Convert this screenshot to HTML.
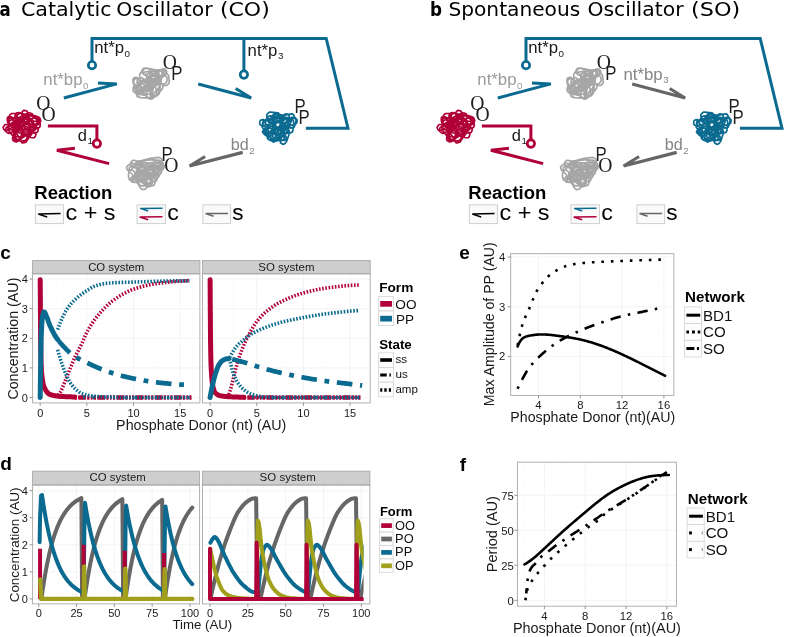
<!DOCTYPE html>
<html lang="en"><head><meta charset="utf-8"><title>Oscillator figure</title>
<style>
html,body{margin:0;padding:0;background:#fff}
body{width:785px;height:637px;overflow:hidden}
svg{display:block}
text{white-space:pre}
</style></head><body>
<svg width="785" height="637" viewBox="0 0 785 637">
<rect width="785" height="637" fill="#fff"/>
<text x="-0.4" y="15.9" font-family='"DejaVu Sans", Verdana, "Liberation Sans", sans-serif' font-size="19" font-weight="bold" fill="#000" text-anchor="start" textLength="11.2" lengthAdjust="spacingAndGlyphs" >a</text>
<text x="20.93" y="15.9" font-family='"DejaVu Sans", Verdana, "Liberation Sans", sans-serif' font-size="19.6" font-weight="normal" fill="#000" text-anchor="start" textLength="90.72" lengthAdjust="spacingAndGlyphs" >Catalytic</text>
<text x="116.34" y="15.9" font-family='"DejaVu Sans", Verdana, "Liberation Sans", sans-serif' font-size="19.6" font-weight="normal" fill="#000" text-anchor="start" textLength="96.19" lengthAdjust="spacingAndGlyphs" >Oscillator</text>
<text x="219.9" y="15.9" font-family='"DejaVu Sans", Verdana, "Liberation Sans", sans-serif' font-size="19.6" font-weight="normal" fill="#000" text-anchor="start" textLength="49.89" lengthAdjust="spacingAndGlyphs" >(CO)</text>
<text x="430" y="15.9" font-family='"DejaVu Sans", Verdana, "Liberation Sans", sans-serif' font-size="19" font-weight="bold" fill="#000" text-anchor="start" textLength="12" lengthAdjust="spacingAndGlyphs" >b</text>
<text x="448.45" y="15.9" font-family='"DejaVu Sans", Verdana, "Liberation Sans", sans-serif' font-size="19.6" font-weight="normal" fill="#000" text-anchor="start" textLength="131.78" lengthAdjust="spacingAndGlyphs" >Spontaneous</text>
<text x="587.44" y="15.9" font-family='"DejaVu Sans", Verdana, "Liberation Sans", sans-serif' font-size="19.6" font-weight="normal" fill="#000" text-anchor="start" textLength="96.09" lengthAdjust="spacingAndGlyphs" >Oscillator</text>
<text x="691.07" y="15.9" font-family='"DejaVu Sans", Verdana, "Liberation Sans", sans-serif' font-size="19.6" font-weight="normal" fill="#000" text-anchor="start" textLength="49.21" lengthAdjust="spacingAndGlyphs" >(SO)</text>
<path d="M92 61 L92 38.45 L326.2 38.45 L348 128.2 L305.9 128.2" fill="none" stroke="#0a6a90" stroke-width="3" stroke-linejoin="miter"/>
<path d="M243.9 38.4 L243.9 71" fill="none" stroke="#0a6a90" stroke-width="3"/>
<circle cx="243.9" cy="74.6" r="3.7" fill="#fff" stroke="#0a6a90" stroke-width="2.7"/>
<circle cx="92" cy="65.2" r="3.7" fill="#fff" stroke="#0a6a90" stroke-width="2.7"/>
<text x="94.2" y="53.2" font-family='"Liberation Sans", Arial, Helvetica, sans-serif' font-size="16.5" font-weight="normal" fill="#1a1a1a" text-anchor="start" textLength="29.8" lengthAdjust="spacingAndGlyphs" >nt*p</text>
<text x="124.6" y="56.6" font-family='"Liberation Sans", Arial, Helvetica, sans-serif' font-size="9.8" font-weight="normal" fill="#1a1a1a" text-anchor="start" >0</text>
<text x="43.3" y="85.2" font-family='"Liberation Sans", Arial, Helvetica, sans-serif' font-size="16.5" font-weight="normal" fill="#9c9c9c" text-anchor="start" textLength="39.2" lengthAdjust="spacingAndGlyphs" >nt*bp</text>
<text x="83.1" y="88.6" font-family='"Liberation Sans", Arial, Helvetica, sans-serif' font-size="9.8" font-weight="normal" fill="#9c9c9c" text-anchor="start" >0</text>
<text x="247.6" y="55.5" font-family='"Liberation Sans", Arial, Helvetica, sans-serif' font-size="16.5" font-weight="normal" fill="#1a1a1a" text-anchor="start" textLength="29.8" lengthAdjust="spacingAndGlyphs" >nt*p</text>
<text x="278" y="58.9" font-family='"Liberation Sans", Arial, Helvetica, sans-serif' font-size="9.8" font-weight="normal" fill="#1a1a1a" text-anchor="start" >3</text>
<text x="230.7" y="150.2" font-family='"Liberation Sans", Arial, Helvetica, sans-serif' font-size="16.5" font-weight="normal" fill="#858585" text-anchor="start" textLength="18" lengthAdjust="spacingAndGlyphs" >bd</text>
<text x="249.3" y="153.6" font-family='"Liberation Sans", Arial, Helvetica, sans-serif' font-size="9.8" font-weight="normal" fill="#858585" text-anchor="start" >2</text>
<text x="77.7" y="140.5" font-family='"Liberation Sans", Arial, Helvetica, sans-serif' font-size="16.5" font-weight="normal" fill="#1a1a1a" text-anchor="start" textLength="9.2" lengthAdjust="spacingAndGlyphs" >d</text>
<text x="87.5" y="143.9" font-family='"Liberation Sans", Arial, Helvetica, sans-serif' font-size="9.8" font-weight="normal" fill="#1a1a1a" text-anchor="start" >1</text>
<path d="M63.8 98 L116.8 83.9 L98 83.1" fill="none" stroke="#0a6a90" stroke-width="3" stroke-linejoin="bevel"/>
<path d="M198.2 84 L251.2 98 L235.7 88.5" fill="none" stroke="#0a6a90" stroke-width="3" stroke-linejoin="bevel"/>
<path d="M242.7 152.4 L189.6 166 L205.1 156.5" fill="none" stroke="#666666" stroke-width="3.2" stroke-linejoin="bevel"/>
<path d="M109.1 163.6 L56.9 150.3 L74.9 148.2" fill="none" stroke="#b00037" stroke-width="3" stroke-linejoin="bevel"/>
<path d="M47.9 126.1 L96.9 126.1 L96.9 140" fill="none" stroke="#b00037" stroke-width="3"/>
<circle cx="96.9" cy="143.6" r="3.7" fill="#fff" stroke="#b00037" stroke-width="2.7"/>
<path d="M19.8 126.8 Q18.29 125.65 17.72 123.84 Q17.89 121.95 18.84 120.3 Q20.63 119.67 22.53 119.62 Q24.31 120.3 25.36 121.88 Q25.26 123.78 25.07 125.67 Q24.92 127.56 24.51 129.42 Q23.26 130.85 21.48 131.5 Q19.66 130.95 18.26 129.67 Q17.5 127.93 16.56 126.28 Q15.87 124.51 14.69 123.02 Q13.47 121.56 13.41 119.66 Q12.63 117.92 11.13 116.75 Q9.28 116.33 7.6 117.21 Q6.91 118.98 7.39 120.82 Q7.62 122.7 9.02 123.99 Q10.87 124.41 12.58 123.57 Q14.17 122.53 15.64 121.33 Q17.08 120.1 18.81 119.3 Q20.37 118.22 22.27 118.37 Q23.61 119.71 24.34 121.47 Q26.02 122.36 27.88 121.97 Q29.58 121.13 31.23 120.2 Q32.6 118.88 33.39 117.15 Q33.17 115.27 32.1 113.7 Q30.38 112.88 28.49 112.74 Q26.67 113.29 25.12 114.4 Q23.29 114.91 21.77 116.04 Q20.08 116.91 18.41 117.83 Q17.78 119.62 18.46 121.39 Q19.69 122.84 20.25 124.65 Q19.93 126.53 18.63 127.91 Q16.84 128.57 15.23 129.57 Q13.66 130.63 12.17 131.82 Q10.66 132.97 8.8 133.37 Q7.01 132.76 5.75 131.34 Q5.28 129.5 6.03 127.75 Q7.58 126.66 8.85 125.24 Q10.4 124.15 11.9 122.98 Q13.4 121.82 14.77 120.49 Q16.34 119.43 17.8 118.22 Q19.51 117.39 21.16 116.44 Q23.06 116.41 24.96 116.51 Q26.85 116.33 28.74 116.16 Q30.61 115.81 32.47 116.16 Q34.37 116.2 36.27 116.19 Q37.89 117.19 38.96 118.76 Q39.11 120.65 38.53 122.46 Q37.56 124.09 36.49 125.67 Q35.5 127.29 34.47 128.88 Q33.1 130.2 31.29 130.79 Q29.5 130.16 28.09 128.88 Q26.22 128.58 24.6 129.57 Q23.49 131.11 22.73 132.85 Q22.4 134.72 21.48 136.38 Q21.2 138.26 19.88 139.63 Q18.07 140.21 16.19 139.89 Q14.68 138.75 14.14 136.93 Q14.3 135.03 15.43 133.51 Q16.23 131.78 17.05 130.07 Q17.77 128.31 18.84 126.75 Q18.77 124.85 18.04 123.09 Q17.2 121.39 16.32 119.7 Q15.77 117.88 14.88 116.21 Q15.24 114.34 16.54 112.95 Q18.34 112.36 20.18 112.84 Q21.98 113.45 23.76 114.1 Q25.51 114.85 27.12 115.86 Q27.89 117.59 27.65 119.48 Q27.45 121.37 26.38 122.94 Q24.6 123.59 22.7 123.43 Q21.05 122.5 19.6 121.27 Q18.11 120.08 16.51 119.06 Q14.89 118.07 13.05 117.61 Q11.26 116.97 9.45 117.56 Q8.07 118.86 7.85 120.75 Q8.52 122.53 9.86 123.88 Q11.02 125.39 12.2 126.87 Q13.41 128.34 14.25 130.04 Q15.47 131.5 16.26 133.23 Q17.48 134.68 18.4 136.34 Q19.39 137.96 19.27 139.86 Q18.05 141.31 16.25 141.93 Q14.37 141.65 12.96 140.38 Q12.4 138.57 12.81 136.71 Q14.06 135.28 15.65 134.24 Q16.99 132.9 18.19 131.42 Q19.57 130.11 20.93 128.79 Q22.23 127.41 23.72 126.22 Q25.31 125.18 26.71 123.9 Q28.18 122.7 29.75 121.63 Q31.04 120.23 32.35 118.86 Q33.82 117.65 35.69 117.3 Q37.37 118.18 38.19 119.9 Q38.3 121.8 37.7 123.6 Q36.45 125.03 34.74 125.86 Q32.9 126.32 31.15 127.06 Q29.5 128 27.66 128.48 Q26.11 129.57 24.27 130.05 Q22.64 131.03 21.54 132.58 Q21.64 134.48 21.12 136.31 Q20.77 138.18 20.34 140.03 Q20.88 141.85 22.43 142.95 Q24.33 142.92 26 142.01 Q26.92 140.35 28.11 138.86 Q29.23 137.33 30.3 135.76 Q31.75 134.54 32.18 132.69 Q31.27 131.02 30.89 129.16 Q30.27 127.36 30.39 125.47 Q31.64 124.04 33.52 123.8 Q35.25 124.59 36.21 126.23 Q36.08 128.13 35.25 129.84 Q33.5 130.58 31.8 131.43 Q30.15 132.37 28.78 133.69 Q27.15 134.66 25.49 135.59 Q24.02 136.79 22.43 137.83 Q20.79 138.79 19.33 140 Q17.5 140.54 15.62 140.32 Q14.3 138.95 13.71 137.14 Q13.33 135.28 13.52 133.39 Q13.28 131.5 13.49 129.62 Q13.43 127.72 13.15 125.84 Q13.06 123.94 13.15 122.04 Q14.37 120.59 16.19 120.04 Q18.06 119.68 19.93 119.37 Q21.8 119.02 23.07 117.61 Q24.91 117.15 26.78 117.5 Q27.99 118.97 28.44 120.81 Q29.11 122.59 29.5 124.45 Q29.92 126.3 30.18 128.18 Q30.69 130.01 31.32 131.81 Q31.25 133.7 30.27 135.33 Q28.74 136.46 26.84 136.48 Q25.09 135.74 24.17 134.08 Q23.35 132.36 22.83 130.54 Q22.14 128.76 21.64 126.93 Q20.65 125.31 20.06 123.51 Q19.36 121.74 18.62 119.99 Q17.65 118.36 16.91 116.61 Q16.39 114.78 14.94 113.55 Q13.05 113.36 11.18 113.71 Q9.59 114.75 8.98 116.55 Q8.82 118.44 8.56 120.33 Q8.47 122.22 8.52 124.12 Q8.5 126.02 8.73 127.91 Q9.82 129.46 11.64 130.01 Q13.49 129.56 14.67 128.08 Q15.29 126.28 16.28 124.66 Q16.75 122.82 18.24 121.64 Q20.07 121.15 21.9 121.66 Q23.3 122.95 23.53 124.84 Q22.83 126.61 21.22 127.61 Q19.34 127.32 17.84 126.16 Q17.38 124.31 18.13 122.57 Q19.59 121.35 21.42 120.85 Q23.31 121.07 25.1 121.71 Q26.72 122.71 28.55 123.2 Q30.19 124.16 31.96 124.86 Q33.65 125.73 35.37 126.52 Q37.08 127.36 38.21 128.89 Q38.33 130.78 37.26 132.35 Q35.42 132.81 33.52 132.9 Q31.84 132 30.13 131.19 Q28.37 130.46 26.52 130.02 Q24.74 129.35 22.86 129.08 Q20.98 128.82 19.3 127.94 Q18.36 126.29 18.66 124.41 Q20.1 123.17 21.41 121.8 Q22.31 120.12 23.58 118.71 Q24.98 117.43 26.88 117.34 Q28.52 118.29 29.91 119.59 Q31.45 120.7 32.98 121.83 Q33.77 123.55 35.3 124.68 Q37.19 124.95 38.92 124.17 Q40.15 122.73 40.73 120.92 Q40.48 119.04 39.37 117.49 Q37.69 116.6 35.87 116.07 Q34.09 115.41 32.22 115.07 Q30.34 114.81 28.45 114.63 Q26.56 114.41 24.99 115.48 Q24.52 117.32 25.12 119.12 Q26.75 120.09 28.65 120.11 Q30.42 119.42 32.13 118.58 Q33.89 117.86 35.74 118.3 Q36.88 119.82 37.14 121.7 Q36.57 123.51 35.61 125.15 Q34.82 126.88 33.69 128.4 Q32.43 129.83 31.33 131.38 Q30.1 132.82 29.31 134.55 Q28.36 136.2 27.23 137.72 Q26.53 139.49 24.97 140.57 Q23.08 140.78 21.2 141.05 Q19.31 140.92 17.69 139.93 Q16.21 138.74 14.98 137.29 Q13.5 136.1 12.04 134.89 Q10.92 133.35 9.74 131.86 Q8.36 130.56 7.95 128.7 Q8.39 126.85 9.92 125.72 Q11.82 125.62 13.72 125.62 Q15.58 126 17.45 126.34 Q19.34 126.52 21.24 126.45 Q23.14 126.5 25.03 126.69 Q26.92 126.9 28.71 127.52 Q30.61 127.52 32.51 127.58 Q34.34 128.1 36.17 128.61 Q38.06 128.37 39.59 127.24 Q40.58 125.62 40.26 123.75 Q39.2 122.18 37.41 121.52 Q35.53 121.27 33.65 121.02 Q31.88 120.32 30.16 119.51 Q28.43 118.73 26.69 117.97 Q24.9 117.34 23.13 116.64 Q21.79 115.29 21.46 113.42 Q22.11 111.64 23.59 110.44 Q25.49 110.4 27.17 111.3 Q28.12 112.95 28.69 114.76 Q29.38 116.53 29.89 118.36 Q30.9 119.97 31.46 121.78 Q32.34 123.47 33.11 125.2 Q33.89 126.94 33.54 128.81 Q32.12 130.07 30.53 131.1 Q29.13 132.39 28.76 134.25 Q29.3 136.07 30.57 137.48 Q32.42 137.93 34.29 137.58 Q35.72 136.33 35.96 134.45 Q35.04 132.79 33.51 131.65 Q31.66 131.24 29.94 132.05 Q28.41 133.18 26.61 133.79 Q24.86 134.51 23.25 135.53 Q21.6 136.46 19.72 136.73 Q17.82 136.68 15.95 136.36 Q14.5 135.13 14.1 133.27 Q14.68 131.47 14.9 129.58 Q15.31 127.72 15.75 125.88 Q15.85 123.98 16.28 122.13 Q16.2 120.23 16.65 118.38 Q17.07 116.53 17.56 114.69 Q19.06 113.53 20.94 113.26 Q22.78 113.72 24 115.18 Q24.42 117.03 24.01 118.89 Q22.64 120.2 21.09 121.29 Q19.53 122.37 17.88 123.32 Q16.4 124.52 14.84 125.6 Q13.3 126.71 11.6 127.57 Q10.09 128.72 8.52 129.78 Q6.91 130.79 5.01 130.65 Q3.52 129.49 3.07 127.64 Q3.68 125.84 5.06 124.53 Q6.95 124.37 8.78 124.87 Q10.51 125.66 12.34 125.14 Q13.78 123.91 14.42 122.12 Q14.3 120.22 13.2 118.67 Q11.46 117.9 9.58 118.16 Q7.95 119.12 7.37 120.93 Q7.81 122.78 8.93 124.32 Q10.75 124.86 12.65 124.84 Q14.55 124.8 16.45 124.79 Q18.34 124.97 20.24 124.93 Q22.11 125.22 23.98 124.87 Q25.85 124.52 27.75 124.64 Q29.33 125.69 30.28 127.33 Q30.27 129.23 29.08 130.71 Q27.28 131.32 25.52 132.06 Q23.9 133.04 22.09 133.61 Q20.19 133.47 18.54 132.53 Q17.01 131.4 15.8 129.94 Q14.24 128.85 13.03 127.38 Q11.47 126.29 9.95 125.16 Q8.88 123.59 8.82 121.69 Q9.85 120.09 11.67 119.56 Q13.53 119.96 14.7 121.46 Q14.99 123.33 14.69 125.21 Q14.55 127.1 14.52 129 Q14.2 130.88 14.47 132.76 Q14.18 134.64 14.47 136.51 Q14.33 138.41 15.13 140.13 Q16.82 140.99 18.72 140.96 Q20.47 140.22 21.31 138.52 Q21.75 136.67 21.74 134.77 Q21.86 132.87 22.06 130.98 Q22.11 129.09 22.57 127.24" fill="none" stroke="#b00037" stroke-width="1.7" stroke-linecap="round" stroke-linejoin="round"/>
<path d="M148.2 84.4 Q146.67 83.27 146.03 81.48 Q146.74 79.72 148.41 78.81 Q150.27 78.43 152.15 78.74 Q154.05 78.67 155.95 78.62 Q157.84 78.79 159.16 80.15 Q159.45 82.03 159.03 83.88 Q157.64 85.18 155.78 85.56 Q153.93 85.15 152.05 84.85 Q150.26 84.21 148.63 83.24 Q146.77 82.84 145.03 82.07 Q143.35 81.19 141.49 80.79 Q139.66 81.3 138.39 82.71 Q138.23 84.6 139.16 86.26 Q140.82 87.18 142.72 87.19 Q144.56 86.7 146.46 86.74 Q148.36 86.67 150.18 86.14 Q151.94 86.87 153.14 88.34 Q153.17 90.24 152.49 92.02 Q150.94 93.12 149.15 93.75 Q147.29 94.17 145.53 94.87 Q143.7 95.38 141.95 94.63 Q140.72 93.18 140.72 91.28 Q141.62 89.61 143.11 88.44 Q144.81 87.57 146.52 86.76 Q148.11 85.72 149.5 84.42 Q151.04 83.3 152.66 82.32 Q154.03 81 155.63 79.97 Q157.06 78.72 157.66 76.91 Q157.01 75.13 155.49 74 Q153.62 73.65 151.92 74.52 Q150.43 75.69 148.9 76.82 Q148.05 78.52 148.55 80.36 Q149.72 81.85 151.37 82.79 Q153.27 82.91 155.06 82.27 Q156.17 80.73 156.65 78.89 Q157.03 77.03 157.22 75.14 Q157.27 73.24 156.18 71.69 Q154.37 71.11 152.47 71.28 Q150.96 72.42 150.18 74.16 Q149.59 75.96 148.62 77.6 Q148.15 79.44 147.69 81.28 Q146.62 82.85 146.02 84.66 Q145.19 86.36 144.51 88.14 Q143.93 89.95 143.16 91.68 Q141.8 93.01 139.92 93.27 Q138.12 92.64 136.98 91.12 Q137.02 89.22 137.79 87.49 Q138.35 85.67 138.97 83.87 Q139.76 82.14 139.46 80.27 Q138.48 78.64 136.98 77.48 Q135.08 77.34 133.41 78.25 Q132.6 79.96 132.91 81.84 Q133.57 83.62 133.89 85.49 Q134.75 87.18 134.95 89.07 Q135.44 90.91 135.76 92.78 Q136.98 94.24 138.79 94.81 Q140.69 94.65 142.27 93.6 Q142.78 91.77 143.08 89.89 Q143.88 88.17 144.66 86.44 Q144.31 84.57 142.87 83.32 Q141.01 82.94 139.19 83.48 Q137.58 84.5 135.9 85.38 Q134.26 86.34 133.14 87.87 Q132.93 89.76 133.49 91.58 Q134.69 93.05 136.56 93.4 Q138.42 93.04 139.96 91.92 Q141.75 91.27 143.31 90.19 Q144.97 89.26 146.61 88.3 Q148.36 87.56 150.03 86.65 Q151.74 85.83 153.54 85.22 Q155.3 84.51 157.07 83.8 Q158.68 82.8 160.41 82.02 Q161.36 80.37 161.54 78.48 Q160.81 76.73 159.18 75.76 Q157.28 75.93 155.8 77.11 Q155.07 78.86 155.03 80.76 Q155.15 82.66 155.25 84.56 Q155.31 86.46 155.91 88.26 Q156.02 90.16 156.58 91.97 Q156.58 93.87 155.68 95.54 Q153.94 96.3 152.04 96.32 Q150.57 95.12 149.98 93.31 Q150.48 91.48 150.93 89.64 Q151.5 87.82 152.4 86.15 Q152.97 84.34 153.99 82.74 Q155.6 81.72 157.01 80.45 Q158.51 79.29 160.04 78.15 Q161.82 77.51 163.45 76.53 Q164.82 75.21 165.59 73.47 Q165.37 71.58 164.01 70.26 Q162.22 69.63 160.34 69.93 Q158.58 70.65 156.84 71.4 Q155.25 72.44 153.74 73.6 Q152.32 74.86 150.79 75.98 Q149.27 77.13 147.72 78.22 Q146.09 79.21 144.3 79.84 Q142.63 80.75 140.9 81.53 Q139.28 82.53 138.61 84.3 Q139.11 86.14 140.42 87.51 Q141.7 88.92 142.88 90.4 Q144.1 91.86 144.91 93.58 Q146.21 94.96 147.3 96.52 Q148.34 98.11 149.94 99.13 Q151.84 99.2 153.4 98.11 Q153.92 96.28 153.35 94.46 Q152.12 93.02 150.97 91.5 Q149.15 90.95 147.26 90.81 Q145.37 90.95 143.47 91.12 Q141.57 91.01 139.68 91.04 Q137.8 91.37 136.6 92.85 Q136.23 94.71 137.17 96.36 Q138.9 97.16 140.72 97.69 Q142.62 97.8 144.51 97.96 Q146.41 97.82 148.26 98.22 Q150.11 97.78 151.5 96.48 Q152.21 94.72 151.89 92.85 Q150.93 91.2 149.77 89.7 Q148.91 88.01 148.13 86.27 Q147.23 84.6 146.15 83.04 Q145.05 81.49 144.28 79.75 Q143.05 78.3 141.32 77.53 Q139.43 77.71 137.96 78.92 Q137.05 80.59 136.95 82.49 Q137.95 84.1 139.75 84.73 Q141.5 83.99 143.27 83.3 Q145.02 82.55 146.82 81.94 Q148.61 81.3 150.34 80.52 Q152.09 79.79 153.93 79.32 Q155.82 79.07 157.63 78.52 Q159.33 77.67 161.22 77.42 Q162.93 76.6 164.5 75.52 Q166.16 74.61 166.85 72.84 Q166.62 70.95 165.53 69.39 Q163.77 68.69 161.95 69.24 Q160.1 69.7 158.91 71.18 Q158.54 73.04 159.03 74.88 Q160.4 76.19 160.98 78 Q160.76 79.89 160.39 81.75 Q159.97 83.6 159.5 85.44 Q158.89 87.24 158.53 89.11 Q158.11 90.96 158.78 92.74 Q158.41 94.6 157.07 95.94 Q155.18 96.16 153.55 95.18 Q152.28 93.76 151.03 92.33 Q149.86 90.84 148.38 89.64 Q147.14 88.2 145.65 87.02 Q144.51 85.5 143.31 84.03 Q142.16 82.52 140.93 81.07 Q139.68 79.64 138.17 78.48 Q136.28 78.31 134.56 79.12 Q133.42 80.64 133.46 82.54 Q134.66 84.01 135.69 85.61 Q136.94 87.04 138.45 88.19 Q139.66 89.65 141.13 90.86 Q142.19 92.43 143.47 93.84 Q144.88 95.11 146.3 96.37 Q147.55 97.81 149.34 98.42 Q151.11 97.72 152.03 96.06 Q152.97 94.41 154.22 92.98 Q155.46 91.54 156.73 90.13 Q158.12 88.83 159.09 87.2 Q160.13 85.61 159.91 83.72 Q158.78 82.19 157.02 81.48 Q155.23 80.83 153.69 79.72 Q151.91 79.06 150.38 77.93 Q148.73 76.99 147.11 76 Q145.34 75.31 143.65 74.44 Q142.21 73.2 141.51 71.43 Q142.14 69.64 143.41 68.23 Q145.26 67.79 147.13 68.15 Q148.92 68.77 150.82 68.81 Q152.66 69.28 154.5 69.76 Q156.4 69.7 158.27 70.07 Q160.12 70.48 161.59 71.68 Q162.47 73.37 162.12 75.24 Q161.13 76.86 160.18 78.5 Q159.17 80.11 158.01 81.61 Q157.04 83.25 156.14 84.92 Q154.95 86.4 153.65 87.79 Q152.34 89.17 151.39 90.81 Q150.13 92.23 149.81 94.11 Q150.35 95.93 151.61 97.36 Q153.46 97.76 155.12 96.83 Q156.49 95.51 157.44 93.87 Q158.88 92.63 160.29 91.35 Q161.33 89.77 162.6 88.35 Q163.21 86.55 162.91 84.67 Q161.71 83.19 159.91 82.58 Q158.05 82.95 156.24 82.37 Q155.16 80.81 155.09 78.91 Q156.09 77.3 157.8 76.48 Q159.66 76.09 161.41 75.34 Q163.3 75.26 165.09 74.6 Q166.36 73.19 166.79 71.34 Q165.92 69.66 164.17 68.9 Q162.27 68.94 160.58 69.81 Q159.05 70.93 157.4 71.87 Q156.76 73.66 157.47 75.42 Q158.14 77.2 159.28 78.72 Q160.05 80.46 160.94 82.13 Q161.68 83.89 163.12 85.12 Q164.93 85.69 166.81 85.4 Q168.35 84.29 169.27 82.63 Q169.1 80.74 168.94 78.84 Q168.62 76.97 168.46 75.08 Q167.28 73.59 165.42 73.21 Q163.65 73.88 162.33 75.25 Q161.67 77.04 161.2 78.88 Q161.26 80.78 160.73 82.6 Q160.8 84.5 160.24 86.31 Q159.85 88.17 159.93 90.07 Q159.66 91.95 159.17 93.79 Q158.02 95.31 156.21 95.87 Q154.33 95.6 152.87 94.38 Q152.19 92.61 151.67 90.78 Q150.85 89.07 149.74 87.52 Q149.16 85.71 148.58 83.9 Q147.95 82.11 147.05 80.44 Q145.33 79.63 143.43 79.54 Q141.73 80.38 140.15 81.44 Q138.74 82.71 137.44 84.1 Q136.15 85.49 135.9 87.38 Q136.44 89.2 137.77 90.56 Q139.53 91.26 141.42 91.09 Q143.24 90.55 145.13 90.35 Q147.03 90.17 148.87 89.72 Q150.63 90.45 152.49 90.08 Q153.64 88.57 153.75 86.67 Q152.76 85.04 152.23 83.22 Q151.48 81.47 150.53 79.83 Q150.8 77.95 152 76.49 Q153.87 76.14 155.57 76.99 Q157.46 76.82 159.28 76.27 Q161.16 75.97 163 75.51 Q164.9 75.44 166.39 76.63 Q167.17 78.36 167.14 80.26 Q166.61 82.08 165.36 83.51 Q163.66 84.37 161.81 83.97 Q160.34 82.76 159.83 80.93 Q160.09 79.05 161.29 77.57 Q162.39 76.02 163.58 74.54 Q163.49 72.64 162.62 70.96 Q160.97 70.02 159.07 69.94 Q157.19 70.24 155.29 70.21 Q153.5 70.82 151.64 71.21 Q149.74 71.34 147.85 71.57 Q145.98 71.91 144.09 72.09 Q142.2 72.15 140.45 72.9 Q139.46 74.52 139.69 76.41 Q140.01 78.28 139.85 80.18 Q140.24 82.04 140.59 83.9 Q140.86 85.78 141 87.68 Q141.21 89.57 140.93 91.45 Q141.02 93.34 142.34 94.71 Q144.23 94.94 146.03 94.35 Q147.21 92.86 147.27 90.96 Q147.33 89.06 147.12 87.17 Q146.89 85.29 147.13 83.4 Q146.85 81.52 146.52 79.65 Q146.76 77.77 146.77 75.87 Q147.5 74.11 148.96 72.9 Q150.85 72.73 152.65 73.34 Q154.08 74.59 155.6 75.74 Q156.47 77.43 156.08 79.29 Q154.72 80.62 152.91 81.18 Q151.03 80.9 149.71 79.53 Q149.56 77.64 150.16 75.84 Q151.73 74.77 153.63 74.85 Q155.3 75.75 156.17 77.44 Q155.93 79.33 154.52 80.6 Q152.62 80.61 151.05 79.54 Q150.21 77.84 150.52 75.96 Q150.4 74.07 150.57 72.17 Q150.35 70.29 149.04 68.91 Q147.3 68.14 145.41 68.32 Q143.75 69.25 142.62 70.77 Q142.71 72.67 143.8 74.23 Q145.64 74.69 147.5 74.28 Q148.74 72.85 150.61 72.51 Q152.42 73.1 153.79 74.42" fill="none" stroke="#a6a6a6" stroke-width="1.7" stroke-linecap="round" stroke-linejoin="round"/>
<path d="M142.6 173.7 Q144 174.99 145.8 175.59 Q147.68 175.3 148.92 173.86 Q149.33 172 148.82 170.17 Q147.69 168.64 146.41 167.24 Q144.95 166.03 143.7 164.6 Q142.34 163.27 140.89 162.05 Q138.99 162.04 137.33 162.98 Q136.21 164.51 136.13 166.41 Q137 168.1 138.24 169.54 Q138.95 171.3 139.64 173.07 Q140.9 174.5 141.59 176.27 Q142.61 177.87 143.45 179.57 Q144.72 180.99 145.35 182.78 Q145.09 184.67 143.7 185.95 Q141.8 186.06 140.04 185.35 Q138.98 183.78 138.49 181.94 Q138.12 180.08 138.02 178.18 Q137.51 176.35 137.35 174.45 Q136.79 172.64 136.7 170.74 Q136.42 168.86 135.88 167.04 Q134.42 165.82 132.53 165.58 Q130.72 166.16 129.39 167.52 Q128.83 169.33 129.31 171.18 Q130.53 172.63 131.83 174.01 Q132.99 175.52 133.88 177.2 Q134.74 178.89 135.92 180.38 Q136.8 182.07 137.85 183.65 Q138.84 185.27 139.72 186.95 Q140.63 188.62 142.27 189.58 Q144.16 189.51 145.85 188.64 Q146.96 187.09 147.39 185.24 Q146.97 183.38 145.91 181.81 Q144.08 181.3 142.21 180.96 Q140.31 180.87 138.5 180.28 Q136.95 179.18 135.67 177.78 Q135.57 175.88 136.34 174.14 Q137.91 173.07 139.71 172.47 Q141.42 171.65 143.16 170.87 Q145.05 170.74 146.94 170.99 Q148.38 172.23 148.71 174.1 Q149.42 175.86 150 177.67 Q150.34 179.54 150.34 181.44 Q151.04 183.21 151.05 185.11 Q149.88 186.6 148.02 186.99 Q146.15 186.63 144.57 185.58 Q143.65 183.92 143.86 182.03 Q145.26 180.75 146.31 179.16 Q147.79 177.97 148.9 176.43 Q150.39 175.24 151.4 173.64 Q152.84 172.4 153.83 170.78 Q155.3 169.56 156.75 168.35 Q157.99 166.91 159.18 165.43 Q160.41 163.97 161.87 162.76 Q162.37 160.92 161.8 159.11 Q160.36 157.88 158.53 157.37 Q156.66 157.72 154.76 157.84 Q152.88 158.11 151.07 158.67 Q149.17 158.79 147.29 159.09 Q145.42 159.42 143.65 160.11 Q141.98 161.01 140.98 162.62 Q141.21 164.51 142.12 166.18 Q143.76 167.14 145.64 166.92 Q147.49 166.48 149.37 166.18 Q151.17 165.57 153 165.07 Q154.79 164.43 156.55 163.72 Q158.37 163.19 160.2 162.68 Q161.96 163.39 162.99 164.99 Q163.26 166.87 162.34 168.53 Q160.58 169.25 158.7 169 Q156.82 168.69 155.06 167.99 Q153.19 167.66 151.44 166.9 Q149.58 166.52 147.73 166.1 Q146 166.9 144.84 168.4 Q144.74 170.3 145.56 172.01 Q147.24 172.91 149.14 172.88 Q151.01 173.18 152.9 172.95 Q154.8 173.05 156.7 173.04 Q158.44 172.29 159.76 170.92 Q160.08 169.05 159.11 167.41 Q157.54 166.34 155.65 166.53 Q154.14 167.68 152.49 168.62 Q150.82 169.54 149.17 170.48 Q148.24 172.14 148.42 174.03 Q149.71 175.42 151.42 176.25 Q153.32 176.32 154.96 175.36 Q156.13 173.87 156.84 172.11 Q157.78 170.46 158.56 168.73 Q159.73 167.22 160.96 165.78 Q161.74 164.05 161.5 162.16 Q160.3 160.69 158.53 159.99 Q156.64 160.11 154.74 160.03 Q152.84 160.03 150.94 159.94 Q149.04 159.93 147.14 160.07 Q145.26 160.31 143.36 160.36 Q141.5 160.73 139.69 161.32 Q138.61 162.88 138.19 164.73 Q138.9 166.49 140.58 167.38 Q142.42 166.93 143.91 165.75 Q145.04 164.22 146.39 162.89 Q148.26 162.51 150.03 163.18 Q151.28 164.61 152.07 166.34 Q152.33 168.22 153.12 169.95 Q153.67 171.77 154.08 173.63 Q154.6 175.45 154.98 177.32 Q154.82 179.21 155.15 181.08 Q155.1 182.98 154.31 184.71 Q152.78 185.84 150.9 186.05 Q149.09 185.48 148.04 183.89 Q147.2 182.19 146.25 180.54 Q145.7 178.72 145.08 176.92 Q144.13 175.28 143.57 173.46 Q142.84 171.71 141.49 170.38 Q139.67 169.82 137.91 170.52 Q136.7 171.99 135.97 173.74 Q134.94 175.34 135.13 177.23 Q136.15 178.84 137.67 179.98 Q139.18 181.13 140.9 181.94 Q142.42 183.08 144.07 184.02 Q145.67 185.04 147.57 184.97 Q149.12 183.88 150.06 182.22 Q151.28 180.77 152.47 179.29 Q153.63 177.78 154.67 176.19 Q154.59 174.29 153.27 172.92 Q151.44 172.43 149.54 172.5 Q147.66 172.76 145.76 172.92 Q143.86 173.01 141.97 172.86 Q140.12 172.45 138.23 172.18 Q136.34 172.29 134.86 173.48 Q134.51 175.35 135.34 177.05 Q134.88 178.9 133.56 180.26 Q131.71 180.71 129.89 180.17 Q128.64 178.75 128.58 176.85 Q128.39 174.96 128.66 173.08 Q128.91 171.19 130.31 169.91 Q132.21 169.87 133.65 171.1 Q135.01 172.43 136.33 173.8 Q137.8 175 138.91 176.54 Q140.32 177.81 141.61 179.21 Q142.74 180.74 143.99 182.16 Q145.53 183.28 146.67 184.8 Q148.36 185.68 150.24 185.41 Q151.8 184.33 152.52 182.58 Q152.22 180.7 152.24 178.8 Q152.54 176.92 152.61 175.02 Q152.57 173.13 152.74 171.23 Q152.86 169.34 152.72 167.44 Q153.75 165.85 155.47 165.05 Q157.29 165.6 158.6 166.98 Q158.83 168.87 158.55 170.75 Q157.12 172 155.24 172.24 Q153.44 172.86 151.56 173.09 Q149.7 173.51 147.82 173.73 Q145.98 174.21 144.18 174.82 Q142.28 174.86 140.43 175.31 Q138.55 175.6 136.66 175.79 Q134.8 176.14 132.91 176.32 Q131.22 177.2 130.49 178.96 Q131 180.79 132.32 182.15 Q134.2 182.42 136.05 181.98 Q137.89 181.52 139.66 180.83 Q141.47 180.26 143.24 179.58 Q144.97 178.78 146.43 177.56 Q147.48 175.98 148.97 174.8 Q150.4 173.55 151.83 172.3 Q153.01 170.81 154.24 169.37 Q155.54 167.98 156.75 166.51 Q158.55 165.89 160.33 166.53 Q161.57 167.97 162.08 169.8 Q161.4 171.58 160.95 173.42 Q159.53 174.68 157.64 174.88 Q155.97 173.97 155.01 172.33 Q155.01 170.43 156.23 168.98 Q157.3 167.41 158.1 165.69 Q159.48 164.38 161.3 163.82 Q163.12 164.34 164.32 165.82 Q164.28 167.72 163.06 169.18 Q161.88 170.67 160.72 172.17 Q160.05 173.95 159.28 175.69 Q158.06 177.14 157.08 178.77 Q156.21 180.46 154.52 181.32 Q152.62 181.31 150.9 180.51 Q149.74 179 149.61 177.11 Q150.33 175.35 151.95 174.36 Q153.75 173.74 154.81 172.16 Q154.7 170.27 153.7 168.65 Q151.89 168.05 150.01 168.25 Q148.11 168.39 146.32 169.01 Q144.43 169.22 142.64 169.87 Q140.88 170.59 139.07 171.16 Q137.24 171.66 136.14 173.21 Q136 175.1 136.75 176.84 Q138.28 177.97 140.14 178.39 Q142.02 178.67 143.9 178.93 Q145.78 179.19 147.62 179.66 Q149.47 179.21 150.69 177.76 Q150.89 175.87 151.3 174.02 Q152.08 172.29 152.49 170.43 Q153.2 168.66 153.76 166.85 Q155.38 165.85 157.26 166.07 Q158.66 167.36 159.27 169.16 Q158.89 171.02 158.31 172.83 Q157.66 174.62 156.4 176.04 Q154.71 176.91 152.84 176.56 Q150.95 176.35 149.06 176.54 Q147.18 176.24 145.29 176.33 Q143.4 176.14 141.52 175.85 Q139.62 175.96 137.78 175.48 Q136.5 174.08 136.24 172.2 Q136.89 170.42 138.18 169.02 Q139.93 168.28 141.77 167.78 Q143.44 166.88 145.31 166.57 Q147.19 166.26 148.91 165.47 Q150.71 164.86 152.57 164.48 Q153.96 163.18 154.64 161.41 Q154.23 159.55 152.78 158.33 Q150.92 157.93 149.14 158.58 Q147.32 159.12 145.51 159.71 Q143.64 160.02 141.85 160.66 Q139.97 160.93 138.07 161.1 Q136.38 161.95 135.39 163.58 Q134.31 165.14 133.3 166.75 Q132.1 168.22 131.23 169.91 Q129.57 170.83 127.7 170.45 Q126.54 168.95 126.59 167.05 Q127.58 165.42 129.28 164.57 Q131.04 163.87 132.82 163.21 Q134.6 163.88 136.37 164.58 Q138.16 165.21 139.96 165.83 Q141.74 165.16 143.62 164.9 Q145.46 164.42 147.24 163.78 Q149.11 163.4 150.92 162.83 Q152.81 162.68 154.6 162.04 Q156.5 162.02 158.4 161.9 Q160.24 161.46 162.1 161.88 Q163.45 163.22 163.66 165.11 Q162.76 166.78 161.21 167.87 Q159.31 167.76 157.41 167.76 Q155.55 167.38 153.65 167.42 Q151.76 167.23 149.86 167.1 Q147.96 167.03 146.09 167.33 Q144.19 167.27 142.31 167.56 Q140.42 167.36 138.53 167.49 Q136.63 167.37 134.75 167.64 Q132.85 167.59 131.3 166.49 Q130.46 164.79 130.47 162.89 Q131.47 161.27 133.11 160.31 Q135.01 160.28 136.75 161.04 Q138.17 162.3 139.91 163.07 Q141.61 163.91 142.94 165.27 Q144.51 166.33 145.82 167.71 Q146.47 169.5 147.37 171.18 Q148.32 172.82 149 174.59 Q149.91 176.26 150.53 178.05 Q151.45 179.72 152.52 181.28 Q154.35 181.8 156.07 180.99 Q157.13 179.4 157.02 177.51 Q156.06 175.87 155.03 174.28 Q153.96 172.7 152.73 171.26 Q151.32 169.99 149.94 168.68 Q148.63 167.3 147.76 165.61 Q146.54 164.15 145.64 162.48 Q143.88 161.76 142.04 162.21 Q140.48 163.3 139.81 165.08 Q139.52 166.95 139.55 168.85 Q139.43 170.75 139.29 172.64 Q139.18 174.54 139.51 176.41 Q139.88 178.28 140.08 180.17 Q139.03 181.75 137.33 182.59 Q135.43 182.71 133.75 181.83 Q132.83 180.17 132.68 178.27 Q133.48 176.55 135.16 175.67 Q135.98 173.95 136.53 172.13 Q137.33 170.41 138.23 168.73 Q139.23 167.12 140.87 166.16 Q142.77 166.04 144.4 167.01 Q145.28 168.7 146.25 170.33 Q147.34 171.89 148.12 173.62 Q147.79 175.49 146.51 176.9 Q144.64 177.21 142.82 176.67 Q141.37 175.43 140.75 173.64" fill="none" stroke="#a6a6a6" stroke-width="1.7" stroke-linecap="round" stroke-linejoin="round"/>
<path d="M276.2 128.5 Q274.32 128.23 272.52 128.84 Q271.11 130.12 270.4 131.88 Q270.78 133.74 270.72 135.64 Q270.88 137.54 270.76 139.43 Q271.52 141.17 273.2 142.06 Q275.07 141.71 276.6 140.58 Q277.17 138.77 276.8 136.9 Q275.52 135.5 274.53 133.87 Q273.2 132.52 272.74 130.68 Q272.87 128.78 272.68 126.89 Q272.92 125.01 272.69 123.12 Q272.57 121.22 272.69 119.33 Q272.7 117.43 272.65 115.53 Q273.52 113.84 275.05 112.71 Q276.91 112.36 278.65 113.13 Q279.66 114.74 280.41 116.49 Q281.07 118.27 281.58 120.1 Q282.44 121.79 283.13 123.56 Q283.65 125.39 284.68 126.99 Q285.41 128.74 286.12 130.5 Q286.96 132.2 288.56 133.24 Q290.45 133.14 292.12 132.23 Q293.1 130.6 293.08 128.7 Q293.57 126.87 293.73 124.97 Q293.71 123.07 293.61 121.18 Q292.48 119.64 290.64 119.17 Q288.78 118.81 286.88 118.73 Q284.99 118.95 283.09 118.96 Q281.21 118.72 279.33 118.44 Q277.43 118.43 275.53 118.38 Q273.65 118.65 271.76 118.89 Q269.87 118.84 267.97 118.78 Q266.26 119.61 265.2 121.18 Q265.11 123.08 266.21 124.63 Q267.91 125.46 269.79 125.78 Q271.65 126.13 273.55 126.03 Q275.4 126.47 277.22 127.03 Q279.1 127.29 280.95 127.73 Q282.85 127.69 284.74 127.55 Q286.64 127.64 288.03 128.93 Q288.85 130.65 288.32 132.47 Q287.06 133.89 285.19 134.23 Q283.33 133.85 281.8 132.73 Q280.96 131.02 281.1 129.13 Q282.45 127.78 284.24 127.15 Q285.83 126.11 287.56 125.31 Q288.59 123.72 288.59 121.82 Q287.63 120.18 285.92 119.35 Q284.02 119.28 282.21 119.86 Q280.36 120.32 278.56 120.91 Q276.73 121.42 274.84 121.23 Q273.48 119.9 272.87 118.1 Q273.06 116.21 274.37 114.83 Q276.22 114.39 278.1 114.66 Q279.49 115.94 280.26 117.68 Q279.98 119.56 278.77 121.03 Q277.38 122.32 275.73 123.28 Q274.15 124.32 272.68 125.53 Q271.13 126.62 269.24 126.82 Q267.34 126.92 265.45 127.15 Q263.78 126.25 262.55 124.8 Q262.32 122.92 263.23 121.25 Q264.92 120.37 266.81 120.23 Q268.68 120.56 270.56 120.82 Q272.43 121.2 274.31 121.48 Q276.21 121.55 278.1 121.5 Q279.93 122.01 281.83 121.98 Q283.46 122.97 284.11 124.75 Q283.77 126.62 283.7 128.52 Q283.99 130.4 284.13 132.29 Q284.42 134.17 284.41 136.07 Q284.5 137.97 283.6 139.64 Q282.04 140.73 280.19 141.15 Q278.49 140.29 277.34 138.78 Q276.82 136.95 276.39 135.1 Q276.06 133.23 275.67 131.37 Q274.6 129.8 273.76 128.09 Q272.89 126.4 273.04 124.51 Q274.05 122.9 275.65 121.87 Q277.52 121.5 279.31 122.13 Q280.39 123.69 281.03 125.48 Q281.78 127.23 282.35 129.04 Q282.81 130.89 283.7 132.56 Q283.42 134.44 282.42 136.06 Q281.53 137.74 280.44 139.3 Q279.9 141.12 280.6 142.88 Q281.96 144.2 283.86 144.3 Q285.47 143.3 286.45 141.67 Q287.25 139.94 287.72 138.1 Q288.4 136.33 289.04 134.54 Q289.69 132.76 289.36 130.89 Q288.05 129.51 286.55 128.35 Q285.25 126.96 285.03 125.07 Q286.1 123.49 287.41 122.12 Q288.57 120.62 289.96 119.32 Q291.42 118.11 293.25 117.57 Q295.04 118.21 295.98 119.86 Q296.22 121.75 295.46 123.49 Q294.87 125.3 294.21 127.08 Q292.54 127.99 290.64 128.03 Q289.13 126.87 288.22 125.2 Q288.03 123.31 288.91 121.63 Q290.67 120.91 292.06 119.61 Q293.64 118.56 294.44 116.83 Q293.97 114.99 292.49 113.79 Q290.59 113.79 288.76 114.28 Q286.92 114.77 285.07 115.2 Q283.25 115.75 281.38 116.06 Q279.66 116.88 277.78 117.15 Q276.06 117.95 274.21 118.38 Q272.37 118.85 270.61 119.58 Q268.72 119.39 267.33 118.09 Q266.51 116.38 266.93 114.53 Q268.05 112.99 269.7 112.06 Q271.6 111.96 273.45 112.42 Q275.26 112.97 276.93 113.89 Q278.69 114.6 280.42 115.38 Q282.25 115.9 283.93 116.79 Q284.76 118.49 284.32 120.34 Q282.8 121.48 280.9 121.61 Q279.06 122.08 277.19 122.42 Q275.33 122.81 273.47 123.19 Q271.65 123.74 269.81 124.19 Q267.95 124.59 266.08 124.92 Q264.25 125.45 262.51 126.2 Q260.69 125.64 259.7 124.02 Q259.52 122.13 260.3 120.4 Q261.94 119.44 263.83 119.68 Q265.6 120.37 267.38 121.02 Q268.89 122.18 270.56 123.09 Q272.05 124.26 273.8 125 Q275.44 125.96 277.09 126.91 Q278.59 128.07 280.24 129.01 Q282.11 128.64 283.68 127.58 Q284.35 125.8 284.15 123.91 Q282.77 122.6 280.88 122.36 Q279 122.6 277.1 122.73 Q275.22 122.49 273.32 122.6 Q271.64 121.71 270.51 120.18 Q270.4 118.29 271.47 116.72 Q273.14 115.81 275.04 115.79 Q276.69 116.73 277.4 118.49 Q276.79 120.29 276.02 122.03 Q275.68 123.9 275.51 125.79 Q274.75 127.54 274.48 129.42 Q273.69 131.14 273.36 133.01 Q272.63 134.77 272.73 136.67 Q273.92 138.15 275.58 139.07 Q277.44 138.68 278.82 137.37 Q280.41 136.33 282.11 135.49 Q283.65 134.36 285.21 133.28 Q286.92 132.46 288.21 131.06 Q288.89 129.29 288.64 127.4 Q287.33 126.02 285.54 125.41 Q283.67 125.75 281.85 126.31 Q280.35 127.47 278.75 128.5 Q277.09 129.43 275.33 130.13 Q273.63 130.99 272.06 132.06 Q270.33 132.83 268.77 133.92 Q266.95 134.46 265.18 133.76 Q264.11 132.2 264.15 130.3 Q264.81 128.52 266.41 127.5 Q267.79 126.19 269.04 124.76 Q270.28 123.32 271.9 122.32 Q273.23 120.96 274.6 119.65 Q275.89 118.25 277.18 116.86 Q278.55 115.54 280.18 114.57 Q282.07 114.81 283.52 116.04 Q283.84 117.91 282.92 119.57 Q282.3 121.37 281.57 123.12 Q281.04 124.95 280.07 126.58 Q279.43 128.37 278.79 130.16 Q277.82 131.79 276.79 133.39 Q276.21 135.2 275.32 136.88 Q274.42 138.55 273.33 140.11 Q271.51 140.66 269.66 140.22 Q268.34 138.86 267.79 137.04 Q268.38 135.24 268.76 133.38 Q269.1 131.51 268.24 129.81 Q266.59 128.87 264.69 128.94 Q263.11 130.01 262.45 131.79 Q263.07 133.58 264.66 134.62 Q266.04 135.93 267.9 136.31 Q269.77 135.98 271.27 134.81 Q272.77 133.64 274.09 132.28 Q275.97 131.96 277.8 132.45 Q279.16 133.77 279.73 135.59 Q279.37 137.45 278.08 138.85 Q276.22 139.21 274.33 139.41 Q272.55 140.08 270.73 140.61 Q268.92 140.03 267.57 138.69 Q267.05 136.86 267.26 134.97 Q268.55 133.58 270.26 132.74 Q271.96 131.89 273.6 130.95 Q275.18 129.88 276.49 128.51 Q277.96 127.3 279.36 126.02 Q281.07 125.18 282.65 124.13 Q284.32 123.22 285.87 122.12 Q287.29 120.86 288.66 119.54 Q289.38 117.78 289.41 115.88 Q288.29 114.35 286.44 113.9 Q284.58 114.29 283.04 115.4 Q282.2 117.1 282.37 119 Q282.55 120.89 282.52 122.79 Q282.62 124.68 283.24 126.48 Q283.55 128.36 284.1 130.17 Q284.26 132.07 284.72 133.91 Q284 135.67 282.45 136.76 Q280.57 137.06 278.84 136.26 Q277.69 134.75 276.23 133.54 Q274.95 132.13 273.71 130.69 Q272.2 129.54 270.83 128.23 Q268.93 128.11 267.24 128.97 Q266.13 130.51 266.12 132.41 Q266.83 134.18 267.97 135.69 Q269.6 136.68 271.05 137.9 Q272.59 139.01 273.82 140.46 Q275.59 141.16 277.44 140.72 Q278.97 139.6 279.76 137.88 Q280.33 136.06 280.85 134.24 Q281.46 132.43 281.9 130.59 Q282.25 128.72 282.61 126.85 Q283.31 125.09 283.48 123.2 Q282.47 121.58 281.13 120.23 Q279.75 118.93 278.12 117.96 Q276.22 117.79 274.65 118.86 Q273.94 120.62 274.37 122.47 Q275.05 124.24 275.53 126.08 Q275.73 127.97 276.45 129.73 Q278.07 130.72 279.97 130.75 Q281.44 129.55 282.27 127.84 Q282.78 126.01 283.01 124.13 Q282.24 122.39 280.8 121.15 Q278.99 120.59 277.13 120.98 Q275.73 122.27 274.97 124.01 Q274.91 125.91 274.79 127.81 Q274.38 129.66 273.98 131.52 Q272.85 133.04 271.04 133.64 Q269.21 133.14 267.59 132.16 Q266.14 130.92 264.71 129.68 Q263.04 128.76 262.17 127.07 Q262 125.18 263.04 123.59 Q264.37 122.24 265.25 120.56 Q266.5 119.12 267.31 117.4 Q268.71 116.12 270.59 115.89 Q272.42 116.42 274.31 116.63 Q276.17 116.99 278.05 117.3 Q279.95 117.18 281.83 117.45 Q283.73 117.38 285.62 117.3 Q287.52 117.37 289.4 117.68 Q290.86 118.89 291.23 120.76 Q290.86 122.62 289.87 124.24 Q288.32 125.34 287.18 126.86 Q285.69 128.04 284.41 129.44 Q282.59 129.99 280.8 129.33 Q279.82 127.71 279.71 125.81 Q280.4 124.04 281.22 122.33 Q282.1 120.64 283.54 119.41 Q285.43 119.17 287.31 118.88 Q289.11 118.29 290.92 117.72 Q292.67 116.98 294.57 117.07 Q296.08 118.22 297.06 119.85 Q297.37 121.72 296.48 123.4 Q294.79 124.27 292.99 124.88 Q291.15 125.34 289.28 125.7 Q287.48 126.3 285.58 126.36 Q283.71 126.68 281.86 127.11 Q280.03 127.61 278.13 127.58 Q276.25 127.88 274.41 128.36 Q273.13 129.77 272.87 131.65 Q273.62 133.39 275.05 134.64 Q276.93 134.92 278.83 134.94 Q280.73 135.03 282.62 135.17 Q284.52 135.14 286.03 136.3 Q286.42 138.16 285.54 139.85 Q283.8 140.63 281.98 140.1 Q280.5 138.91 279.56 137.26 Q279.59 135.36 280.22 133.57 Q280.41 131.68 280.71 129.8 Q281.33 128 281.96 126.21" fill="none" stroke="#0a6a90" stroke-width="1.7" stroke-linecap="round" stroke-linejoin="round"/>
<text x="36.2" y="110" font-family='"Liberation Serif", "DejaVu Serif", serif' font-size="21" font-weight="normal" fill="#1f1f1f" text-anchor="start" textLength="14.2" lengthAdjust="spacingAndGlyphs" >O</text>
<text x="41.4" y="120.9" font-family='"Liberation Serif", "DejaVu Serif", serif' font-size="21" font-weight="normal" fill="#1f1f1f" text-anchor="start" textLength="14.2" lengthAdjust="spacingAndGlyphs" >O</text>
<text x="162.8" y="69.3" font-family='"Liberation Serif", "DejaVu Serif", serif' font-size="21" font-weight="normal" fill="#1f1f1f" text-anchor="start" textLength="14.2" lengthAdjust="spacingAndGlyphs" >O</text>
<text x="171.3" y="80.4" font-family='"Liberation Sans", Arial, Helvetica, sans-serif' font-size="19.6" font-weight="normal" fill="#1f1f1f" text-anchor="start" textLength="11.2" lengthAdjust="spacingAndGlyphs" >P</text>
<text x="161.6" y="161.3" font-family='"Liberation Sans", Arial, Helvetica, sans-serif' font-size="19.6" font-weight="normal" fill="#1f1f1f" text-anchor="start" textLength="11.2" lengthAdjust="spacingAndGlyphs" >P</text>
<text x="164.2" y="172.1" font-family='"Liberation Serif", "DejaVu Serif", serif' font-size="21" font-weight="normal" fill="#1f1f1f" text-anchor="start" textLength="14.2" lengthAdjust="spacingAndGlyphs" >O</text>
<text x="294.5" y="112.6" font-family='"Liberation Sans", Arial, Helvetica, sans-serif' font-size="19.6" font-weight="normal" fill="#1f1f1f" text-anchor="start" textLength="11.2" lengthAdjust="spacingAndGlyphs" >P</text>
<text x="298.5" y="123.6" font-family='"Liberation Sans", Arial, Helvetica, sans-serif' font-size="19.6" font-weight="normal" fill="#1f1f1f" text-anchor="start" textLength="11.2" lengthAdjust="spacingAndGlyphs" >P</text>
<text x="34.3" y="198.9" font-family='"Liberation Sans", Arial, Helvetica, sans-serif' font-size="18" font-weight="bold" fill="#000" text-anchor="start" textLength="78" lengthAdjust="spacingAndGlyphs" >Reaction</text>
<rect x="35.4" y="204.8" width="28" height="18.8" fill="#fafafa" stroke="#cfcfcf" stroke-width="1"/>
<path d="M60.6 213.4 L38.3 214.1 L47.2 217" fill="none" stroke="#000" stroke-width="1.5" stroke-linejoin="bevel"/>
<text x="65.4" y="219.6" font-family='"Liberation Sans", Arial, Helvetica, sans-serif' font-size="21.5" font-weight="normal" fill="#000" text-anchor="start" textLength="50.2" lengthAdjust="spacingAndGlyphs" >c + s</text>
<rect x="137.1" y="204.8" width="28.4" height="18.8" fill="#fafafa" stroke="#cfcfcf" stroke-width="1"/>
<path d="M162.5 208.2 L140.2 208.4 L148.2 211" fill="none" stroke="#0a6a90" stroke-width="1.5" stroke-linejoin="bevel"/>
<path d="M162.5 216.8 L139.7 217 L148.2 219.8" fill="none" stroke="#b00037" stroke-width="1.5" stroke-linejoin="bevel"/>
<text x="167.3" y="219.6" font-family='"Liberation Sans", Arial, Helvetica, sans-serif' font-size="21.5" font-weight="normal" fill="#000" text-anchor="start" textLength="11.6" lengthAdjust="spacingAndGlyphs" >c</text>
<rect x="202.9" y="204.8" width="27.7" height="18.8" fill="#fafafa" stroke="#cfcfcf" stroke-width="1"/>
<path d="M228.1 213.5 L205.6 213.6 L213.6 216.2" fill="none" stroke="#666666" stroke-width="1.5" stroke-linejoin="bevel"/>
<text x="232.3" y="219.6" font-family='"Liberation Sans", Arial, Helvetica, sans-serif' font-size="21.5" font-weight="normal" fill="#000" text-anchor="start" textLength="11.3" lengthAdjust="spacingAndGlyphs" >s</text>
<path d="M526 61 L526 38.45 L760.2 38.45 L782 128.2 L739.9 128.2" fill="none" stroke="#0a6a90" stroke-width="3" stroke-linejoin="miter"/>
<circle cx="526" cy="65.2" r="3.7" fill="#fff" stroke="#0a6a90" stroke-width="2.7"/>
<text x="528.2" y="53.2" font-family='"Liberation Sans", Arial, Helvetica, sans-serif' font-size="16.5" font-weight="normal" fill="#1a1a1a" text-anchor="start" textLength="29.8" lengthAdjust="spacingAndGlyphs" >nt*p</text>
<text x="558.6" y="56.6" font-family='"Liberation Sans", Arial, Helvetica, sans-serif' font-size="9.8" font-weight="normal" fill="#1a1a1a" text-anchor="start" >0</text>
<text x="477.3" y="85.2" font-family='"Liberation Sans", Arial, Helvetica, sans-serif' font-size="16.5" font-weight="normal" fill="#9c9c9c" text-anchor="start" textLength="39.2" lengthAdjust="spacingAndGlyphs" >nt*bp</text>
<text x="517.1" y="88.6" font-family='"Liberation Sans", Arial, Helvetica, sans-serif' font-size="9.8" font-weight="normal" fill="#9c9c9c" text-anchor="start" >0</text>
<text x="623.4" y="79.7" font-family='"Liberation Sans", Arial, Helvetica, sans-serif' font-size="16.5" font-weight="normal" fill="#858585" text-anchor="start" textLength="39.2" lengthAdjust="spacingAndGlyphs" >nt*bp</text>
<text x="663.2" y="83.1" font-family='"Liberation Sans", Arial, Helvetica, sans-serif' font-size="9.8" font-weight="normal" fill="#858585" text-anchor="start" >3</text>
<text x="664.7" y="150.2" font-family='"Liberation Sans", Arial, Helvetica, sans-serif' font-size="16.5" font-weight="normal" fill="#858585" text-anchor="start" textLength="18" lengthAdjust="spacingAndGlyphs" >bd</text>
<text x="683.3" y="153.6" font-family='"Liberation Sans", Arial, Helvetica, sans-serif' font-size="9.8" font-weight="normal" fill="#858585" text-anchor="start" >2</text>
<text x="511.7" y="140.5" font-family='"Liberation Sans", Arial, Helvetica, sans-serif' font-size="16.5" font-weight="normal" fill="#1a1a1a" text-anchor="start" textLength="9.2" lengthAdjust="spacingAndGlyphs" >d</text>
<text x="521.5" y="143.9" font-family='"Liberation Sans", Arial, Helvetica, sans-serif' font-size="9.8" font-weight="normal" fill="#1a1a1a" text-anchor="start" >1</text>
<path d="M497.8 98 L550.8 83.9 L532 83.1" fill="none" stroke="#0a6a90" stroke-width="3" stroke-linejoin="bevel"/>
<path d="M632.2 84 L685.2 98 L669.7 88.5" fill="none" stroke="#666666" stroke-width="3" stroke-linejoin="bevel"/>
<path d="M676.7 152.4 L623.6 166 L639.1 156.5" fill="none" stroke="#666666" stroke-width="3.2" stroke-linejoin="bevel"/>
<path d="M543.1 163.6 L490.9 150.3 L508.9 148.2" fill="none" stroke="#b00037" stroke-width="3" stroke-linejoin="bevel"/>
<path d="M481.9 126.1 L530.9 126.1 L530.9 140" fill="none" stroke="#b00037" stroke-width="3"/>
<circle cx="530.9" cy="143.6" r="3.7" fill="#fff" stroke="#b00037" stroke-width="2.7"/>
<path d="M453.8 126.8 Q452.29 125.65 451.72 123.84 Q451.89 121.95 452.84 120.3 Q454.63 119.67 456.53 119.62 Q458.31 120.3 459.36 121.88 Q459.26 123.78 459.07 125.67 Q458.92 127.56 458.51 129.42 Q457.26 130.85 455.48 131.5 Q453.66 130.95 452.26 129.67 Q451.5 127.93 450.56 126.28 Q449.87 124.51 448.69 123.02 Q447.47 121.56 447.41 119.66 Q446.63 117.92 445.13 116.75 Q443.28 116.33 441.6 117.21 Q440.91 118.98 441.39 120.82 Q441.62 122.7 443.02 123.99 Q444.87 124.41 446.58 123.57 Q448.17 122.53 449.64 121.33 Q451.08 120.1 452.81 119.3 Q454.37 118.22 456.27 118.37 Q457.61 119.71 458.34 121.47 Q460.02 122.36 461.88 121.97 Q463.58 121.13 465.23 120.2 Q466.6 118.88 467.39 117.15 Q467.17 115.27 466.1 113.7 Q464.38 112.88 462.49 112.74 Q460.67 113.29 459.12 114.4 Q457.29 114.91 455.77 116.04 Q454.08 116.91 452.41 117.83 Q451.78 119.62 452.46 121.39 Q453.69 122.84 454.25 124.65 Q453.93 126.53 452.63 127.91 Q450.84 128.57 449.23 129.57 Q447.66 130.63 446.17 131.82 Q444.66 132.97 442.8 133.37 Q441.01 132.76 439.75 131.34 Q439.28 129.5 440.03 127.75 Q441.58 126.66 442.85 125.24 Q444.4 124.15 445.9 122.98 Q447.4 121.82 448.77 120.49 Q450.34 119.43 451.8 118.22 Q453.51 117.39 455.16 116.44 Q457.06 116.41 458.96 116.51 Q460.85 116.33 462.74 116.16 Q464.61 115.81 466.47 116.16 Q468.37 116.2 470.27 116.19 Q471.89 117.19 472.96 118.76 Q473.11 120.65 472.53 122.46 Q471.56 124.09 470.49 125.67 Q469.5 127.29 468.47 128.88 Q467.1 130.2 465.29 130.79 Q463.5 130.16 462.09 128.88 Q460.22 128.58 458.6 129.57 Q457.49 131.11 456.73 132.85 Q456.4 134.72 455.48 136.38 Q455.2 138.26 453.88 139.63 Q452.07 140.21 450.19 139.89 Q448.68 138.75 448.14 136.93 Q448.3 135.03 449.43 133.51 Q450.23 131.78 451.05 130.07 Q451.77 128.31 452.84 126.75 Q452.77 124.85 452.04 123.09 Q451.2 121.39 450.32 119.7 Q449.77 117.88 448.88 116.21 Q449.24 114.34 450.54 112.95 Q452.34 112.36 454.18 112.84 Q455.98 113.45 457.76 114.1 Q459.51 114.85 461.12 115.86 Q461.89 117.59 461.65 119.48 Q461.45 121.37 460.38 122.94 Q458.6 123.59 456.7 123.43 Q455.05 122.5 453.6 121.27 Q452.11 120.08 450.51 119.06 Q448.89 118.07 447.05 117.61 Q445.26 116.97 443.45 117.56 Q442.07 118.86 441.85 120.75 Q442.52 122.53 443.86 123.88 Q445.02 125.39 446.2 126.87 Q447.41 128.34 448.25 130.04 Q449.47 131.5 450.26 133.23 Q451.48 134.68 452.4 136.34 Q453.39 137.96 453.27 139.86 Q452.05 141.31 450.25 141.93 Q448.37 141.65 446.96 140.38 Q446.4 138.57 446.81 136.71 Q448.06 135.28 449.65 134.24 Q450.99 132.9 452.19 131.42 Q453.57 130.11 454.93 128.79 Q456.23 127.41 457.72 126.22 Q459.31 125.18 460.71 123.9 Q462.18 122.7 463.75 121.63 Q465.04 120.23 466.35 118.86 Q467.82 117.65 469.69 117.3 Q471.37 118.18 472.19 119.9 Q472.3 121.8 471.7 123.6 Q470.45 125.03 468.74 125.86 Q466.9 126.32 465.15 127.06 Q463.5 128 461.66 128.48 Q460.11 129.57 458.27 130.05 Q456.64 131.03 455.54 132.58 Q455.64 134.48 455.12 136.31 Q454.77 138.18 454.34 140.03 Q454.88 141.85 456.43 142.95 Q458.33 142.92 460 142.01 Q460.92 140.35 462.11 138.86 Q463.23 137.33 464.3 135.76 Q465.75 134.54 466.18 132.69 Q465.27 131.02 464.89 129.16 Q464.27 127.36 464.39 125.47 Q465.64 124.04 467.52 123.8 Q469.25 124.59 470.21 126.23 Q470.08 128.13 469.25 129.84 Q467.5 130.58 465.8 131.43 Q464.15 132.37 462.78 133.69 Q461.15 134.66 459.49 135.59 Q458.02 136.79 456.43 137.83 Q454.79 138.79 453.33 140 Q451.5 140.54 449.62 140.32 Q448.3 138.95 447.71 137.14 Q447.33 135.28 447.52 133.39 Q447.28 131.5 447.49 129.62 Q447.43 127.72 447.15 125.84 Q447.06 123.94 447.15 122.04 Q448.37 120.59 450.19 120.04 Q452.06 119.68 453.93 119.37 Q455.8 119.02 457.07 117.61 Q458.91 117.15 460.78 117.5 Q461.99 118.97 462.44 120.81 Q463.11 122.59 463.5 124.45 Q463.92 126.3 464.18 128.18 Q464.69 130.01 465.32 131.81 Q465.25 133.7 464.27 135.33 Q462.74 136.46 460.84 136.48 Q459.09 135.74 458.17 134.08 Q457.35 132.36 456.83 130.54 Q456.14 128.76 455.64 126.93 Q454.65 125.31 454.06 123.51 Q453.36 121.74 452.62 119.99 Q451.65 118.36 450.91 116.61 Q450.39 114.78 448.94 113.55 Q447.05 113.36 445.18 113.71 Q443.59 114.75 442.98 116.55 Q442.82 118.44 442.56 120.33 Q442.47 122.22 442.52 124.12 Q442.5 126.02 442.73 127.91 Q443.82 129.46 445.64 130.01 Q447.49 129.56 448.67 128.08 Q449.29 126.28 450.28 124.66 Q450.75 122.82 452.24 121.64 Q454.07 121.15 455.9 121.66 Q457.3 122.95 457.53 124.84 Q456.83 126.61 455.22 127.61 Q453.34 127.32 451.84 126.16 Q451.38 124.31 452.13 122.57 Q453.59 121.35 455.42 120.85 Q457.31 121.07 459.1 121.71 Q460.72 122.71 462.55 123.2 Q464.19 124.16 465.96 124.86 Q467.65 125.73 469.37 126.52 Q471.08 127.36 472.21 128.89 Q472.33 130.78 471.26 132.35 Q469.42 132.81 467.52 132.9 Q465.84 132 464.13 131.19 Q462.37 130.46 460.52 130.02 Q458.74 129.35 456.86 129.08 Q454.98 128.82 453.3 127.94 Q452.36 126.29 452.66 124.41 Q454.1 123.17 455.41 121.8 Q456.31 120.12 457.58 118.71 Q458.98 117.43 460.88 117.34 Q462.52 118.29 463.91 119.59 Q465.45 120.7 466.98 121.83 Q467.77 123.55 469.3 124.68 Q471.19 124.95 472.92 124.17 Q474.15 122.73 474.73 120.92 Q474.48 119.04 473.37 117.49 Q471.69 116.6 469.87 116.07 Q468.09 115.41 466.22 115.07 Q464.34 114.81 462.45 114.63 Q460.56 114.41 458.99 115.48 Q458.52 117.32 459.12 119.12 Q460.75 120.09 462.65 120.11 Q464.42 119.42 466.13 118.58 Q467.89 117.86 469.74 118.3 Q470.88 119.82 471.14 121.7 Q470.57 123.51 469.61 125.15 Q468.82 126.88 467.69 128.4 Q466.43 129.83 465.33 131.38 Q464.1 132.82 463.31 134.55 Q462.36 136.2 461.23 137.72 Q460.53 139.49 458.97 140.57 Q457.08 140.78 455.2 141.05 Q453.31 140.92 451.69 139.93 Q450.21 138.74 448.98 137.29 Q447.5 136.1 446.04 134.89 Q444.92 133.35 443.74 131.86 Q442.36 130.56 441.95 128.7 Q442.39 126.85 443.92 125.72 Q445.82 125.62 447.72 125.62 Q449.58 126 451.45 126.34 Q453.34 126.52 455.24 126.45 Q457.14 126.5 459.03 126.69 Q460.92 126.9 462.71 127.52 Q464.61 127.52 466.51 127.58 Q468.34 128.1 470.17 128.61 Q472.06 128.37 473.59 127.24 Q474.58 125.62 474.26 123.75 Q473.2 122.18 471.41 121.52 Q469.53 121.27 467.65 121.02 Q465.88 120.32 464.16 119.51 Q462.43 118.73 460.69 117.97 Q458.9 117.34 457.13 116.64 Q455.79 115.29 455.46 113.42 Q456.11 111.64 457.59 110.44 Q459.49 110.4 461.17 111.3 Q462.12 112.95 462.69 114.76 Q463.38 116.53 463.89 118.36 Q464.9 119.97 465.46 121.78 Q466.34 123.47 467.11 125.2 Q467.89 126.94 467.54 128.81 Q466.12 130.07 464.53 131.1 Q463.13 132.39 462.76 134.25 Q463.3 136.07 464.57 137.48 Q466.42 137.93 468.29 137.58 Q469.72 136.33 469.96 134.45 Q469.04 132.79 467.51 131.65 Q465.66 131.24 463.94 132.05 Q462.41 133.18 460.61 133.79 Q458.86 134.51 457.25 135.53 Q455.6 136.46 453.72 136.73 Q451.82 136.68 449.95 136.36 Q448.5 135.13 448.1 133.27 Q448.68 131.47 448.9 129.58 Q449.31 127.72 449.75 125.88 Q449.85 123.98 450.28 122.13 Q450.2 120.23 450.65 118.38 Q451.07 116.53 451.56 114.69 Q453.06 113.53 454.94 113.26 Q456.78 113.72 458 115.18 Q458.42 117.03 458.01 118.89 Q456.64 120.2 455.09 121.29 Q453.53 122.37 451.88 123.32 Q450.4 124.52 448.84 125.6 Q447.3 126.71 445.6 127.57 Q444.09 128.72 442.52 129.78 Q440.91 130.79 439.01 130.65 Q437.52 129.49 437.07 127.64 Q437.68 125.84 439.06 124.53 Q440.95 124.37 442.78 124.87 Q444.51 125.66 446.34 125.14 Q447.78 123.91 448.42 122.12 Q448.3 120.22 447.2 118.67 Q445.46 117.9 443.58 118.16 Q441.95 119.12 441.37 120.93 Q441.81 122.78 442.93 124.32 Q444.75 124.86 446.65 124.84 Q448.55 124.8 450.45 124.79 Q452.34 124.97 454.24 124.93 Q456.11 125.22 457.98 124.87 Q459.85 124.52 461.75 124.64 Q463.33 125.69 464.28 127.33 Q464.27 129.23 463.08 130.71 Q461.28 131.32 459.52 132.06 Q457.9 133.04 456.09 133.61 Q454.19 133.47 452.54 132.53 Q451.01 131.4 449.8 129.94 Q448.24 128.85 447.03 127.38 Q445.47 126.29 443.95 125.16 Q442.88 123.59 442.82 121.69 Q443.85 120.09 445.67 119.56 Q447.53 119.96 448.7 121.46 Q448.99 123.33 448.69 125.21 Q448.55 127.1 448.52 129 Q448.2 130.88 448.47 132.76 Q448.18 134.64 448.47 136.51 Q448.33 138.41 449.13 140.13 Q450.82 140.99 452.72 140.96 Q454.47 140.22 455.31 138.52 Q455.75 136.67 455.74 134.77 Q455.86 132.87 456.06 130.98 Q456.11 129.09 456.57 127.24" fill="none" stroke="#b00037" stroke-width="1.7" stroke-linecap="round" stroke-linejoin="round"/>
<path d="M582.2 84.4 Q580.67 83.27 580.03 81.48 Q580.74 79.72 582.41 78.81 Q584.27 78.43 586.15 78.74 Q588.05 78.67 589.95 78.62 Q591.84 78.79 593.16 80.15 Q593.45 82.03 593.03 83.88 Q591.64 85.18 589.78 85.56 Q587.93 85.15 586.05 84.85 Q584.26 84.21 582.63 83.24 Q580.77 82.84 579.03 82.07 Q577.35 81.19 575.49 80.79 Q573.66 81.3 572.39 82.71 Q572.23 84.6 573.16 86.26 Q574.82 87.18 576.72 87.19 Q578.56 86.7 580.46 86.74 Q582.36 86.67 584.18 86.14 Q585.94 86.87 587.14 88.34 Q587.17 90.24 586.49 92.02 Q584.94 93.12 583.15 93.75 Q581.29 94.17 579.53 94.87 Q577.7 95.38 575.95 94.63 Q574.72 93.18 574.72 91.28 Q575.62 89.61 577.11 88.44 Q578.81 87.57 580.52 86.76 Q582.11 85.72 583.5 84.42 Q585.04 83.3 586.66 82.32 Q588.03 81 589.63 79.97 Q591.06 78.72 591.66 76.91 Q591.01 75.13 589.49 74 Q587.62 73.65 585.92 74.52 Q584.43 75.69 582.9 76.82 Q582.05 78.52 582.55 80.36 Q583.72 81.85 585.37 82.79 Q587.27 82.91 589.06 82.27 Q590.17 80.73 590.65 78.89 Q591.03 77.03 591.22 75.14 Q591.27 73.24 590.18 71.69 Q588.37 71.11 586.47 71.28 Q584.96 72.42 584.18 74.16 Q583.59 75.96 582.62 77.6 Q582.15 79.44 581.69 81.28 Q580.62 82.85 580.02 84.66 Q579.19 86.36 578.51 88.14 Q577.93 89.95 577.16 91.68 Q575.8 93.01 573.92 93.27 Q572.12 92.64 570.98 91.12 Q571.02 89.22 571.79 87.49 Q572.35 85.67 572.97 83.87 Q573.76 82.14 573.46 80.27 Q572.48 78.64 570.98 77.48 Q569.08 77.34 567.41 78.25 Q566.6 79.96 566.91 81.84 Q567.57 83.62 567.89 85.49 Q568.75 87.18 568.95 89.07 Q569.44 90.91 569.76 92.78 Q570.98 94.24 572.79 94.81 Q574.69 94.65 576.27 93.6 Q576.78 91.77 577.08 89.89 Q577.88 88.17 578.66 86.44 Q578.31 84.57 576.87 83.32 Q575.01 82.94 573.19 83.48 Q571.58 84.5 569.9 85.38 Q568.26 86.34 567.14 87.87 Q566.93 89.76 567.49 91.58 Q568.69 93.05 570.56 93.4 Q572.42 93.04 573.96 91.92 Q575.75 91.27 577.31 90.19 Q578.97 89.26 580.61 88.3 Q582.36 87.56 584.03 86.65 Q585.74 85.83 587.54 85.22 Q589.3 84.51 591.07 83.8 Q592.68 82.8 594.41 82.02 Q595.36 80.37 595.54 78.48 Q594.81 76.73 593.18 75.76 Q591.28 75.93 589.8 77.11 Q589.07 78.86 589.03 80.76 Q589.15 82.66 589.25 84.56 Q589.31 86.46 589.91 88.26 Q590.02 90.16 590.58 91.97 Q590.58 93.87 589.68 95.54 Q587.94 96.3 586.04 96.32 Q584.57 95.12 583.98 93.31 Q584.48 91.48 584.93 89.64 Q585.5 87.82 586.4 86.15 Q586.97 84.34 587.99 82.74 Q589.6 81.72 591.01 80.45 Q592.51 79.29 594.04 78.15 Q595.82 77.51 597.45 76.53 Q598.82 75.21 599.59 73.47 Q599.37 71.58 598.01 70.26 Q596.22 69.63 594.34 69.93 Q592.58 70.65 590.84 71.4 Q589.25 72.44 587.74 73.6 Q586.32 74.86 584.79 75.98 Q583.27 77.13 581.72 78.22 Q580.09 79.21 578.3 79.84 Q576.63 80.75 574.9 81.53 Q573.28 82.53 572.61 84.3 Q573.11 86.14 574.42 87.51 Q575.7 88.92 576.88 90.4 Q578.1 91.86 578.91 93.58 Q580.21 94.96 581.3 96.52 Q582.34 98.11 583.94 99.13 Q585.84 99.2 587.4 98.11 Q587.92 96.28 587.35 94.46 Q586.12 93.02 584.97 91.5 Q583.15 90.95 581.26 90.81 Q579.37 90.95 577.47 91.12 Q575.57 91.01 573.68 91.04 Q571.8 91.37 570.6 92.85 Q570.23 94.71 571.17 96.36 Q572.9 97.16 574.72 97.69 Q576.62 97.8 578.51 97.96 Q580.41 97.82 582.26 98.22 Q584.11 97.78 585.5 96.48 Q586.21 94.72 585.89 92.85 Q584.93 91.2 583.77 89.7 Q582.91 88.01 582.13 86.27 Q581.23 84.6 580.15 83.04 Q579.05 81.49 578.28 79.75 Q577.05 78.3 575.32 77.53 Q573.43 77.71 571.96 78.92 Q571.05 80.59 570.95 82.49 Q571.95 84.1 573.75 84.73 Q575.5 83.99 577.27 83.3 Q579.02 82.55 580.82 81.94 Q582.61 81.3 584.34 80.52 Q586.09 79.79 587.93 79.32 Q589.82 79.07 591.63 78.52 Q593.33 77.67 595.22 77.42 Q596.93 76.6 598.5 75.52 Q600.16 74.61 600.85 72.84 Q600.62 70.95 599.53 69.39 Q597.77 68.69 595.95 69.24 Q594.1 69.7 592.91 71.18 Q592.54 73.04 593.03 74.88 Q594.4 76.19 594.98 78 Q594.76 79.89 594.39 81.75 Q593.97 83.6 593.5 85.44 Q592.89 87.24 592.53 89.11 Q592.11 90.96 592.78 92.74 Q592.41 94.6 591.07 95.94 Q589.18 96.16 587.55 95.18 Q586.28 93.76 585.03 92.33 Q583.86 90.84 582.38 89.64 Q581.14 88.2 579.65 87.02 Q578.51 85.5 577.31 84.03 Q576.16 82.52 574.93 81.07 Q573.68 79.64 572.17 78.48 Q570.28 78.31 568.56 79.12 Q567.42 80.64 567.46 82.54 Q568.66 84.01 569.69 85.61 Q570.94 87.04 572.45 88.19 Q573.66 89.65 575.13 90.86 Q576.19 92.43 577.47 93.84 Q578.88 95.11 580.3 96.37 Q581.55 97.81 583.34 98.42 Q585.11 97.72 586.03 96.06 Q586.97 94.41 588.22 92.98 Q589.46 91.54 590.73 90.13 Q592.12 88.83 593.09 87.2 Q594.13 85.61 593.91 83.72 Q592.78 82.19 591.02 81.48 Q589.23 80.83 587.69 79.72 Q585.91 79.06 584.38 77.93 Q582.73 76.99 581.11 76 Q579.34 75.31 577.65 74.44 Q576.21 73.2 575.51 71.43 Q576.14 69.64 577.41 68.23 Q579.26 67.79 581.13 68.15 Q582.92 68.77 584.82 68.81 Q586.66 69.28 588.5 69.76 Q590.4 69.7 592.27 70.07 Q594.12 70.48 595.59 71.68 Q596.47 73.37 596.12 75.24 Q595.13 76.86 594.18 78.5 Q593.17 80.11 592.01 81.61 Q591.04 83.25 590.14 84.92 Q588.95 86.4 587.65 87.79 Q586.34 89.17 585.39 90.81 Q584.13 92.23 583.81 94.11 Q584.35 95.93 585.61 97.36 Q587.46 97.76 589.12 96.83 Q590.49 95.51 591.44 93.87 Q592.88 92.63 594.29 91.35 Q595.33 89.77 596.6 88.35 Q597.21 86.55 596.91 84.67 Q595.71 83.19 593.91 82.58 Q592.05 82.95 590.24 82.37 Q589.16 80.81 589.09 78.91 Q590.09 77.3 591.8 76.48 Q593.66 76.09 595.41 75.34 Q597.3 75.26 599.09 74.6 Q600.36 73.19 600.79 71.34 Q599.92 69.66 598.17 68.9 Q596.27 68.94 594.58 69.81 Q593.05 70.93 591.4 71.87 Q590.76 73.66 591.47 75.42 Q592.14 77.2 593.28 78.72 Q594.05 80.46 594.94 82.13 Q595.68 83.89 597.12 85.12 Q598.93 85.69 600.81 85.4 Q602.35 84.29 603.27 82.63 Q603.1 80.74 602.94 78.84 Q602.62 76.97 602.46 75.08 Q601.28 73.59 599.42 73.21 Q597.65 73.88 596.33 75.25 Q595.67 77.04 595.2 78.88 Q595.26 80.78 594.73 82.6 Q594.8 84.5 594.24 86.31 Q593.85 88.17 593.93 90.07 Q593.66 91.95 593.17 93.79 Q592.02 95.31 590.21 95.87 Q588.33 95.6 586.87 94.38 Q586.19 92.61 585.67 90.78 Q584.85 89.07 583.74 87.52 Q583.16 85.71 582.58 83.9 Q581.95 82.11 581.05 80.44 Q579.33 79.63 577.43 79.54 Q575.73 80.38 574.15 81.44 Q572.74 82.71 571.44 84.1 Q570.15 85.49 569.9 87.38 Q570.44 89.2 571.77 90.56 Q573.53 91.26 575.42 91.09 Q577.24 90.55 579.13 90.35 Q581.03 90.17 582.87 89.72 Q584.63 90.45 586.49 90.08 Q587.64 88.57 587.75 86.67 Q586.76 85.04 586.23 83.22 Q585.48 81.47 584.53 79.83 Q584.8 77.95 586 76.49 Q587.87 76.14 589.57 76.99 Q591.46 76.82 593.28 76.27 Q595.16 75.97 597 75.51 Q598.9 75.44 600.39 76.63 Q601.17 78.36 601.14 80.26 Q600.61 82.08 599.36 83.51 Q597.66 84.37 595.81 83.97 Q594.34 82.76 593.83 80.93 Q594.09 79.05 595.29 77.57 Q596.39 76.02 597.58 74.54 Q597.49 72.64 596.62 70.96 Q594.97 70.02 593.07 69.94 Q591.19 70.24 589.29 70.21 Q587.5 70.82 585.64 71.21 Q583.74 71.34 581.85 71.57 Q579.98 71.91 578.09 72.09 Q576.2 72.15 574.45 72.9 Q573.46 74.52 573.69 76.41 Q574.01 78.28 573.85 80.18 Q574.24 82.04 574.59 83.9 Q574.86 85.78 575 87.68 Q575.21 89.57 574.93 91.45 Q575.02 93.34 576.34 94.71 Q578.23 94.94 580.03 94.35 Q581.21 92.86 581.27 90.96 Q581.33 89.06 581.12 87.17 Q580.89 85.29 581.13 83.4 Q580.85 81.52 580.52 79.65 Q580.76 77.77 580.77 75.87 Q581.5 74.11 582.96 72.9 Q584.85 72.73 586.65 73.34 Q588.08 74.59 589.6 75.74 Q590.47 77.43 590.08 79.29 Q588.72 80.62 586.91 81.18 Q585.03 80.9 583.71 79.53 Q583.56 77.64 584.16 75.84 Q585.73 74.77 587.63 74.85 Q589.3 75.75 590.17 77.44 Q589.93 79.33 588.52 80.6 Q586.62 80.61 585.05 79.54 Q584.21 77.84 584.52 75.96 Q584.4 74.07 584.57 72.17 Q584.35 70.29 583.04 68.91 Q581.3 68.14 579.41 68.32 Q577.75 69.25 576.62 70.77 Q576.71 72.67 577.8 74.23 Q579.64 74.69 581.5 74.28 Q582.74 72.85 584.61 72.51 Q586.42 73.1 587.79 74.42" fill="none" stroke="#a6a6a6" stroke-width="1.7" stroke-linecap="round" stroke-linejoin="round"/>
<path d="M576.6 173.7 Q578 174.99 579.8 175.59 Q581.68 175.3 582.92 173.86 Q583.33 172 582.82 170.17 Q581.69 168.64 580.41 167.24 Q578.95 166.03 577.7 164.6 Q576.34 163.27 574.89 162.05 Q572.99 162.04 571.33 162.98 Q570.21 164.51 570.13 166.41 Q571 168.1 572.24 169.54 Q572.95 171.3 573.64 173.07 Q574.9 174.5 575.59 176.27 Q576.61 177.87 577.45 179.57 Q578.72 180.99 579.35 182.78 Q579.09 184.67 577.7 185.95 Q575.8 186.06 574.04 185.35 Q572.98 183.78 572.49 181.94 Q572.12 180.08 572.02 178.18 Q571.51 176.35 571.35 174.45 Q570.79 172.64 570.7 170.74 Q570.42 168.86 569.88 167.04 Q568.42 165.82 566.53 165.58 Q564.72 166.16 563.39 167.52 Q562.83 169.33 563.31 171.18 Q564.53 172.63 565.83 174.01 Q566.99 175.52 567.88 177.2 Q568.74 178.89 569.92 180.38 Q570.8 182.07 571.85 183.65 Q572.84 185.27 573.72 186.95 Q574.63 188.62 576.27 189.58 Q578.16 189.51 579.85 188.64 Q580.96 187.09 581.39 185.24 Q580.97 183.38 579.91 181.81 Q578.08 181.3 576.21 180.96 Q574.31 180.87 572.5 180.28 Q570.95 179.18 569.67 177.78 Q569.57 175.88 570.34 174.14 Q571.91 173.07 573.71 172.47 Q575.42 171.65 577.16 170.87 Q579.05 170.74 580.94 170.99 Q582.38 172.23 582.71 174.1 Q583.42 175.86 584 177.67 Q584.34 179.54 584.34 181.44 Q585.04 183.21 585.05 185.11 Q583.88 186.6 582.02 186.99 Q580.15 186.63 578.57 185.58 Q577.65 183.92 577.86 182.03 Q579.26 180.75 580.31 179.16 Q581.79 177.97 582.9 176.43 Q584.39 175.24 585.4 173.64 Q586.84 172.4 587.83 170.78 Q589.3 169.56 590.75 168.35 Q591.99 166.91 593.18 165.43 Q594.41 163.97 595.87 162.76 Q596.37 160.92 595.8 159.11 Q594.36 157.88 592.53 157.37 Q590.66 157.72 588.76 157.84 Q586.88 158.11 585.07 158.67 Q583.17 158.79 581.29 159.09 Q579.42 159.42 577.65 160.11 Q575.98 161.01 574.98 162.62 Q575.21 164.51 576.12 166.18 Q577.76 167.14 579.64 166.92 Q581.49 166.48 583.37 166.18 Q585.17 165.57 587 165.07 Q588.79 164.43 590.55 163.72 Q592.37 163.19 594.2 162.68 Q595.96 163.39 596.99 164.99 Q597.26 166.87 596.34 168.53 Q594.58 169.25 592.7 169 Q590.82 168.69 589.06 167.99 Q587.19 167.66 585.44 166.9 Q583.58 166.52 581.73 166.1 Q580 166.9 578.84 168.4 Q578.74 170.3 579.56 172.01 Q581.24 172.91 583.14 172.88 Q585.01 173.18 586.9 172.95 Q588.8 173.05 590.7 173.04 Q592.44 172.29 593.76 170.92 Q594.08 169.05 593.11 167.41 Q591.54 166.34 589.65 166.53 Q588.14 167.68 586.49 168.62 Q584.82 169.54 583.17 170.48 Q582.24 172.14 582.42 174.03 Q583.71 175.42 585.42 176.25 Q587.32 176.32 588.96 175.36 Q590.13 173.87 590.84 172.11 Q591.78 170.46 592.56 168.73 Q593.73 167.22 594.96 165.78 Q595.74 164.05 595.5 162.16 Q594.3 160.69 592.53 159.99 Q590.64 160.11 588.74 160.03 Q586.84 160.03 584.94 159.94 Q583.04 159.93 581.14 160.07 Q579.26 160.31 577.36 160.36 Q575.5 160.73 573.69 161.32 Q572.61 162.88 572.19 164.73 Q572.9 166.49 574.58 167.38 Q576.42 166.93 577.91 165.75 Q579.04 164.22 580.39 162.89 Q582.26 162.51 584.03 163.18 Q585.28 164.61 586.07 166.34 Q586.33 168.22 587.12 169.95 Q587.67 171.77 588.08 173.63 Q588.6 175.45 588.98 177.32 Q588.82 179.21 589.15 181.08 Q589.1 182.98 588.31 184.71 Q586.78 185.84 584.9 186.05 Q583.09 185.48 582.04 183.89 Q581.2 182.19 580.25 180.54 Q579.7 178.72 579.08 176.92 Q578.13 175.28 577.57 173.46 Q576.84 171.71 575.49 170.38 Q573.67 169.82 571.91 170.52 Q570.7 171.99 569.97 173.74 Q568.94 175.34 569.13 177.23 Q570.15 178.84 571.67 179.98 Q573.18 181.13 574.9 181.94 Q576.42 183.08 578.07 184.02 Q579.67 185.04 581.57 184.97 Q583.12 183.88 584.06 182.22 Q585.28 180.77 586.47 179.29 Q587.63 177.78 588.67 176.19 Q588.59 174.29 587.27 172.92 Q585.44 172.43 583.54 172.5 Q581.66 172.76 579.76 172.92 Q577.86 173.01 575.97 172.86 Q574.12 172.45 572.23 172.18 Q570.34 172.29 568.86 173.48 Q568.51 175.35 569.34 177.05 Q568.88 178.9 567.56 180.26 Q565.71 180.71 563.89 180.17 Q562.64 178.75 562.58 176.85 Q562.39 174.96 562.66 173.08 Q562.91 171.19 564.31 169.91 Q566.21 169.87 567.65 171.1 Q569.01 172.43 570.33 173.8 Q571.8 175 572.91 176.54 Q574.32 177.81 575.61 179.21 Q576.74 180.74 577.99 182.16 Q579.53 183.28 580.67 184.8 Q582.36 185.68 584.24 185.41 Q585.8 184.33 586.52 182.58 Q586.22 180.7 586.24 178.8 Q586.54 176.92 586.61 175.02 Q586.57 173.13 586.74 171.23 Q586.86 169.34 586.72 167.44 Q587.75 165.85 589.47 165.05 Q591.29 165.6 592.6 166.98 Q592.83 168.87 592.55 170.75 Q591.12 172 589.24 172.24 Q587.44 172.86 585.56 173.09 Q583.7 173.51 581.82 173.73 Q579.98 174.21 578.18 174.82 Q576.28 174.86 574.43 175.31 Q572.55 175.6 570.66 175.79 Q568.8 176.14 566.91 176.32 Q565.22 177.2 564.49 178.96 Q565 180.79 566.32 182.15 Q568.2 182.42 570.05 181.98 Q571.89 181.52 573.66 180.83 Q575.47 180.26 577.24 179.58 Q578.97 178.78 580.43 177.56 Q581.48 175.98 582.97 174.8 Q584.4 173.55 585.83 172.3 Q587.01 170.81 588.24 169.37 Q589.54 167.98 590.75 166.51 Q592.55 165.89 594.33 166.53 Q595.57 167.97 596.08 169.8 Q595.4 171.58 594.95 173.42 Q593.53 174.68 591.64 174.88 Q589.97 173.97 589.01 172.33 Q589.01 170.43 590.23 168.98 Q591.3 167.41 592.1 165.69 Q593.48 164.38 595.3 163.82 Q597.12 164.34 598.32 165.82 Q598.28 167.72 597.06 169.18 Q595.88 170.67 594.72 172.17 Q594.05 173.95 593.28 175.69 Q592.06 177.14 591.08 178.77 Q590.21 180.46 588.52 181.32 Q586.62 181.31 584.9 180.51 Q583.74 179 583.61 177.11 Q584.33 175.35 585.95 174.36 Q587.75 173.74 588.81 172.16 Q588.7 170.27 587.7 168.65 Q585.89 168.05 584.01 168.25 Q582.11 168.39 580.32 169.01 Q578.43 169.22 576.64 169.87 Q574.88 170.59 573.07 171.16 Q571.24 171.66 570.14 173.21 Q570 175.1 570.75 176.84 Q572.28 177.97 574.14 178.39 Q576.02 178.67 577.9 178.93 Q579.78 179.19 581.62 179.66 Q583.47 179.21 584.69 177.76 Q584.89 175.87 585.3 174.02 Q586.08 172.29 586.49 170.43 Q587.2 168.66 587.76 166.85 Q589.38 165.85 591.26 166.07 Q592.66 167.36 593.27 169.16 Q592.89 171.02 592.31 172.83 Q591.66 174.62 590.4 176.04 Q588.71 176.91 586.84 176.56 Q584.95 176.35 583.06 176.54 Q581.18 176.24 579.29 176.33 Q577.4 176.14 575.52 175.85 Q573.62 175.96 571.78 175.48 Q570.5 174.08 570.24 172.2 Q570.89 170.42 572.18 169.02 Q573.93 168.28 575.77 167.78 Q577.44 166.88 579.31 166.57 Q581.19 166.26 582.91 165.47 Q584.71 164.86 586.57 164.48 Q587.96 163.18 588.64 161.41 Q588.23 159.55 586.78 158.33 Q584.92 157.93 583.14 158.58 Q581.32 159.12 579.51 159.71 Q577.64 160.02 575.85 160.66 Q573.97 160.93 572.07 161.1 Q570.38 161.95 569.39 163.58 Q568.31 165.14 567.3 166.75 Q566.1 168.22 565.23 169.91 Q563.57 170.83 561.7 170.45 Q560.54 168.95 560.59 167.05 Q561.58 165.42 563.28 164.57 Q565.04 163.87 566.82 163.21 Q568.6 163.88 570.37 164.58 Q572.16 165.21 573.96 165.83 Q575.74 165.16 577.62 164.9 Q579.46 164.42 581.24 163.78 Q583.11 163.4 584.92 162.83 Q586.81 162.68 588.6 162.04 Q590.5 162.02 592.4 161.9 Q594.24 161.46 596.1 161.88 Q597.45 163.22 597.66 165.11 Q596.76 166.78 595.21 167.87 Q593.31 167.76 591.41 167.76 Q589.55 167.38 587.65 167.42 Q585.76 167.23 583.86 167.1 Q581.96 167.03 580.09 167.33 Q578.19 167.27 576.31 167.56 Q574.42 167.36 572.53 167.49 Q570.63 167.37 568.75 167.64 Q566.85 167.59 565.3 166.49 Q564.46 164.79 564.47 162.89 Q565.47 161.27 567.11 160.31 Q569.01 160.28 570.75 161.04 Q572.17 162.3 573.91 163.07 Q575.61 163.91 576.94 165.27 Q578.51 166.33 579.82 167.71 Q580.47 169.5 581.37 171.18 Q582.32 172.82 583 174.59 Q583.91 176.26 584.53 178.05 Q585.45 179.72 586.52 181.28 Q588.35 181.8 590.07 180.99 Q591.13 179.4 591.02 177.51 Q590.06 175.87 589.03 174.28 Q587.96 172.7 586.73 171.26 Q585.32 169.99 583.94 168.68 Q582.63 167.3 581.76 165.61 Q580.54 164.15 579.64 162.48 Q577.88 161.76 576.04 162.21 Q574.48 163.3 573.81 165.08 Q573.52 166.95 573.55 168.85 Q573.43 170.75 573.29 172.64 Q573.18 174.54 573.51 176.41 Q573.88 178.28 574.08 180.17 Q573.03 181.75 571.33 182.59 Q569.43 182.71 567.75 181.83 Q566.83 180.17 566.68 178.27 Q567.48 176.55 569.16 175.67 Q569.98 173.95 570.53 172.13 Q571.33 170.41 572.23 168.73 Q573.23 167.12 574.87 166.16 Q576.77 166.04 578.4 167.01 Q579.28 168.7 580.25 170.33 Q581.34 171.89 582.12 173.62 Q581.79 175.49 580.51 176.9 Q578.64 177.21 576.82 176.67 Q575.37 175.43 574.75 173.64" fill="none" stroke="#a6a6a6" stroke-width="1.7" stroke-linecap="round" stroke-linejoin="round"/>
<path d="M710.2 128.5 Q708.32 128.23 706.52 128.84 Q705.11 130.12 704.4 131.88 Q704.78 133.74 704.72 135.64 Q704.88 137.54 704.76 139.43 Q705.52 141.17 707.2 142.06 Q709.07 141.71 710.6 140.58 Q711.17 138.77 710.8 136.9 Q709.52 135.5 708.53 133.87 Q707.2 132.52 706.74 130.68 Q706.87 128.78 706.68 126.89 Q706.92 125.01 706.69 123.12 Q706.57 121.22 706.69 119.33 Q706.7 117.43 706.65 115.53 Q707.52 113.84 709.05 112.71 Q710.91 112.36 712.65 113.13 Q713.66 114.74 714.41 116.49 Q715.07 118.27 715.58 120.1 Q716.44 121.79 717.13 123.56 Q717.65 125.39 718.68 126.99 Q719.41 128.74 720.12 130.5 Q720.96 132.2 722.56 133.24 Q724.45 133.14 726.12 132.23 Q727.1 130.6 727.08 128.7 Q727.57 126.87 727.73 124.97 Q727.71 123.07 727.61 121.18 Q726.48 119.64 724.64 119.17 Q722.78 118.81 720.88 118.73 Q718.99 118.95 717.09 118.96 Q715.21 118.72 713.33 118.44 Q711.43 118.43 709.53 118.38 Q707.65 118.65 705.76 118.89 Q703.87 118.84 701.97 118.78 Q700.26 119.61 699.2 121.18 Q699.11 123.08 700.21 124.63 Q701.91 125.46 703.79 125.78 Q705.65 126.13 707.55 126.03 Q709.4 126.47 711.22 127.03 Q713.1 127.29 714.95 127.73 Q716.85 127.69 718.74 127.55 Q720.64 127.64 722.03 128.93 Q722.85 130.65 722.32 132.47 Q721.06 133.89 719.19 134.23 Q717.33 133.85 715.8 132.73 Q714.96 131.02 715.1 129.13 Q716.45 127.78 718.24 127.15 Q719.83 126.11 721.56 125.31 Q722.59 123.72 722.59 121.82 Q721.63 120.18 719.92 119.35 Q718.02 119.28 716.21 119.86 Q714.36 120.32 712.56 120.91 Q710.73 121.42 708.84 121.23 Q707.48 119.9 706.87 118.1 Q707.06 116.21 708.37 114.83 Q710.22 114.39 712.1 114.66 Q713.49 115.94 714.26 117.68 Q713.98 119.56 712.77 121.03 Q711.38 122.32 709.73 123.28 Q708.15 124.32 706.68 125.53 Q705.13 126.62 703.24 126.82 Q701.34 126.92 699.45 127.15 Q697.78 126.25 696.55 124.8 Q696.32 122.92 697.23 121.25 Q698.92 120.37 700.81 120.23 Q702.68 120.56 704.56 120.82 Q706.43 121.2 708.31 121.48 Q710.21 121.55 712.1 121.5 Q713.93 122.01 715.83 121.98 Q717.46 122.97 718.11 124.75 Q717.77 126.62 717.7 128.52 Q717.99 130.4 718.13 132.29 Q718.42 134.17 718.41 136.07 Q718.5 137.97 717.6 139.64 Q716.04 140.73 714.19 141.15 Q712.49 140.29 711.34 138.78 Q710.82 136.95 710.39 135.1 Q710.06 133.23 709.67 131.37 Q708.6 129.8 707.76 128.09 Q706.89 126.4 707.04 124.51 Q708.05 122.9 709.65 121.87 Q711.52 121.5 713.31 122.13 Q714.39 123.69 715.03 125.48 Q715.78 127.23 716.35 129.04 Q716.81 130.89 717.7 132.56 Q717.42 134.44 716.42 136.06 Q715.53 137.74 714.44 139.3 Q713.9 141.12 714.6 142.88 Q715.96 144.2 717.86 144.3 Q719.47 143.3 720.45 141.67 Q721.25 139.94 721.72 138.1 Q722.4 136.33 723.04 134.54 Q723.69 132.76 723.36 130.89 Q722.05 129.51 720.55 128.35 Q719.25 126.96 719.03 125.07 Q720.1 123.49 721.41 122.12 Q722.57 120.62 723.96 119.32 Q725.42 118.11 727.25 117.57 Q729.04 118.21 729.98 119.86 Q730.22 121.75 729.46 123.49 Q728.87 125.3 728.21 127.08 Q726.54 127.99 724.64 128.03 Q723.13 126.87 722.22 125.2 Q722.03 123.31 722.91 121.63 Q724.67 120.91 726.06 119.61 Q727.64 118.56 728.44 116.83 Q727.97 114.99 726.49 113.79 Q724.59 113.79 722.76 114.28 Q720.92 114.77 719.07 115.2 Q717.25 115.75 715.38 116.06 Q713.66 116.88 711.78 117.15 Q710.06 117.95 708.21 118.38 Q706.37 118.85 704.61 119.58 Q702.72 119.39 701.33 118.09 Q700.51 116.38 700.93 114.53 Q702.05 112.99 703.7 112.06 Q705.6 111.96 707.45 112.42 Q709.26 112.97 710.93 113.89 Q712.69 114.6 714.42 115.38 Q716.25 115.9 717.93 116.79 Q718.76 118.49 718.32 120.34 Q716.8 121.48 714.9 121.61 Q713.06 122.08 711.19 122.42 Q709.33 122.81 707.47 123.19 Q705.65 123.74 703.81 124.19 Q701.95 124.59 700.08 124.92 Q698.25 125.45 696.51 126.2 Q694.69 125.64 693.7 124.02 Q693.52 122.13 694.3 120.4 Q695.94 119.44 697.83 119.68 Q699.6 120.37 701.38 121.02 Q702.89 122.18 704.56 123.09 Q706.05 124.26 707.8 125 Q709.44 125.96 711.09 126.91 Q712.59 128.07 714.24 129.01 Q716.11 128.64 717.68 127.58 Q718.35 125.8 718.15 123.91 Q716.77 122.6 714.88 122.36 Q713 122.6 711.1 122.73 Q709.22 122.49 707.32 122.6 Q705.64 121.71 704.51 120.18 Q704.4 118.29 705.47 116.72 Q707.14 115.81 709.04 115.79 Q710.69 116.73 711.4 118.49 Q710.79 120.29 710.02 122.03 Q709.68 123.9 709.51 125.79 Q708.75 127.54 708.48 129.42 Q707.69 131.14 707.36 133.01 Q706.63 134.77 706.73 136.67 Q707.92 138.15 709.58 139.07 Q711.44 138.68 712.82 137.37 Q714.41 136.33 716.11 135.49 Q717.65 134.36 719.21 133.28 Q720.92 132.46 722.21 131.06 Q722.89 129.29 722.64 127.4 Q721.33 126.02 719.54 125.41 Q717.67 125.75 715.85 126.31 Q714.35 127.47 712.75 128.5 Q711.09 129.43 709.33 130.13 Q707.63 130.99 706.06 132.06 Q704.33 132.83 702.77 133.92 Q700.95 134.46 699.18 133.76 Q698.11 132.2 698.15 130.3 Q698.81 128.52 700.41 127.5 Q701.79 126.19 703.04 124.76 Q704.28 123.32 705.9 122.32 Q707.23 120.96 708.6 119.65 Q709.89 118.25 711.18 116.86 Q712.55 115.54 714.18 114.57 Q716.07 114.81 717.52 116.04 Q717.84 117.91 716.92 119.57 Q716.3 121.37 715.57 123.12 Q715.04 124.95 714.07 126.58 Q713.43 128.37 712.79 130.16 Q711.82 131.79 710.79 133.39 Q710.21 135.2 709.32 136.88 Q708.42 138.55 707.33 140.11 Q705.51 140.66 703.66 140.22 Q702.34 138.86 701.79 137.04 Q702.38 135.24 702.76 133.38 Q703.1 131.51 702.24 129.81 Q700.59 128.87 698.69 128.94 Q697.11 130.01 696.45 131.79 Q697.07 133.58 698.66 134.62 Q700.04 135.93 701.9 136.31 Q703.77 135.98 705.27 134.81 Q706.77 133.64 708.09 132.28 Q709.97 131.96 711.8 132.45 Q713.16 133.77 713.73 135.59 Q713.37 137.45 712.08 138.85 Q710.22 139.21 708.33 139.41 Q706.55 140.08 704.73 140.61 Q702.92 140.03 701.57 138.69 Q701.05 136.86 701.26 134.97 Q702.55 133.58 704.26 132.74 Q705.96 131.89 707.6 130.95 Q709.18 129.88 710.49 128.51 Q711.96 127.3 713.36 126.02 Q715.07 125.18 716.65 124.13 Q718.32 123.22 719.87 122.12 Q721.29 120.86 722.66 119.54 Q723.38 117.78 723.41 115.88 Q722.29 114.35 720.44 113.9 Q718.58 114.29 717.04 115.4 Q716.2 117.1 716.37 119 Q716.55 120.89 716.52 122.79 Q716.62 124.68 717.24 126.48 Q717.55 128.36 718.1 130.17 Q718.26 132.07 718.72 133.91 Q718 135.67 716.45 136.76 Q714.57 137.06 712.84 136.26 Q711.69 134.75 710.23 133.54 Q708.95 132.13 707.71 130.69 Q706.2 129.54 704.83 128.23 Q702.93 128.11 701.24 128.97 Q700.13 130.51 700.12 132.41 Q700.83 134.18 701.97 135.69 Q703.6 136.68 705.05 137.9 Q706.59 139.01 707.82 140.46 Q709.59 141.16 711.44 140.72 Q712.97 139.6 713.76 137.88 Q714.33 136.06 714.85 134.24 Q715.46 132.43 715.9 130.59 Q716.25 128.72 716.61 126.85 Q717.31 125.09 717.48 123.2 Q716.47 121.58 715.13 120.23 Q713.75 118.93 712.12 117.96 Q710.22 117.79 708.65 118.86 Q707.94 120.62 708.37 122.47 Q709.05 124.24 709.53 126.08 Q709.73 127.97 710.45 129.73 Q712.07 130.72 713.97 130.75 Q715.44 129.55 716.27 127.84 Q716.78 126.01 717.01 124.13 Q716.24 122.39 714.8 121.15 Q712.99 120.59 711.13 120.98 Q709.73 122.27 708.97 124.01 Q708.91 125.91 708.79 127.81 Q708.38 129.66 707.98 131.52 Q706.85 133.04 705.04 133.64 Q703.21 133.14 701.59 132.16 Q700.14 130.92 698.71 129.68 Q697.04 128.76 696.17 127.07 Q696 125.18 697.04 123.59 Q698.37 122.24 699.25 120.56 Q700.5 119.12 701.31 117.4 Q702.71 116.12 704.59 115.89 Q706.42 116.42 708.31 116.63 Q710.17 116.99 712.05 117.3 Q713.95 117.18 715.83 117.45 Q717.73 117.38 719.62 117.3 Q721.52 117.37 723.4 117.68 Q724.86 118.89 725.23 120.76 Q724.86 122.62 723.87 124.24 Q722.32 125.34 721.18 126.86 Q719.69 128.04 718.41 129.44 Q716.59 129.99 714.8 129.33 Q713.82 127.71 713.71 125.81 Q714.4 124.04 715.22 122.33 Q716.1 120.64 717.54 119.41 Q719.43 119.17 721.31 118.88 Q723.11 118.29 724.92 117.72 Q726.67 116.98 728.57 117.07 Q730.08 118.22 731.06 119.85 Q731.37 121.72 730.48 123.4 Q728.79 124.27 726.99 124.88 Q725.15 125.34 723.28 125.7 Q721.48 126.3 719.58 126.36 Q717.71 126.68 715.86 127.11 Q714.03 127.61 712.13 127.58 Q710.25 127.88 708.41 128.36 Q707.13 129.77 706.87 131.65 Q707.62 133.39 709.05 134.64 Q710.93 134.92 712.83 134.94 Q714.73 135.03 716.62 135.17 Q718.52 135.14 720.03 136.3 Q720.42 138.16 719.54 139.85 Q717.8 140.63 715.98 140.1 Q714.5 138.91 713.56 137.26 Q713.59 135.36 714.22 133.57 Q714.41 131.68 714.71 129.8 Q715.33 128 715.96 126.21" fill="none" stroke="#0a6a90" stroke-width="1.7" stroke-linecap="round" stroke-linejoin="round"/>
<text x="470.2" y="110" font-family='"Liberation Serif", "DejaVu Serif", serif' font-size="21" font-weight="normal" fill="#1f1f1f" text-anchor="start" textLength="14.2" lengthAdjust="spacingAndGlyphs" >O</text>
<text x="475.4" y="120.9" font-family='"Liberation Serif", "DejaVu Serif", serif' font-size="21" font-weight="normal" fill="#1f1f1f" text-anchor="start" textLength="14.2" lengthAdjust="spacingAndGlyphs" >O</text>
<text x="596.8" y="69.3" font-family='"Liberation Serif", "DejaVu Serif", serif' font-size="21" font-weight="normal" fill="#1f1f1f" text-anchor="start" textLength="14.2" lengthAdjust="spacingAndGlyphs" >O</text>
<text x="605.3" y="80.4" font-family='"Liberation Sans", Arial, Helvetica, sans-serif' font-size="19.6" font-weight="normal" fill="#1f1f1f" text-anchor="start" textLength="11.2" lengthAdjust="spacingAndGlyphs" >P</text>
<text x="595.6" y="161.3" font-family='"Liberation Sans", Arial, Helvetica, sans-serif' font-size="19.6" font-weight="normal" fill="#1f1f1f" text-anchor="start" textLength="11.2" lengthAdjust="spacingAndGlyphs" >P</text>
<text x="598.2" y="172.1" font-family='"Liberation Serif", "DejaVu Serif", serif' font-size="21" font-weight="normal" fill="#1f1f1f" text-anchor="start" textLength="14.2" lengthAdjust="spacingAndGlyphs" >O</text>
<text x="728.5" y="112.6" font-family='"Liberation Sans", Arial, Helvetica, sans-serif' font-size="19.6" font-weight="normal" fill="#1f1f1f" text-anchor="start" textLength="11.2" lengthAdjust="spacingAndGlyphs" >P</text>
<text x="732.5" y="123.6" font-family='"Liberation Sans", Arial, Helvetica, sans-serif' font-size="19.6" font-weight="normal" fill="#1f1f1f" text-anchor="start" textLength="11.2" lengthAdjust="spacingAndGlyphs" >P</text>
<text x="468.3" y="198.9" font-family='"Liberation Sans", Arial, Helvetica, sans-serif' font-size="18" font-weight="bold" fill="#000" text-anchor="start" textLength="78" lengthAdjust="spacingAndGlyphs" >Reaction</text>
<rect x="469.4" y="204.8" width="28" height="18.8" fill="#fafafa" stroke="#cfcfcf" stroke-width="1"/>
<path d="M494.6 213.4 L472.3 214.1 L481.2 217" fill="none" stroke="#000" stroke-width="1.5" stroke-linejoin="bevel"/>
<text x="499.4" y="219.6" font-family='"Liberation Sans", Arial, Helvetica, sans-serif' font-size="21.5" font-weight="normal" fill="#000" text-anchor="start" textLength="50.2" lengthAdjust="spacingAndGlyphs" >c + s</text>
<rect x="571.1" y="204.8" width="28.4" height="18.8" fill="#fafafa" stroke="#cfcfcf" stroke-width="1"/>
<path d="M596.5 208.2 L574.2 208.4 L582.2 211" fill="none" stroke="#0a6a90" stroke-width="1.5" stroke-linejoin="bevel"/>
<path d="M596.5 216.8 L573.7 217 L582.2 219.8" fill="none" stroke="#b00037" stroke-width="1.5" stroke-linejoin="bevel"/>
<text x="601.3" y="219.6" font-family='"Liberation Sans", Arial, Helvetica, sans-serif' font-size="21.5" font-weight="normal" fill="#000" text-anchor="start" textLength="11.6" lengthAdjust="spacingAndGlyphs" >c</text>
<rect x="636.9" y="204.8" width="27.7" height="18.8" fill="#fafafa" stroke="#cfcfcf" stroke-width="1"/>
<path d="M662.1 213.5 L639.6 213.6 L647.6 216.2" fill="none" stroke="#666666" stroke-width="1.5" stroke-linejoin="bevel"/>
<text x="666.3" y="219.6" font-family='"Liberation Sans", Arial, Helvetica, sans-serif' font-size="21.5" font-weight="normal" fill="#000" text-anchor="start" textLength="11.3" lengthAdjust="spacingAndGlyphs" >s</text>
<text x="0.3" y="258.6" font-family='"Liberation Sans", Arial, Helvetica, sans-serif' font-size="19" font-weight="bold" fill="#000" text-anchor="start" >c</text>
<rect x="32.6" y="273.8" width="167.3" height="129.1" fill="#fff"/>
<path d="M63.53 273.8 V402.9" stroke="#fafafa" stroke-width="0.6"/>
<path d="M110.17 273.8 V402.9" stroke="#fafafa" stroke-width="0.6"/>
<path d="M156.82 273.8 V402.9" stroke="#fafafa" stroke-width="0.6"/>
<path d="M32.6 382.7 H199.9" stroke="#fafafa" stroke-width="0.6"/>
<path d="M32.6 353.1 H199.9" stroke="#fafafa" stroke-width="0.6"/>
<path d="M32.6 323.5 H199.9" stroke="#fafafa" stroke-width="0.6"/>
<path d="M32.6 293.9 H199.9" stroke="#fafafa" stroke-width="0.6"/>
<path d="M40.2 273.8 V402.9" stroke="#efefef" stroke-width="0.7"/>
<path d="M86.85 273.8 V402.9" stroke="#efefef" stroke-width="0.7"/>
<path d="M133.5 273.8 V402.9" stroke="#efefef" stroke-width="0.7"/>
<path d="M180.15 273.8 V402.9" stroke="#efefef" stroke-width="0.7"/>
<path d="M32.6 397.5 H199.9" stroke="#efefef" stroke-width="0.7"/>
<path d="M32.6 367.9 H199.9" stroke="#efefef" stroke-width="0.7"/>
<path d="M32.6 338.3 H199.9" stroke="#efefef" stroke-width="0.7"/>
<path d="M32.6 308.7 H199.9" stroke="#efefef" stroke-width="0.7"/>
<path d="M32.6 279.1 H199.9" stroke="#efefef" stroke-width="0.7"/>
<rect x="32.6" y="260.6" width="167.3" height="13.2" fill="#cfcece" stroke="#a8a8a8" stroke-width="0.9"/>
<text x="116.25" y="270.8" font-family='"Liberation Sans", Arial, Helvetica, sans-serif' font-size="11.2" font-weight="normal" fill="#1a1a1a" text-anchor="middle" textLength="56.2" lengthAdjust="spacingAndGlyphs" >CO system</text>
<clipPath id="cc0"><rect x="32.6" y="273.8" width="167.3" height="129.1"/></clipPath>
<g clip-path="url(#cc0)">
<path d="M74.72 397.5 L191.81 397.5" fill="none" stroke="#b00037" stroke-width="4.4" stroke-dasharray="2.2 1.4 7.5 1.4 2.2 1.4 1.6 1.4"/>
<path d="M58.86 397.5 L189.48 397.5" fill="none" stroke="#b00037" stroke-width="2.6" stroke-dasharray="1.6 1.6"/>
<path d="M40.2 279.69 L40.42 312.78 L40.63 340.36 L40.85 354.15 L41.07 361.87 L41.29 367.41 L41.5 371.15 L41.72 373.62 L41.94 375.76 L42.15 377.67 L42.37 379.37 L42.59 380.87 L42.81 382.19 L43.02 383.33 L43.24 384.32 L43.46 385.16 L43.67 385.86 L43.89 386.45 L44.11 386.96 L44.33 387.44 L44.54 387.91 L44.76 388.36 L44.98 388.79 L45.19 389.21 L45.41 389.61 L45.63 389.99 L45.84 390.36 L46.06 390.71 L46.28 391.04 L46.5 391.36 L46.71 391.66 L46.93 391.95 L47.15 392.22 L47.36 392.48 L47.58 392.72 L47.8 392.95 L48.02 393.16 L48.23 393.36 L48.45 393.54 L48.67 393.72 L48.88 393.87 L49.1 394.02 L49.32 394.15 L49.54 394.26 L49.75 394.37 L49.97 394.46 L50.19 394.54 L50.4 394.61 L50.62 394.69 L50.84 394.75 L51.06 394.82 L51.27 394.89 L51.49 394.95 L51.71 395.01 L51.92 395.07 L52.14 395.13 L52.36 395.19 L52.58 395.24 L52.79 395.3 L53.01 395.35 L53.23 395.4 L53.44 395.45 L53.66 395.5 L53.88 395.54 L54.1 395.59 L54.31 395.63 L54.53 395.67 L54.75 395.71 L54.96 395.75 L55.18 395.79 L55.4 395.82 L55.62 395.86 L55.83 395.89 L56.05 395.93 L56.27 395.96 L56.48 395.99 L56.7 396.02 L56.92 396.04 L57.13 396.07 L57.35 396.1 L57.57 396.12 L57.79 396.14 L58 396.17 L58.22 396.19 L58.44 396.21 L58.65 396.23 L58.87 396.25 L59.09 396.26 L59.31 396.28 L59.52 396.3 L59.74 396.31 L59.96 396.33 L60.17 396.34 L60.39 396.36 L60.61 396.37 L60.83 396.39 L61.04 396.4 L61.26 396.41 L61.48 396.43 L61.69 396.44 L61.91 396.46 L62.13 396.47 L62.35 396.48 L62.56 396.5 L62.78 396.51 L63 396.52 L63.21 396.53 L63.43 396.55 L63.65 396.56 L63.87 396.57 L64.08 396.58 L64.3 396.6 L64.52 396.61 L64.73 396.62 L64.95 396.63 L65.17 396.64 L65.39 396.65 L65.6 396.66 L65.82 396.67 L66.04 396.68 L66.25 396.7 L66.47 396.71 L66.69 396.71 L66.9 396.72 L67.12 396.73 L67.34 396.74 L67.56 396.75 L67.77 396.76 L67.99 396.77 L68.21 396.78 L68.42 396.79 L68.64 396.79 L68.86 396.8 L69.08 396.81 L69.29 396.82 L69.51 396.82 L69.73 396.83 L69.94 396.84 L70.16 396.84 L70.38 396.85 L70.6 396.85 L70.81 396.86 L71.03 396.86 L71.25 396.87 L71.46 396.87 L71.68 396.88 L71.9 396.88 L72.12 396.89 L72.33 396.89 L72.55 396.89 L72.77 396.9 L72.98 396.9 L73.2 396.9 L73.42 396.9 L73.64 396.9 L73.85 396.91 L74.07 396.91 L74.29 396.91 L74.5 396.91 L74.72 396.91" fill="none" stroke="#b00037" stroke-width="5" stroke-linecap="round" stroke-linejoin="round"/>
<path d="M83.12 397.5 L189.48 397.5" fill="none" stroke="#0a6a90" stroke-width="3.4" stroke-dasharray="1.5 7.9 1.5 10.1"/>
<path d="M57.93 395.13 L58.75 394.48 L59.58 393.57 L60.41 392.28 L61.24 390.62 L62.06 388.69 L62.89 386.63 L63.72 384.55 L64.55 382.57 L65.37 380.58 L66.2 378.52 L67.03 376.42 L67.86 374.31 L68.68 372.22 L69.51 370.17 L70.34 368.14 L71.17 366.11 L71.99 364.09 L72.82 362.1 L73.65 360.16 L74.47 358.29 L75.3 356.5 L76.13 354.8 L76.96 353.16 L77.78 351.56 L78.61 349.99 L79.44 348.4 L80.27 346.79 L81.09 345.13 L81.92 343.39 L82.75 341.53 L83.58 339.61 L84.4 337.67 L85.23 335.77 L86.06 333.97 L86.89 332.31 L87.71 330.77 L88.54 329.28 L89.37 327.83 L90.19 326.44 L91.02 325.09 L91.85 323.78 L92.68 322.51 L93.5 321.29 L94.33 320.11 L95.16 318.97 L95.99 317.87 L96.81 316.81 L97.64 315.79 L98.47 314.79 L99.3 313.83 L100.12 312.89 L100.95 311.97 L101.78 311.07 L102.61 310.17 L103.43 309.28 L104.26 308.41 L105.09 307.55 L105.91 306.7 L106.74 305.88 L107.57 305.08 L108.4 304.32 L109.22 303.58 L110.05 302.88 L110.88 302.21 L111.71 301.56 L112.53 300.92 L113.36 300.3 L114.19 299.69 L115.02 299.1 L115.84 298.52 L116.67 297.95 L117.5 297.41 L118.33 296.87 L119.15 296.35 L119.98 295.84 L120.81 295.35 L121.64 294.87 L122.46 294.4 L123.29 293.94 L124.12 293.49 L124.94 293.04 L125.77 292.6 L126.6 292.17 L127.43 291.75 L128.25 291.34 L129.08 290.95 L129.91 290.57 L130.74 290.21 L131.56 289.87 L132.39 289.55 L133.22 289.26 L134.05 288.98 L134.87 288.71 L135.7 288.45 L136.53 288.19 L137.36 287.94 L138.18 287.69 L139.01 287.44 L139.84 287.2 L140.66 286.97 L141.49 286.74 L142.32 286.52 L143.15 286.3 L143.97 286.09 L144.8 285.89 L145.63 285.69 L146.46 285.49 L147.28 285.3 L148.11 285.12 L148.94 284.94 L149.77 284.77 L150.59 284.6 L151.42 284.44 L152.25 284.29 L153.08 284.14 L153.9 284 L154.73 283.86 L155.56 283.73 L156.38 283.6 L157.21 283.49 L158.04 283.37 L158.87 283.26 L159.69 283.15 L160.52 283.04 L161.35 282.94 L162.18 282.84 L163 282.74 L163.83 282.65 L164.66 282.56 L165.49 282.47 L166.31 282.38 L167.14 282.29 L167.97 282.21 L168.8 282.13 L169.62 282.05 L170.45 281.97 L171.28 281.9 L172.11 281.82 L172.93 281.75 L173.76 281.68 L174.59 281.61 L175.41 281.54 L176.24 281.48 L177.07 281.41 L177.9 281.34 L178.72 281.28 L179.55 281.22 L180.38 281.15 L181.21 281.09 L182.03 281.03 L182.86 280.98 L183.69 280.92 L184.52 280.87 L185.34 280.82 L186.17 280.77 L187 280.72 L187.83 280.67 L188.65 280.62 L189.48 280.58" fill="none" stroke="#b00037" stroke-width="3.6" stroke-dasharray="1.6 1.6"/>
<path d="M57.65 349.84 L58.48 352.82 L59.31 355.67 L60.13 358.41 L60.96 361.02 L61.79 363.5 L62.62 365.88 L63.45 368.16 L64.28 370.32 L65.11 372.34 L65.94 374.25 L66.77 376.11 L67.6 377.89 L68.43 379.56 L69.26 381.09 L70.08 382.45 L70.91 383.68 L71.74 384.83 L72.57 385.9 L73.4 386.88 L74.23 387.78 L75.06 388.59 L75.89 389.34 L76.72 390.07 L77.55 390.77 L78.38 391.43 L79.2 392.04 L80.03 392.58 L80.86 393.06 L81.69 393.46 L82.52 393.77 L83.35 394.05 L84.18 394.32 L85.01 394.56 L85.84 394.79 L86.67 395.01 L87.5 395.2 L88.33 395.38 L89.15 395.54 L89.98 395.68 L90.81 395.81 L91.64 395.93 L92.47 396.02 L93.3 396.11 L94.13 396.19 L94.96 396.26 L95.79 396.33 L96.62 396.4 L97.45 396.46 L98.27 396.52 L99.1 396.58 L99.93 396.63 L100.76 396.67 L101.59 396.72 L102.42 396.76 L103.25 396.8 L104.08 396.84 L104.91 396.88 L105.74 396.92 L106.57 396.96 L107.4 396.99 L108.22 397.03 L109.05 397.07 L109.88 397.1 L110.71 397.14 L111.54 397.18 L112.37 397.21 L113.2 397.24 L114.03 397.28 L114.86 397.31 L115.69 397.34 L116.52 397.36 L117.35 397.39 L118.17 397.41 L119 397.43 L119.83 397.45 L120.66 397.47 L121.49 397.48 L122.32 397.49 L123.15 397.5 L123.98 397.5 L124.81 397.5 L125.64 397.5 L126.47 397.5 L127.29 397.5 L128.12 397.5 L128.95 397.5 L129.78 397.5 L130.61 397.5 L131.44 397.5 L132.27 397.5 L133.1 397.5 L133.93 397.5 L134.76 397.5 L135.59 397.5 L136.42 397.5 L137.24 397.5 L138.07 397.5 L138.9 397.5 L139.73 397.5 L140.56 397.5 L141.39 397.5 L142.22 397.5 L143.05 397.5 L143.88 397.5 L144.71 397.5 L145.54 397.5 L146.36 397.5 L147.19 397.5 L148.02 397.5 L148.85 397.5 L149.68 397.5 L150.51 397.5 L151.34 397.5 L152.17 397.5 L153 397.5 L153.83 397.5 L154.66 397.5 L155.49 397.5 L156.31 397.5 L157.14 397.5 L157.97 397.5 L158.8 397.5 L159.63 397.5 L160.46 397.5 L161.29 397.5 L162.12 397.5 L162.95 397.5 L163.78 397.5 L164.61 397.5 L165.44 397.5 L166.26 397.5 L167.09 397.5 L167.92 397.5 L168.75 397.5 L169.58 397.5 L170.41 397.5 L171.24 397.5 L172.07 397.5 L172.9 397.5 L173.73 397.5 L174.56 397.5 L175.38 397.5 L176.21 397.5 L177.04 397.5 L177.87 397.5 L178.7 397.5 L179.53 397.5 L180.36 397.5 L181.19 397.5 L182.02 397.5 L182.85 397.5 L183.68 397.5 L184.51 397.5 L185.33 397.5 L186.16 397.5 L186.99 397.5 L187.82 397.5 L188.65 397.5 L189.48 397.5" fill="none" stroke="#0a6a90" stroke-width="3.6" stroke-dasharray="1.6 1.6"/>
<path d="M57.65 329.72 L58.48 327.38 L59.31 325.12 L60.13 322.95 L60.96 320.9 L61.79 318.99 L62.62 317.22 L63.45 315.57 L64.28 313.97 L65.11 312.44 L65.94 310.97 L66.77 309.58 L67.6 308.26 L68.43 307.03 L69.26 305.88 L70.08 304.82 L70.91 303.83 L71.74 302.89 L72.57 302 L73.4 301.16 L74.23 300.34 L75.06 299.57 L75.89 298.82 L76.72 298.1 L77.55 297.4 L78.38 296.72 L79.2 296.05 L80.03 295.38 L80.86 294.74 L81.69 294.11 L82.52 293.51 L83.35 292.93 L84.18 292.37 L85.01 291.82 L85.84 291.28 L86.67 290.76 L87.5 290.23 L88.33 289.7 L89.15 289.15 L89.98 288.61 L90.81 288.09 L91.64 287.59 L92.47 287.12 L93.3 286.69 L94.13 286.31 L94.96 286 L95.79 285.74 L96.62 285.5 L97.45 285.26 L98.27 285.03 L99.1 284.82 L99.93 284.61 L100.76 284.41 L101.59 284.22 L102.42 284.04 L103.25 283.87 L104.08 283.72 L104.91 283.57 L105.74 283.44 L106.57 283.32 L107.4 283.21 L108.22 283.12 L109.05 283.04 L109.88 282.97 L110.71 282.91 L111.54 282.86 L112.37 282.81 L113.2 282.76 L114.03 282.72 L114.86 282.68 L115.69 282.64 L116.52 282.6 L117.35 282.56 L118.17 282.53 L119 282.5 L119.83 282.47 L120.66 282.44 L121.49 282.41 L122.32 282.38 L123.15 282.36 L123.98 282.33 L124.81 282.31 L125.64 282.28 L126.47 282.26 L127.29 282.24 L128.12 282.21 L128.95 282.19 L129.78 282.17 L130.61 282.15 L131.44 282.12 L132.27 282.1 L133.1 282.07 L133.93 282.05 L134.76 282.02 L135.59 281.99 L136.42 281.97 L137.24 281.94 L138.07 281.91 L138.9 281.88 L139.73 281.86 L140.56 281.83 L141.39 281.8 L142.22 281.77 L143.05 281.74 L143.88 281.71 L144.71 281.69 L145.54 281.66 L146.36 281.63 L147.19 281.6 L148.02 281.57 L148.85 281.54 L149.68 281.52 L150.51 281.49 L151.34 281.46 L152.17 281.43 L153 281.41 L153.83 281.38 L154.66 281.35 L155.49 281.33 L156.31 281.3 L157.14 281.28 L157.97 281.25 L158.8 281.23 L159.63 281.2 L160.46 281.18 L161.29 281.16 L162.12 281.14 L162.95 281.12 L163.78 281.1 L164.61 281.08 L165.44 281.06 L166.26 281.04 L167.09 281.02 L167.92 281 L168.75 280.99 L169.58 280.97 L170.41 280.96 L171.24 280.95 L172.07 280.93 L172.9 280.92 L173.73 280.91 L174.56 280.9 L175.38 280.9 L176.21 280.89 L177.04 280.89 L177.87 280.88 L178.7 280.88 L179.53 280.88 L180.36 280.88 L181.19 280.88 L182.02 280.88 L182.85 280.88 L183.68 280.88 L184.51 280.88 L185.33 280.88 L186.16 280.88 L186.99 280.88 L187.82 280.88 L188.65 280.88 L189.48 280.88" fill="none" stroke="#0a6a90" stroke-width="3.6" stroke-dasharray="1.6 1.6"/>
<path d="M59.23 341.56 L60.02 342.49 L60.81 343.41 L61.6 344.31 L62.39 345.19 L63.18 346.06 L63.97 346.9 L64.76 347.72 L65.55 348.53 L66.34 349.32 L67.13 350.12 L67.92 350.9 L68.71 351.67 L69.5 352.41 L70.29 353.13 L71.08 353.8 L71.87 354.43 L72.66 355 L73.45 355.54 L74.24 356.07 L75.03 356.57 L75.82 357.05 L76.61 357.52 L77.4 357.97 L78.19 358.41 L78.98 358.84 L79.77 359.26 L80.56 359.66 L81.35 360.06 L82.14 360.45 L82.93 360.84 L83.72 361.22 L84.51 361.6 L85.3 361.98 L86.09 362.36 L86.88 362.74 L87.67 363.11 L88.46 363.48 L89.25 363.85 L90.04 364.22 L90.83 364.59 L91.62 364.95 L92.41 365.31 L93.2 365.67 L93.99 366.02 L94.78 366.37 L95.57 366.72 L96.35 367.06 L97.14 367.4 L97.93 367.73 L98.72 368.06 L99.51 368.39 L100.3 368.71 L101.09 369.03 L101.88 369.35 L102.67 369.66 L103.46 369.96 L104.25 370.26 L105.04 370.56 L105.83 370.85 L106.62 371.13 L107.41 371.41 L108.2 371.68 L108.99 371.95 L109.78 372.21 L110.57 372.47 L111.36 372.72 L112.15 372.97 L112.94 373.22 L113.73 373.46 L114.52 373.71 L115.31 373.94 L116.1 374.18 L116.89 374.41 L117.68 374.64 L118.47 374.87 L119.26 375.09 L120.05 375.31 L120.84 375.53 L121.63 375.74 L122.42 375.95 L123.21 376.16 L124 376.37 L124.79 376.57 L125.58 376.76 L126.37 376.96 L127.16 377.15 L127.95 377.34 L128.74 377.52 L129.53 377.7 L130.32 377.88 L131.11 378.05 L131.9 378.22 L132.69 378.39 L133.48 378.55 L134.27 378.71 L135.06 378.87 L135.85 379.03 L136.64 379.18 L137.43 379.34 L138.22 379.49 L139.01 379.64 L139.8 379.79 L140.58 379.94 L141.37 380.08 L142.16 380.22 L142.95 380.36 L143.74 380.5 L144.53 380.64 L145.32 380.77 L146.11 380.9 L146.9 381.03 L147.69 381.16 L148.48 381.28 L149.27 381.4 L150.06 381.52 L150.85 381.63 L151.64 381.75 L152.43 381.86 L153.22 381.96 L154.01 382.06 L154.8 382.16 L155.59 382.26 L156.38 382.35 L157.17 382.44 L157.96 382.53 L158.75 382.62 L159.54 382.71 L160.33 382.79 L161.12 382.88 L161.91 382.96 L162.7 383.05 L163.49 383.13 L164.28 383.21 L165.07 383.29 L165.86 383.37 L166.65 383.45 L167.44 383.53 L168.23 383.6 L169.02 383.68 L169.81 383.75 L170.6 383.82 L171.39 383.89 L172.18 383.96 L172.97 384.02 L173.76 384.09 L174.55 384.15 L175.34 384.21 L176.13 384.27 L176.92 384.33 L177.71 384.38 L178.5 384.43 L179.29 384.49 L180.08 384.53 L180.87 384.58 L181.66 384.62 L182.45 384.66 L183.24 384.7 L184.03 384.74 L184.81 384.77" fill="none" stroke="#0a6a90" stroke-width="4.7" stroke-dasharray="15.6 7.7 4.8 7.7" stroke-dashoffset="0"/>
<path d="M40.2 397.5 L40.31 387.43 L40.43 378.08 L40.54 369.98 L40.65 363.19 L40.77 356.76 L40.88 350.74 L40.99 345.28 L41.11 340.51 L41.22 336.56 L41.33 333.57 L41.45 331.08 L41.56 328.75 L41.67 326.59 L41.79 324.61 L41.9 322.81 L42.01 321.19 L42.13 319.77 L42.24 318.56 L42.35 317.55 L42.47 316.76 L42.58 316.18 L42.69 315.65 L42.8 315.15 L42.92 314.67 L43.03 314.22 L43.14 313.81 L43.26 313.43 L43.37 313.09 L43.48 312.78 L43.6 312.52 L43.71 312.31 L43.82 312.14 L43.94 312.03 L44.05 311.97 L44.16 311.96 L44.28 311.99 L44.39 312.05 L44.5 312.14 L44.62 312.26 L44.73 312.41 L44.84 312.58 L44.96 312.77 L45.07 312.98 L45.18 313.21 L45.3 313.46 L45.41 313.71 L45.52 313.98 L45.64 314.26 L45.75 314.54 L45.86 314.83 L45.98 315.12 L46.09 315.42 L46.2 315.71 L46.32 316 L46.43 316.28 L46.54 316.55 L46.66 316.82 L46.77 317.07 L46.88 317.33 L47 317.6 L47.11 317.88 L47.22 318.16 L47.33 318.45 L47.45 318.75 L47.56 319.05 L47.67 319.36 L47.79 319.68 L47.9 319.99 L48.01 320.31 L48.13 320.64 L48.24 320.96 L48.35 321.29 L48.47 321.61 L48.58 321.94 L48.69 322.26 L48.81 322.58 L48.92 322.9 L49.03 323.21 L49.15 323.53 L49.26 323.83 L49.37 324.13 L49.49 324.43 L49.6 324.72 L49.71 325 L49.83 325.27 L49.94 325.53 L50.05 325.79 L50.17 326.03 L50.28 326.28 L50.39 326.52 L50.51 326.77 L50.62 327.01 L50.73 327.25 L50.85 327.49 L50.96 327.73 L51.07 327.97 L51.19 328.21 L51.3 328.45 L51.41 328.68 L51.53 328.92 L51.64 329.15 L51.75 329.39 L51.86 329.62 L51.98 329.85 L52.09 330.08 L52.2 330.31 L52.32 330.54 L52.43 330.76 L52.54 330.99 L52.66 331.21 L52.77 331.44 L52.88 331.66 L53 331.88 L53.11 332.1 L53.22 332.32 L53.34 332.53 L53.45 332.75 L53.56 332.96 L53.68 333.17 L53.79 333.38 L53.9 333.59 L54.02 333.8 L54.13 334 L54.24 334.21 L54.36 334.41 L54.47 334.61 L54.58 334.81 L54.7 335 L54.81 335.2 L54.92 335.39 L55.04 335.58 L55.15 335.77 L55.26 335.96 L55.38 336.15 L55.49 336.33 L55.6 336.51 L55.72 336.69 L55.83 336.87 L55.94 337.05 L56.06 337.22 L56.17 337.39 L56.28 337.56 L56.39 337.73 L56.51 337.89 L56.62 338.05 L56.73 338.21 L56.85 338.37 L56.96 338.53 L57.07 338.68 L57.19 338.83 L57.3 338.98 L57.41 339.13 L57.53 339.27 L57.64 339.41 L57.75 339.55 L57.87 339.68 L57.98 339.82 L58.09 339.95 L58.21 340.08" fill="none" stroke="#0a6a90" stroke-width="5" stroke-linecap="round" stroke-linejoin="round"/>
</g>
<rect x="32.6" y="273.8" width="167.3" height="129.1" fill="none" stroke="#a8a8a8" stroke-width="0.9"/>
<path d="M40.2 402.9 v3" stroke="#8a8a8a" stroke-width="0.9"/>
<text x="40.2" y="417.4" font-family='"Liberation Sans", Arial, Helvetica, sans-serif' font-size="11" font-weight="normal" fill="#1a1a1a" text-anchor="middle" >0</text>
<path d="M86.85 402.9 v3" stroke="#8a8a8a" stroke-width="0.9"/>
<text x="86.85" y="417.4" font-family='"Liberation Sans", Arial, Helvetica, sans-serif' font-size="11" font-weight="normal" fill="#1a1a1a" text-anchor="middle" >5</text>
<path d="M133.5 402.9 v3" stroke="#8a8a8a" stroke-width="0.9"/>
<text x="133.5" y="417.4" font-family='"Liberation Sans", Arial, Helvetica, sans-serif' font-size="11" font-weight="normal" fill="#1a1a1a" text-anchor="middle" >10</text>
<path d="M180.15 402.9 v3" stroke="#8a8a8a" stroke-width="0.9"/>
<text x="180.15" y="417.4" font-family='"Liberation Sans", Arial, Helvetica, sans-serif' font-size="11" font-weight="normal" fill="#1a1a1a" text-anchor="middle" >15</text>
<rect x="202.5" y="273.8" width="167.7" height="129.1" fill="#fff"/>
<path d="M233.42 273.8 V402.9" stroke="#fafafa" stroke-width="0.6"/>
<path d="M280.07 273.8 V402.9" stroke="#fafafa" stroke-width="0.6"/>
<path d="M326.73 273.8 V402.9" stroke="#fafafa" stroke-width="0.6"/>
<path d="M202.5 382.7 H370.2" stroke="#fafafa" stroke-width="0.6"/>
<path d="M202.5 353.1 H370.2" stroke="#fafafa" stroke-width="0.6"/>
<path d="M202.5 323.5 H370.2" stroke="#fafafa" stroke-width="0.6"/>
<path d="M202.5 293.9 H370.2" stroke="#fafafa" stroke-width="0.6"/>
<path d="M210.1 273.8 V402.9" stroke="#efefef" stroke-width="0.7"/>
<path d="M256.75 273.8 V402.9" stroke="#efefef" stroke-width="0.7"/>
<path d="M303.4 273.8 V402.9" stroke="#efefef" stroke-width="0.7"/>
<path d="M350.05 273.8 V402.9" stroke="#efefef" stroke-width="0.7"/>
<path d="M202.5 397.5 H370.2" stroke="#efefef" stroke-width="0.7"/>
<path d="M202.5 367.9 H370.2" stroke="#efefef" stroke-width="0.7"/>
<path d="M202.5 338.3 H370.2" stroke="#efefef" stroke-width="0.7"/>
<path d="M202.5 308.7 H370.2" stroke="#efefef" stroke-width="0.7"/>
<path d="M202.5 279.1 H370.2" stroke="#efefef" stroke-width="0.7"/>
<rect x="202.5" y="260.6" width="167.7" height="13.2" fill="#cfcece" stroke="#a8a8a8" stroke-width="0.9"/>
<text x="286.35" y="270.8" font-family='"Liberation Sans", Arial, Helvetica, sans-serif' font-size="11.2" font-weight="normal" fill="#1a1a1a" text-anchor="middle" textLength="56.2" lengthAdjust="spacingAndGlyphs" >SO system</text>
<clipPath id="cc1"><rect x="202.5" y="273.8" width="167.7" height="129.1"/></clipPath>
<g clip-path="url(#cc1)">
<path d="M243.69 397.5 L361.71 397.5" fill="none" stroke="#b00037" stroke-width="4.4" stroke-dasharray="2.2 1.4 7.5 1.4 2.2 1.4 1.6 1.4"/>
<path d="M228.76 397.5 L359.38 397.5" fill="none" stroke="#b00037" stroke-width="2.6" stroke-dasharray="1.6 1.6"/>
<path d="M210.1 279.69 L210.31 311.98 L210.52 338.9 L210.73 353.65 L210.94 361.76 L211.16 367.55 L211.37 371.7 L211.58 374.98 L211.79 377.83 L212 380.27 L212.21 382.29 L212.42 383.92 L212.63 385.15 L212.85 386.17 L213.06 387.11 L213.27 387.98 L213.48 388.78 L213.69 389.5 L213.9 390.15 L214.11 390.73 L214.32 391.24 L214.54 391.69 L214.75 392.06 L214.96 392.36 L215.17 392.61 L215.38 392.84 L215.59 393.07 L215.8 393.28 L216.01 393.48 L216.23 393.68 L216.44 393.86 L216.65 394.04 L216.86 394.21 L217.07 394.36 L217.28 394.51 L217.49 394.65 L217.7 394.78 L217.92 394.91 L218.13 395.02 L218.34 395.13 L218.55 395.23 L218.76 395.32 L218.97 395.4 L219.18 395.48 L219.39 395.55 L219.61 395.61 L219.82 395.67 L220.03 395.71 L220.24 395.75 L220.45 395.8 L220.66 395.84 L220.87 395.87 L221.08 395.91 L221.3 395.95 L221.51 395.98 L221.72 396.02 L221.93 396.05 L222.14 396.08 L222.35 396.11 L222.56 396.14 L222.77 396.17 L222.99 396.2 L223.2 396.23 L223.41 396.26 L223.62 396.28 L223.83 396.31 L224.04 396.33 L224.25 396.35 L224.46 396.38 L224.68 396.4 L224.89 396.42 L225.1 396.44 L225.31 396.46 L225.52 396.48 L225.73 396.5 L225.94 396.52 L226.15 396.53 L226.37 396.55 L226.58 396.57 L226.79 396.58 L227 396.6 L227.21 396.61 L227.42 396.63 L227.63 396.64 L227.84 396.66 L228.06 396.67 L228.27 396.68 L228.48 396.69 L228.69 396.71 L228.9 396.72 L229.11 396.73 L229.32 396.74 L229.53 396.75 L229.75 396.76 L229.96 396.77 L230.17 396.78 L230.38 396.79 L230.59 396.81 L230.8 396.82 L231.01 396.83 L231.22 396.84 L231.44 396.85 L231.65 396.86 L231.86 396.87 L232.07 396.88 L232.28 396.89 L232.49 396.9 L232.7 396.91 L232.91 396.92 L233.13 396.93 L233.34 396.94 L233.55 396.95 L233.76 396.95 L233.97 396.96 L234.18 396.97 L234.39 396.98 L234.6 396.99 L234.82 397 L235.03 397.01 L235.24 397.02 L235.45 397.02 L235.66 397.03 L235.87 397.04 L236.08 397.05 L236.29 397.06 L236.51 397.06 L236.72 397.07 L236.93 397.08 L237.14 397.09 L237.35 397.09 L237.56 397.1 L237.77 397.11 L237.98 397.11 L238.2 397.12 L238.41 397.12 L238.62 397.13 L238.83 397.14 L239.04 397.14 L239.25 397.15 L239.46 397.15 L239.67 397.16 L239.89 397.16 L240.1 397.17 L240.31 397.17 L240.52 397.17 L240.73 397.18 L240.94 397.18 L241.15 397.18 L241.36 397.19 L241.58 397.19 L241.79 397.19 L242 397.2 L242.21 397.2 L242.42 397.2 L242.63 397.2 L242.84 397.2 L243.05 397.2 L243.27 397.2 L243.48 397.2 L243.69 397.2" fill="none" stroke="#b00037" stroke-width="5" stroke-linecap="round" stroke-linejoin="round"/>
<path d="M252.08 397.5 L359.38 397.5" fill="none" stroke="#0a6a90" stroke-width="3.4" stroke-dasharray="1.5 7.9 1.5 10.1"/>
<path d="M228.76 394.54 L229.58 392.19 L230.4 389.62 L231.22 386.84 L232.05 383.81 L232.87 380.36 L233.69 376.78 L234.51 373.41 L235.33 370.36 L236.15 367.39 L236.98 364.49 L237.8 361.7 L238.62 359.02 L239.44 356.48 L240.26 354.1 L241.08 351.87 L241.9 349.74 L242.73 347.71 L243.55 345.76 L244.37 343.89 L245.19 342.09 L246.01 340.36 L246.83 338.69 L247.65 337.06 L248.48 335.46 L249.3 333.89 L250.12 332.35 L250.94 330.84 L251.76 329.37 L252.58 327.95 L253.41 326.58 L254.23 325.26 L255.05 324.01 L255.87 322.81 L256.69 321.69 L257.51 320.64 L258.33 319.63 L259.16 318.66 L259.98 317.72 L260.8 316.82 L261.62 315.95 L262.44 315.11 L263.26 314.3 L264.08 313.51 L264.91 312.76 L265.73 312.03 L266.55 311.33 L267.37 310.64 L268.19 309.98 L269.01 309.34 L269.84 308.72 L270.66 308.11 L271.48 307.52 L272.3 306.94 L273.12 306.38 L273.94 305.84 L274.76 305.31 L275.59 304.8 L276.41 304.3 L277.23 303.82 L278.05 303.36 L278.87 302.92 L279.69 302.49 L280.52 302.07 L281.34 301.66 L282.16 301.25 L282.98 300.85 L283.8 300.45 L284.62 300.06 L285.44 299.68 L286.27 299.3 L287.09 298.93 L287.91 298.57 L288.73 298.21 L289.55 297.86 L290.37 297.51 L291.19 297.17 L292.02 296.84 L292.84 296.51 L293.66 296.19 L294.48 295.88 L295.3 295.58 L296.12 295.28 L296.95 294.99 L297.77 294.7 L298.59 294.43 L299.41 294.16 L300.23 293.9 L301.05 293.64 L301.87 293.4 L302.7 293.16 L303.52 292.93 L304.34 292.7 L305.16 292.48 L305.98 292.25 L306.8 292.04 L307.62 291.82 L308.45 291.61 L309.27 291.4 L310.09 291.2 L310.91 290.99 L311.73 290.8 L312.55 290.6 L313.38 290.41 L314.2 290.23 L315.02 290.05 L315.84 289.87 L316.66 289.7 L317.48 289.53 L318.3 289.36 L319.13 289.21 L319.95 289.05 L320.77 288.9 L321.59 288.76 L322.41 288.62 L323.23 288.49 L324.06 288.36 L324.88 288.24 L325.7 288.12 L326.52 288.01 L327.34 287.9 L328.16 287.79 L328.98 287.69 L329.81 287.58 L330.63 287.48 L331.45 287.37 L332.27 287.27 L333.09 287.17 L333.91 287.07 L334.73 286.97 L335.56 286.87 L336.38 286.77 L337.2 286.68 L338.02 286.58 L338.84 286.49 L339.66 286.4 L340.49 286.31 L341.31 286.22 L342.13 286.14 L342.95 286.06 L343.77 285.98 L344.59 285.9 L345.41 285.82 L346.24 285.75 L347.06 285.68 L347.88 285.61 L348.7 285.55 L349.52 285.49 L350.34 285.43 L351.16 285.37 L351.99 285.32 L352.81 285.27 L353.63 285.23 L354.45 285.19 L355.27 285.15 L356.09 285.12 L356.92 285.09 L357.74 285.06 L358.56 285.04 L359.38 285.02" fill="none" stroke="#b00037" stroke-width="3.6" stroke-dasharray="1.6 1.6"/>
<path d="M229.69 358.72 L230.51 362.97 L231.32 366.67 L232.14 369.74 L232.96 372.41 L233.77 374.7 L234.59 376.69 L235.4 378.5 L236.22 380.14 L237.03 381.61 L237.85 382.9 L238.67 384.06 L239.48 385.14 L240.3 386.13 L241.11 387.03 L241.93 387.86 L242.74 388.61 L243.56 389.31 L244.37 389.99 L245.19 390.64 L246.01 391.25 L246.82 391.83 L247.64 392.36 L248.45 392.83 L249.27 393.25 L250.08 393.6 L250.9 393.9 L251.72 394.2 L252.53 394.47 L253.35 394.74 L254.16 394.99 L254.98 395.23 L255.79 395.46 L256.61 395.67 L257.42 395.87 L258.24 396.05 L259.06 396.22 L259.87 396.36 L260.69 396.5 L261.5 396.61 L262.32 396.71 L263.13 396.79 L263.95 396.87 L264.77 396.94 L265.58 397.01 L266.4 397.08 L267.21 397.14 L268.03 397.21 L268.84 397.26 L269.66 397.31 L270.48 397.36 L271.29 397.4 L272.11 397.43 L272.92 397.46 L273.74 397.48 L274.55 397.5 L275.37 397.5 L276.18 397.5 L277 397.5 L277.82 397.5 L278.63 397.5 L279.45 397.5 L280.26 397.5 L281.08 397.5 L281.89 397.5 L282.71 397.5 L283.53 397.5 L284.34 397.5 L285.16 397.5 L285.97 397.5 L286.79 397.5 L287.6 397.5 L288.42 397.5 L289.23 397.5 L290.05 397.5 L290.87 397.5 L291.68 397.5 L292.5 397.5 L293.31 397.5 L294.13 397.5 L294.94 397.5 L295.76 397.5 L296.58 397.5 L297.39 397.5 L298.21 397.5 L299.02 397.5 L299.84 397.5 L300.65 397.5 L301.47 397.5 L302.29 397.5 L303.1 397.5 L303.92 397.5 L304.73 397.5 L305.55 397.5 L306.36 397.5 L307.18 397.5 L307.99 397.5 L308.81 397.5 L309.63 397.5 L310.44 397.5 L311.26 397.5 L312.07 397.5 L312.89 397.5 L313.7 397.5 L314.52 397.5 L315.34 397.5 L316.15 397.5 L316.97 397.5 L317.78 397.5 L318.6 397.5 L319.41 397.5 L320.23 397.5 L321.04 397.5 L321.86 397.5 L322.68 397.5 L323.49 397.5 L324.31 397.5 L325.12 397.5 L325.94 397.5 L326.75 397.5 L327.57 397.5 L328.39 397.5 L329.2 397.5 L330.02 397.5 L330.83 397.5 L331.65 397.5 L332.46 397.5 L333.28 397.5 L334.1 397.5 L334.91 397.5 L335.73 397.5 L336.54 397.5 L337.36 397.5 L338.17 397.5 L338.99 397.5 L339.8 397.5 L340.62 397.5 L341.44 397.5 L342.25 397.5 L343.07 397.5 L343.88 397.5 L344.7 397.5 L345.51 397.5 L346.33 397.5 L347.15 397.5 L347.96 397.5 L348.78 397.5 L349.59 397.5 L350.41 397.5 L351.22 397.5 L352.04 397.5 L352.85 397.5 L353.67 397.5 L354.49 397.5 L355.3 397.5 L356.12 397.5 L356.93 397.5 L357.75 397.5 L358.56 397.5 L359.38 397.5" fill="none" stroke="#0a6a90" stroke-width="3.6" stroke-dasharray="1.6 1.6"/>
<path d="M229.69 357.54 L230.51 355.95 L231.32 354.42 L232.14 352.97 L232.96 351.61 L233.77 350.32 L234.59 349.11 L235.4 347.96 L236.22 346.87 L237.03 345.87 L237.85 344.97 L238.67 344.15 L239.48 343.4 L240.3 342.7 L241.11 342.03 L241.93 341.36 L242.74 340.68 L243.56 339.98 L244.37 339.27 L245.19 338.57 L246.01 337.87 L246.82 337.2 L247.64 336.56 L248.45 335.95 L249.27 335.4 L250.08 334.87 L250.9 334.36 L251.72 333.87 L252.53 333.4 L253.35 332.95 L254.16 332.51 L254.98 332.08 L255.79 331.67 L256.61 331.26 L257.42 330.87 L258.24 330.48 L259.06 330.1 L259.87 329.73 L260.69 329.37 L261.5 329.01 L262.32 328.67 L263.13 328.32 L263.95 327.99 L264.77 327.67 L265.58 327.35 L266.4 327.03 L267.21 326.73 L268.03 326.43 L268.84 326.14 L269.66 325.85 L270.48 325.56 L271.29 325.28 L272.11 325.01 L272.92 324.74 L273.74 324.47 L274.55 324.21 L275.37 323.96 L276.18 323.71 L277 323.47 L277.82 323.23 L278.63 323 L279.45 322.78 L280.26 322.56 L281.08 322.35 L281.89 322.14 L282.71 321.94 L283.53 321.74 L284.34 321.54 L285.16 321.35 L285.97 321.16 L286.79 320.97 L287.6 320.78 L288.42 320.6 L289.23 320.42 L290.05 320.24 L290.87 320.06 L291.68 319.89 L292.5 319.72 L293.31 319.55 L294.13 319.38 L294.94 319.21 L295.76 319.05 L296.58 318.89 L297.39 318.73 L298.21 318.57 L299.02 318.41 L299.84 318.25 L300.65 318.1 L301.47 317.94 L302.29 317.79 L303.1 317.64 L303.92 317.48 L304.73 317.33 L305.55 317.18 L306.36 317.03 L307.18 316.88 L307.99 316.73 L308.81 316.58 L309.63 316.43 L310.44 316.29 L311.26 316.14 L312.07 316 L312.89 315.85 L313.7 315.71 L314.52 315.57 L315.34 315.43 L316.15 315.3 L316.97 315.16 L317.78 315.03 L318.6 314.9 L319.41 314.77 L320.23 314.64 L321.04 314.52 L321.86 314.4 L322.68 314.28 L323.49 314.16 L324.31 314.05 L325.12 313.94 L325.94 313.83 L326.75 313.73 L327.57 313.63 L328.39 313.52 L329.2 313.42 L330.02 313.32 L330.83 313.22 L331.65 313.12 L332.46 313.03 L333.28 312.93 L334.1 312.83 L334.91 312.74 L335.73 312.64 L336.54 312.55 L337.36 312.46 L338.17 312.36 L338.99 312.27 L339.8 312.18 L340.62 312.1 L341.44 312.01 L342.25 311.92 L343.07 311.84 L343.88 311.76 L344.7 311.67 L345.51 311.59 L346.33 311.52 L347.15 311.44 L347.96 311.36 L348.78 311.29 L349.59 311.22 L350.41 311.14 L351.22 311.07 L352.04 311.01 L352.85 310.94 L353.67 310.88 L354.49 310.81 L355.3 310.75 L356.12 310.69 L356.93 310.64 L357.75 310.58 L358.56 310.53 L359.38 310.48" fill="none" stroke="#0a6a90" stroke-width="3.6" stroke-dasharray="1.6 1.6"/>
<path d="M228.76 358.72 L229.6 358.83 L230.44 358.95 L231.28 359.09 L232.12 359.24 L232.96 359.41 L233.79 359.61 L234.63 359.83 L235.47 360.06 L236.31 360.3 L237.15 360.54 L237.99 360.77 L238.83 360.98 L239.67 361.19 L240.51 361.39 L241.35 361.59 L242.19 361.79 L243.02 362 L243.86 362.22 L244.7 362.44 L245.54 362.68 L246.38 362.93 L247.22 363.19 L248.06 363.47 L248.9 363.75 L249.74 364.04 L250.58 364.33 L251.42 364.63 L252.26 364.93 L253.09 365.22 L253.93 365.51 L254.77 365.79 L255.61 366.07 L256.45 366.33 L257.29 366.58 L258.13 366.83 L258.97 367.08 L259.81 367.32 L260.65 367.57 L261.49 367.81 L262.32 368.04 L263.16 368.28 L264 368.52 L264.84 368.75 L265.68 368.98 L266.52 369.21 L267.36 369.44 L268.2 369.66 L269.04 369.88 L269.88 370.1 L270.72 370.32 L271.55 370.54 L272.39 370.76 L273.23 370.97 L274.07 371.18 L274.91 371.39 L275.75 371.6 L276.59 371.8 L277.43 372.01 L278.27 372.21 L279.11 372.41 L279.95 372.61 L280.79 372.8 L281.62 373 L282.46 373.19 L283.3 373.38 L284.14 373.57 L284.98 373.76 L285.82 373.95 L286.66 374.14 L287.5 374.32 L288.34 374.51 L289.18 374.69 L290.02 374.87 L290.85 375.05 L291.69 375.23 L292.53 375.4 L293.37 375.58 L294.21 375.75 L295.05 375.92 L295.89 376.09 L296.73 376.26 L297.57 376.42 L298.41 376.58 L299.25 376.75 L300.08 376.91 L300.92 377.06 L301.76 377.22 L302.6 377.38 L303.44 377.53 L304.28 377.68 L305.12 377.83 L305.96 377.98 L306.8 378.12 L307.64 378.27 L308.48 378.41 L309.31 378.56 L310.15 378.7 L310.99 378.84 L311.83 378.98 L312.67 379.11 L313.51 379.25 L314.35 379.39 L315.19 379.52 L316.03 379.65 L316.87 379.78 L317.71 379.91 L318.55 380.04 L319.38 380.17 L320.22 380.29 L321.06 380.42 L321.9 380.54 L322.74 380.66 L323.58 380.78 L324.42 380.9 L325.26 381.02 L326.1 381.13 L326.94 381.25 L327.78 381.36 L328.61 381.47 L329.45 381.58 L330.29 381.69 L331.13 381.79 L331.97 381.9 L332.81 382 L333.65 382.1 L334.49 382.2 L335.33 382.3 L336.17 382.4 L337.01 382.49 L337.84 382.59 L338.68 382.69 L339.52 382.78 L340.36 382.88 L341.2 382.97 L342.04 383.07 L342.88 383.16 L343.72 383.26 L344.56 383.35 L345.4 383.45 L346.24 383.55 L347.07 383.65 L347.91 383.75 L348.75 383.85 L349.59 383.95 L350.43 384.05 L351.27 384.15 L352.11 384.25 L352.95 384.36 L353.79 384.46 L354.63 384.57 L355.47 384.67 L356.31 384.77 L357.14 384.88 L357.98 384.98 L358.82 385.09 L359.66 385.19 L360.5 385.3 L361.34 385.41 L362.18 385.51" fill="none" stroke="#0a6a90" stroke-width="4.7" stroke-dasharray="15.6 7.7 4.8 7.7" stroke-dashoffset="-3.5"/>
<path d="M210.1 397.5 L210.22 396.86 L210.33 396.23 L210.45 395.6 L210.56 394.97 L210.68 394.35 L210.79 393.74 L210.91 393.13 L211.02 392.53 L211.14 391.93 L211.26 391.34 L211.37 390.75 L211.49 390.17 L211.6 389.6 L211.72 389.03 L211.83 388.46 L211.95 387.91 L212.07 387.36 L212.18 386.82 L212.3 386.28 L212.41 385.75 L212.53 385.23 L212.64 384.71 L212.76 384.19 L212.87 383.67 L212.99 383.15 L213.11 382.64 L213.22 382.13 L213.34 381.63 L213.45 381.13 L213.57 380.63 L213.68 380.14 L213.8 379.66 L213.91 379.18 L214.03 378.72 L214.15 378.26 L214.26 377.8 L214.38 377.36 L214.49 376.93 L214.61 376.5 L214.72 376.09 L214.84 375.69 L214.96 375.3 L215.07 374.92 L215.19 374.55 L215.3 374.17 L215.42 373.81 L215.53 373.44 L215.65 373.07 L215.76 372.71 L215.88 372.35 L216 372 L216.11 371.65 L216.23 371.3 L216.34 370.95 L216.46 370.62 L216.57 370.28 L216.69 369.95 L216.8 369.63 L216.92 369.31 L217.04 368.99 L217.15 368.68 L217.27 368.38 L217.38 368.08 L217.5 367.79 L217.61 367.51 L217.73 367.24 L217.85 366.97 L217.96 366.71 L218.08 366.45 L218.19 366.21 L218.31 365.97 L218.42 365.74 L218.54 365.52 L218.65 365.31 L218.77 365.11 L218.89 364.92 L219 364.73 L219.12 364.54 L219.23 364.36 L219.35 364.18 L219.46 364 L219.58 363.82 L219.69 363.65 L219.81 363.48 L219.93 363.31 L220.04 363.14 L220.16 362.98 L220.27 362.82 L220.39 362.66 L220.5 362.51 L220.62 362.36 L220.74 362.22 L220.85 362.08 L220.97 361.94 L221.08 361.81 L221.2 361.68 L221.31 361.56 L221.43 361.44 L221.54 361.32 L221.66 361.21 L221.78 361.1 L221.89 361 L222.01 360.91 L222.12 360.82 L222.24 360.73 L222.35 360.65 L222.47 360.58 L222.58 360.51 L222.7 360.45 L222.82 360.38 L222.93 360.32 L223.05 360.25 L223.16 360.19 L223.28 360.13 L223.39 360.07 L223.51 360.01 L223.62 359.95 L223.74 359.89 L223.86 359.83 L223.97 359.77 L224.09 359.72 L224.2 359.66 L224.32 359.61 L224.43 359.55 L224.55 359.5 L224.67 359.45 L224.78 359.4 L224.9 359.35 L225.01 359.3 L225.13 359.26 L225.24 359.21 L225.36 359.17 L225.47 359.13 L225.59 359.09 L225.71 359.05 L225.82 359.02 L225.94 358.98 L226.05 358.95 L226.17 358.92 L226.28 358.89 L226.4 358.87 L226.51 358.84 L226.63 358.82 L226.75 358.8 L226.86 358.78 L226.98 358.77 L227.09 358.75 L227.21 358.74 L227.32 358.73 L227.44 358.73 L227.56 358.72 L227.67 358.72 L227.79 358.72 L227.9 358.72 L228.02 358.72 L228.13 358.72 L228.25 358.72 L228.36 358.72 L228.48 358.72" fill="none" stroke="#0a6a90" stroke-width="5" stroke-linecap="round" stroke-linejoin="round"/>
</g>
<rect x="202.5" y="273.8" width="167.7" height="129.1" fill="none" stroke="#a8a8a8" stroke-width="0.9"/>
<path d="M210.1 402.9 v3" stroke="#8a8a8a" stroke-width="0.9"/>
<text x="210.1" y="417.4" font-family='"Liberation Sans", Arial, Helvetica, sans-serif' font-size="11" font-weight="normal" fill="#1a1a1a" text-anchor="middle" >0</text>
<path d="M256.75 402.9 v3" stroke="#8a8a8a" stroke-width="0.9"/>
<text x="256.75" y="417.4" font-family='"Liberation Sans", Arial, Helvetica, sans-serif' font-size="11" font-weight="normal" fill="#1a1a1a" text-anchor="middle" >5</text>
<path d="M303.4 402.9 v3" stroke="#8a8a8a" stroke-width="0.9"/>
<text x="303.4" y="417.4" font-family='"Liberation Sans", Arial, Helvetica, sans-serif' font-size="11" font-weight="normal" fill="#1a1a1a" text-anchor="middle" >10</text>
<path d="M350.05 402.9 v3" stroke="#8a8a8a" stroke-width="0.9"/>
<text x="350.05" y="417.4" font-family='"Liberation Sans", Arial, Helvetica, sans-serif' font-size="11" font-weight="normal" fill="#1a1a1a" text-anchor="middle" >15</text>
<path d="M32.6 397.5 h-3" stroke="#8a8a8a" stroke-width="0.9"/>
<text x="27.8" y="401.5" font-family='"Liberation Sans", Arial, Helvetica, sans-serif' font-size="11" font-weight="normal" fill="#1a1a1a" text-anchor="end" >0</text>
<path d="M32.6 367.9 h-3" stroke="#8a8a8a" stroke-width="0.9"/>
<text x="27.8" y="371.9" font-family='"Liberation Sans", Arial, Helvetica, sans-serif' font-size="11" font-weight="normal" fill="#1a1a1a" text-anchor="end" >1</text>
<path d="M32.6 338.3 h-3" stroke="#8a8a8a" stroke-width="0.9"/>
<text x="27.8" y="342.3" font-family='"Liberation Sans", Arial, Helvetica, sans-serif' font-size="11" font-weight="normal" fill="#1a1a1a" text-anchor="end" >2</text>
<path d="M32.6 308.7 h-3" stroke="#8a8a8a" stroke-width="0.9"/>
<text x="27.8" y="312.7" font-family='"Liberation Sans", Arial, Helvetica, sans-serif' font-size="11" font-weight="normal" fill="#1a1a1a" text-anchor="end" >3</text>
<path d="M32.6 279.1 h-3" stroke="#8a8a8a" stroke-width="0.9"/>
<text x="27.8" y="283.1" font-family='"Liberation Sans", Arial, Helvetica, sans-serif' font-size="11" font-weight="normal" fill="#1a1a1a" text-anchor="end" >4</text>
<text transform="translate(17.8 338.6) rotate(-90)" font-family='"Liberation Sans", Arial, Helvetica, sans-serif' font-size="14.3" fill="#1a1a1a" text-anchor="middle" textLength="122" lengthAdjust="spacingAndGlyphs">Concentration (AU)</text>
<text x="116.1" y="430.4" font-family='"Liberation Sans", Arial, Helvetica, sans-serif' font-size="14.3" font-weight="normal" fill="#1a1a1a" text-anchor="start" textLength="170.3" lengthAdjust="spacingAndGlyphs" >Phosphate Donor (nt) (AU)</text>
<text x="379.2" y="292" font-family='"Liberation Sans", Arial, Helvetica, sans-serif' font-size="13.5" font-weight="bold" fill="#000" text-anchor="start" textLength="34.1" lengthAdjust="spacingAndGlyphs" >Form</text>
<rect x="378.6" y="296.5" width="14.9" height="14.4" fill="#fdfdfd" stroke="#d4d4d4" stroke-width="0.8"/>
<rect x="378.6" y="310.9" width="14.9" height="14.5" fill="#fdfdfd" stroke="#d4d4d4" stroke-width="0.8"/>
<rect x="380.2" y="301" width="11.8" height="5.7" fill="#b00037"/>
<rect x="380.2" y="315.8" width="11.8" height="5.7" fill="#0a6a90"/>
<text x="395.3" y="308.8" font-family='"Liberation Sans", Arial, Helvetica, sans-serif' font-size="13.6" font-weight="normal" fill="#111" text-anchor="start" textLength="21.2" lengthAdjust="spacingAndGlyphs" >OO</text>
<text x="396" y="323.5" font-family='"Liberation Sans", Arial, Helvetica, sans-serif' font-size="13.6" font-weight="normal" fill="#111" text-anchor="start" textLength="18" lengthAdjust="spacingAndGlyphs" >PP</text>
<text x="379.2" y="349.2" font-family='"Liberation Sans", Arial, Helvetica, sans-serif' font-size="13.5" font-weight="bold" fill="#000" text-anchor="start" textLength="32.6" lengthAdjust="spacingAndGlyphs" >State</text>
<rect x="378.6" y="352.8" width="14.9" height="14.7" fill="#fdfdfd" stroke="#d4d4d4" stroke-width="0.8"/>
<rect x="378.6" y="367.5" width="14.9" height="14.7" fill="#fdfdfd" stroke="#d4d4d4" stroke-width="0.8"/>
<rect x="378.6" y="382.2" width="14.9" height="14.7" fill="#fdfdfd" stroke="#d4d4d4" stroke-width="0.8"/>
<path d="M380.2 360 H392" stroke="#000" stroke-width="3.6"/>
<path d="M380.2 374.9 H386.7 M389.4 374.9 H390.9" stroke="#000" stroke-width="3"/>
<path d="M380.2 390 H382.3 M384.3 390 H386.7 M388.8 390 H391" stroke="#000" stroke-width="3.6"/>
<text x="395.4" y="362.9" font-family='"Liberation Sans", Arial, Helvetica, sans-serif' font-size="11.7" font-weight="normal" fill="#111" text-anchor="start" >ss</text>
<text x="395.4" y="378.2" font-family='"Liberation Sans", Arial, Helvetica, sans-serif' font-size="11.7" font-weight="normal" fill="#111" text-anchor="start" >us</text>
<text x="395.4" y="392.9" font-family='"Liberation Sans", Arial, Helvetica, sans-serif' font-size="11.7" font-weight="normal" fill="#111" text-anchor="start" textLength="22.4" lengthAdjust="spacingAndGlyphs" >amp</text>
<text x="0.3" y="470.4" font-family='"Liberation Sans", Arial, Helvetica, sans-serif' font-size="19" font-weight="bold" fill="#000" text-anchor="start" >d</text>
<rect x="32.6" y="485" width="167" height="118.9" fill="#fff"/>
<path d="M57.61 485 V603.9" stroke="#fafafa" stroke-width="0.6"/>
<path d="M95.44 485 V603.9" stroke="#fafafa" stroke-width="0.6"/>
<path d="M133.26 485 V603.9" stroke="#fafafa" stroke-width="0.6"/>
<path d="M171.09 485 V603.9" stroke="#fafafa" stroke-width="0.6"/>
<path d="M32.6 585.38 H199.6" stroke="#fafafa" stroke-width="0.6"/>
<path d="M32.6 558.32 H199.6" stroke="#fafafa" stroke-width="0.6"/>
<path d="M32.6 531.27 H199.6" stroke="#fafafa" stroke-width="0.6"/>
<path d="M32.6 504.22 H199.6" stroke="#fafafa" stroke-width="0.6"/>
<path d="M38.7 485 V603.9" stroke="#efefef" stroke-width="0.7"/>
<path d="M76.53 485 V603.9" stroke="#efefef" stroke-width="0.7"/>
<path d="M114.35 485 V603.9" stroke="#efefef" stroke-width="0.7"/>
<path d="M152.18 485 V603.9" stroke="#efefef" stroke-width="0.7"/>
<path d="M190 485 V603.9" stroke="#efefef" stroke-width="0.7"/>
<path d="M32.6 598.9 H199.6" stroke="#efefef" stroke-width="0.7"/>
<path d="M32.6 571.85 H199.6" stroke="#efefef" stroke-width="0.7"/>
<path d="M32.6 544.8 H199.6" stroke="#efefef" stroke-width="0.7"/>
<path d="M32.6 517.75 H199.6" stroke="#efefef" stroke-width="0.7"/>
<path d="M32.6 490.7 H199.6" stroke="#efefef" stroke-width="0.7"/>
<rect x="32.6" y="471.2" width="167" height="13.8" fill="#cfcece" stroke="#a8a8a8" stroke-width="0.9"/>
<text x="117.6" y="481.2" font-family='"Liberation Sans", Arial, Helvetica, sans-serif' font-size="11.2" font-weight="normal" fill="#1a1a1a" text-anchor="middle" textLength="56.2" lengthAdjust="spacingAndGlyphs" >CO system</text>
<clipPath id="dc0"><rect x="32.6" y="485" width="167" height="118.9"/></clipPath>
<g clip-path="url(#dc0)">
<path d="M41.42 598.9 L42.1 594 L42.78 589.32 L43.45 584.85 L44.13 580.59 L44.81 576.52 L45.49 572.64 L46.16 568.93 L46.84 565.39 L47.52 562.01 L48.19 558.79 L48.87 555.71 L49.55 552.78 L50.22 549.98 L50.9 547.3 L51.58 544.75 L52.26 542.31 L52.93 539.99 L53.61 537.77 L54.29 535.65 L54.96 533.62 L55.64 531.69 L56.32 529.85 L56.99 528.09 L57.67 526.42 L58.35 524.81 L59.03 523.28 L59.7 521.83 L60.38 520.43 L61.06 519.1 L61.73 517.83 L62.41 516.62 L63.09 515.47 L63.76 514.36 L64.44 513.31 L65.12 512.31 L65.8 511.35 L66.47 510.43 L67.15 509.56 L67.83 508.72 L68.5 507.93 L69.18 507.17 L69.86 506.44 L70.53 505.75 L71.21 505.09 L71.89 504.46 L72.57 503.86 L73.24 503.28 L73.92 502.73 L74.6 502.21 L75.27 501.71 L75.95 501.23 L76.63 500.78 L77.3 500.34 L77.98 499.93 L78.66 499.53 L79.34 499.16 L80.01 498.8 L80.69 498.45 L81.37 498.12 L82.12 598.9 L84.54 598.9 L85.19 594.25 L85.83 589.8 L86.47 585.55 L87.11 581.48 L87.75 577.58 L88.39 573.85 L89.03 570.28 L89.67 566.87 L90.31 563.61 L90.95 560.48 L91.6 557.49 L92.24 554.63 L92.88 551.89 L93.52 549.28 L94.16 546.77 L94.8 544.37 L95.44 542.08 L96.08 539.88 L96.72 537.78 L97.37 535.77 L98.01 533.85 L98.65 532.01 L99.29 530.25 L99.93 528.57 L100.57 526.95 L101.21 525.41 L101.85 523.94 L102.49 522.52 L103.14 521.17 L103.78 519.88 L104.42 518.64 L105.06 517.46 L105.7 516.33 L106.34 515.25 L106.98 514.21 L107.62 513.22 L108.26 512.27 L108.91 511.36 L109.55 510.49 L110.19 509.66 L110.83 508.87 L111.47 508.1 L112.11 507.38 L112.75 506.68 L113.39 506.01 L114.03 505.38 L114.68 504.76 L115.32 504.18 L115.96 503.62 L116.6 503.09 L117.24 502.58 L117.88 502.09 L118.52 501.62 L119.16 501.17 L119.8 500.74 L120.45 500.33 L121.09 499.94 L121.73 499.56 L122.37 499.2 L123.13 598.9 L125.55 598.9 L126.17 594.4 L126.79 590.08 L127.41 585.95 L128.03 581.99 L128.65 578.19 L129.27 574.55 L129.89 571.07 L130.51 567.73 L131.13 564.53 L131.75 561.47 L132.37 558.53 L132.99 555.71 L133.61 553.02 L134.23 550.43 L134.85 547.96 L135.48 545.59 L136.1 543.31 L136.72 541.14 L137.34 539.05 L137.96 537.05 L138.58 535.13 L139.2 533.3 L139.82 531.54 L140.44 529.85 L141.06 528.24 L141.68 526.69 L142.3 525.21 L142.92 523.79 L143.54 522.43 L144.16 521.12 L144.78 519.87 L145.4 518.67 L146.03 517.53 L146.65 516.43 L147.27 515.37 L147.89 514.36 L148.51 513.4 L149.13 512.47 L149.75 511.58 L150.37 510.73 L150.99 509.92 L151.61 509.14 L152.23 508.39 L152.85 507.67 L153.47 506.98 L154.09 506.32 L154.71 505.69 L155.33 505.09 L155.95 504.51 L156.58 503.95 L157.2 503.42 L157.82 502.91 L158.44 502.43 L159.06 501.96 L159.68 501.51 L160.3 501.08 L160.92 500.67 L161.54 500.27 L162.16 499.9 L162.92 598.9 L164.88 598.9 L165.35 595.51 L165.81 592.23 L166.28 589.06 L166.74 585.98 L167.2 583 L167.67 580.12 L168.13 577.32 L168.6 574.61 L169.06 571.99 L169.53 569.45 L169.99 566.99 L170.45 564.61 L170.92 562.3 L171.38 560.07 L171.85 557.9 L172.31 555.81 L172.77 553.78 L173.24 551.81 L173.7 549.9 L174.17 548.06 L174.63 546.27 L175.1 544.54 L175.56 542.86 L176.02 541.24 L176.49 539.67 L176.95 538.15 L177.42 536.67 L177.88 535.24 L178.34 533.86 L178.81 532.52 L179.27 531.22 L179.74 529.96 L180.2 528.74 L180.67 527.56 L181.13 526.42 L181.59 525.32 L182.06 524.24 L182.52 523.21 L182.99 522.2 L183.45 521.23 L183.91 520.28 L184.38 519.37 L184.84 518.49 L185.31 517.63 L185.77 516.8 L186.24 515.99 L186.7 515.22 L187.16 514.46 L187.63 513.73 L188.09 513.02 L188.56 512.34 L189.02 511.68 L189.48 511.03 L189.95 510.41 L190.41 509.81 L190.88 509.22 L191.34 508.66 L191.81 508.11 L192.27 507.58" fill="none" stroke="#666666" stroke-width="4" stroke-linejoin="round" stroke-linecap="round"/>
<path d="M39.61 542.1 L40.06 517.75 L41.12 495.57 L42.03 495.03 L42.03 495.03 L42.69 499.6 L43.35 503.97 L44.01 508.14 L44.68 512.14 L45.34 515.96 L46 519.6 L46.66 523.09 L47.32 526.43 L47.98 529.62 L48.64 532.67 L49.31 535.58 L49.97 538.37 L50.63 541.03 L51.29 543.58 L51.95 546.01 L52.61 548.34 L53.28 550.56 L53.94 552.69 L54.6 554.72 L55.26 556.67 L55.92 558.52 L56.58 560.3 L57.25 562 L57.91 563.62 L58.57 565.17 L59.23 566.66 L59.89 568.08 L60.55 569.43 L61.22 570.73 L61.88 571.97 L62.54 573.15 L63.2 574.29 L63.86 575.37 L64.52 576.41 L65.19 577.4 L65.85 578.34 L66.51 579.25 L67.17 580.11 L67.83 580.94 L68.49 581.73 L69.15 582.48 L69.82 583.21 L70.48 583.9 L71.14 584.56 L71.8 585.19 L72.46 585.79 L73.12 586.37 L73.79 586.92 L74.45 587.45 L75.11 587.95 L75.77 588.43 L76.43 588.89 L77.09 589.33 L77.76 589.75 L78.42 590.16 L79.08 590.54 L79.74 590.91 L80.4 591.26 L81.06 591.6 L83.48 594.3 L83.64 590.78 L84.39 528.57 L85 502.87 L85.63 506.81 L86.26 510.59 L86.9 514.21 L87.53 517.68 L88.16 521.01 L88.8 524.21 L89.43 527.27 L90.07 530.21 L90.7 533.03 L91.33 535.73 L91.97 538.32 L92.6 540.81 L93.23 543.19 L93.87 545.47 L94.5 547.66 L95.13 549.77 L95.77 551.78 L96.4 553.71 L97.03 555.57 L97.67 557.34 L98.3 559.05 L98.93 560.68 L99.57 562.25 L100.2 563.75 L100.83 565.2 L101.47 566.58 L102.1 567.9 L102.73 569.17 L103.37 570.39 L104 571.56 L104.63 572.68 L105.27 573.76 L105.9 574.79 L106.53 575.78 L107.17 576.73 L107.8 577.64 L108.43 578.51 L109.07 579.35 L109.7 580.15 L110.33 580.92 L110.97 581.65 L111.6 582.36 L112.23 583.04 L112.87 583.69 L113.5 584.31 L114.13 584.91 L114.77 585.49 L115.4 586.04 L116.03 586.56 L116.67 587.07 L117.3 587.56 L117.94 588.02 L118.57 588.47 L119.2 588.89 L119.84 589.31 L120.47 589.7 L121.1 590.08 L121.74 590.44 L122.37 590.78 L124.64 593.49 L124.79 590.78 L125.55 528.57 L126.15 505.58 L126.76 509.22 L127.37 512.71 L127.98 516.08 L128.59 519.31 L129.2 522.41 L129.81 525.39 L130.42 528.26 L131.03 531.01 L131.64 533.66 L132.25 536.21 L132.87 538.65 L133.48 541 L134.09 543.26 L134.7 545.43 L135.31 547.51 L135.92 549.52 L136.53 551.44 L137.14 553.3 L137.75 555.07 L138.36 556.78 L138.97 558.43 L139.58 560 L140.19 561.52 L140.8 562.98 L141.41 564.38 L142.02 565.73 L142.63 567.02 L143.24 568.26 L143.85 569.46 L144.46 570.61 L145.07 571.71 L145.68 572.77 L146.29 573.79 L146.9 574.77 L147.51 575.71 L148.12 576.61 L148.73 577.48 L149.34 578.32 L149.95 579.12 L150.56 579.89 L151.17 580.63 L151.79 581.35 L152.4 582.03 L153.01 582.69 L153.62 583.32 L154.23 583.93 L154.84 584.51 L155.45 585.07 L156.06 585.61 L156.67 586.13 L157.28 586.63 L157.89 587.11 L158.5 587.57 L159.11 588.01 L159.72 588.43 L160.33 588.84 L160.94 589.23 L161.55 589.61 L162.16 589.97 L163.98 592.68 L164.13 590.78 L164.88 528.57 L165.49 506.39 L165.94 509.21 L166.4 511.95 L166.85 514.6 L167.31 517.17 L167.76 519.66 L168.21 522.08 L168.67 524.42 L169.12 526.69 L169.57 528.9 L170.03 531.03 L170.48 533.1 L170.94 535.11 L171.39 537.05 L171.84 538.94 L172.3 540.77 L172.75 542.54 L173.21 544.26 L173.66 545.93 L174.11 547.54 L174.57 549.11 L175.02 550.63 L175.48 552.1 L175.93 553.53 L176.38 554.91 L176.84 556.25 L177.29 557.55 L177.74 558.81 L178.2 560.04 L178.65 561.22 L179.11 562.37 L179.56 563.49 L180.01 564.57 L180.47 565.61 L180.92 566.63 L181.38 567.61 L181.83 568.57 L182.28 569.49 L182.74 570.39 L183.19 571.26 L183.65 572.1 L184.1 572.92 L184.55 573.71 L185.01 574.48 L185.46 575.22 L185.91 575.95 L186.37 576.65 L186.82 577.32 L187.28 577.98 L187.73 578.62 L188.18 579.24 L188.64 579.84 L189.09 580.42 L189.55 580.98 L190 581.53 L190.45 582.06 L190.91 582.57 L191.36 583.07 L191.82 583.55 L192.27 584.02" fill="none" stroke="#0a6a90" stroke-width="4" stroke-linejoin="round" stroke-linecap="round"/>
<path d="M40.06 598.9 L40.06 548.86" fill="none" stroke="#b00037" stroke-width="4" stroke-linecap="butt"/>
<path d="M83.64 598.9 L83.64 544.8" fill="none" stroke="#b00037" stroke-width="4" stroke-linecap="butt"/>
<path d="M124.79 598.9 L124.79 550.75" fill="none" stroke="#b00037" stroke-width="4" stroke-linecap="butt"/>
<path d="M164.13 598.9 L164.13 552.91" fill="none" stroke="#b00037" stroke-width="4" stroke-linecap="butt"/>
<path d="M40.21 579.42 L41.12 598.9 L83.64 598.9 L84.17 566.44 L84.7 598.9 L124.79 598.9 L125.32 568.6 L125.85 598.9 L164.13 598.9 L164.66 569.14 L165.19 598.9 L192.27 598.9" fill="none" stroke="#a1a01c" stroke-width="4.4" stroke-linejoin="round" stroke-linecap="round"/>
</g>
<rect x="32.6" y="485" width="167" height="118.9" fill="none" stroke="#a8a8a8" stroke-width="0.9"/>
<path d="M38.7 603.9 v3" stroke="#8a8a8a" stroke-width="0.9"/>
<text x="38.7" y="616.5" font-family='"Liberation Sans", Arial, Helvetica, sans-serif' font-size="11" font-weight="normal" fill="#1a1a1a" text-anchor="middle" >0</text>
<path d="M76.53 603.9 v3" stroke="#8a8a8a" stroke-width="0.9"/>
<text x="76.53" y="616.5" font-family='"Liberation Sans", Arial, Helvetica, sans-serif' font-size="11" font-weight="normal" fill="#1a1a1a" text-anchor="middle" >25</text>
<path d="M114.35 603.9 v3" stroke="#8a8a8a" stroke-width="0.9"/>
<text x="114.35" y="616.5" font-family='"Liberation Sans", Arial, Helvetica, sans-serif' font-size="11" font-weight="normal" fill="#1a1a1a" text-anchor="middle" >50</text>
<path d="M152.18 603.9 v3" stroke="#8a8a8a" stroke-width="0.9"/>
<text x="152.18" y="616.5" font-family='"Liberation Sans", Arial, Helvetica, sans-serif' font-size="11" font-weight="normal" fill="#1a1a1a" text-anchor="middle" >75</text>
<path d="M190 603.9 v3" stroke="#8a8a8a" stroke-width="0.9"/>
<text x="190" y="616.5" font-family='"Liberation Sans", Arial, Helvetica, sans-serif' font-size="11" font-weight="normal" fill="#1a1a1a" text-anchor="middle" >100</text>
<rect x="202.5" y="485" width="167.4" height="118.9" fill="#fff"/>
<path d="M228.91 485 V603.9" stroke="#fafafa" stroke-width="0.6"/>
<path d="M266.74 485 V603.9" stroke="#fafafa" stroke-width="0.6"/>
<path d="M304.56 485 V603.9" stroke="#fafafa" stroke-width="0.6"/>
<path d="M342.39 485 V603.9" stroke="#fafafa" stroke-width="0.6"/>
<path d="M202.5 585.38 H369.9" stroke="#fafafa" stroke-width="0.6"/>
<path d="M202.5 558.32 H369.9" stroke="#fafafa" stroke-width="0.6"/>
<path d="M202.5 531.27 H369.9" stroke="#fafafa" stroke-width="0.6"/>
<path d="M202.5 504.22 H369.9" stroke="#fafafa" stroke-width="0.6"/>
<path d="M210 485 V603.9" stroke="#efefef" stroke-width="0.7"/>
<path d="M247.82 485 V603.9" stroke="#efefef" stroke-width="0.7"/>
<path d="M285.65 485 V603.9" stroke="#efefef" stroke-width="0.7"/>
<path d="M323.48 485 V603.9" stroke="#efefef" stroke-width="0.7"/>
<path d="M361.3 485 V603.9" stroke="#efefef" stroke-width="0.7"/>
<path d="M202.5 598.9 H369.9" stroke="#efefef" stroke-width="0.7"/>
<path d="M202.5 571.85 H369.9" stroke="#efefef" stroke-width="0.7"/>
<path d="M202.5 544.8 H369.9" stroke="#efefef" stroke-width="0.7"/>
<path d="M202.5 517.75 H369.9" stroke="#efefef" stroke-width="0.7"/>
<path d="M202.5 490.7 H369.9" stroke="#efefef" stroke-width="0.7"/>
<rect x="202.5" y="471.2" width="167.4" height="13.8" fill="#cfcece" stroke="#a8a8a8" stroke-width="0.9"/>
<text x="287.7" y="481.2" font-family='"Liberation Sans", Arial, Helvetica, sans-serif' font-size="11.2" font-weight="normal" fill="#1a1a1a" text-anchor="middle" textLength="56.2" lengthAdjust="spacingAndGlyphs" >SO system</text>
<clipPath id="dc1"><rect x="202.5" y="485" width="161.1" height="118.9"/></clipPath>
<g clip-path="url(#dc1)">
<path d="M210.45 598.9 L211.23 595.3 L212 591.77 L212.78 588.3 L213.55 584.9 L214.33 581.57 L215.1 578.32 L215.88 575.14 L216.65 572.05 L217.42 569.03 L218.2 566.11 L218.97 563.27 L219.75 560.52 L220.52 557.86 L221.3 555.26 L222.07 552.72 L222.85 550.24 L223.62 547.82 L224.39 545.46 L225.17 543.17 L225.94 540.93 L226.72 538.74 L227.49 536.62 L228.27 534.55 L229.04 532.53 L229.82 530.55 L230.59 528.57 L231.36 526.61 L232.14 524.66 L232.91 522.76 L233.69 520.91 L234.46 519.13 L235.24 517.42 L236.01 515.81 L236.79 514.3 L237.56 512.91 L238.33 511.65 L239.11 510.51 L239.88 509.43 L240.66 508.38 L241.43 507.38 L242.21 506.42 L242.98 505.52 L243.76 504.66 L244.53 503.86 L245.3 503.11 L246.08 502.42 L246.85 501.79 L247.63 501.22 L248.4 500.7 L249.18 500.18 L249.95 499.7 L250.73 499.27 L251.5 498.91 L252.27 498.65 L253.05 498.51 L253.82 498.42 L254.6 498.34 L255.37 498.29 L256.15 498.27 L257.36 598.9 L260.38 598.9 L261.16 595.3 L261.93 591.77 L262.71 588.3 L263.48 584.9 L264.26 581.57 L265.03 578.32 L265.8 575.14 L266.58 572.05 L267.35 569.03 L268.13 566.11 L268.9 563.27 L269.68 560.52 L270.45 557.86 L271.23 555.26 L272 552.72 L272.77 550.24 L273.55 547.82 L274.32 545.46 L275.1 543.17 L275.87 540.93 L276.65 538.74 L277.42 536.62 L278.2 534.55 L278.97 532.53 L279.74 530.55 L280.52 528.57 L281.29 526.61 L282.07 524.66 L282.84 522.76 L283.62 520.91 L284.39 519.13 L285.17 517.42 L285.94 515.81 L286.71 514.3 L287.49 512.91 L288.26 511.65 L289.04 510.51 L289.81 509.43 L290.59 508.38 L291.36 507.38 L292.14 506.42 L292.91 505.52 L293.68 504.66 L294.46 503.86 L295.23 503.11 L296.01 502.42 L296.78 501.79 L297.56 501.22 L298.33 500.7 L299.11 500.18 L299.88 499.7 L300.65 499.27 L301.43 498.91 L302.2 498.65 L302.98 498.51 L303.75 498.42 L304.53 498.34 L305.3 498.29 L306.08 498.27 L307.29 598.9 L310.31 598.9 L311.09 595.3 L311.86 591.77 L312.64 588.3 L313.41 584.9 L314.18 581.57 L314.96 578.32 L315.73 575.14 L316.51 572.05 L317.28 569.03 L318.06 566.11 L318.83 563.27 L319.61 560.52 L320.38 557.86 L321.15 555.26 L321.93 552.72 L322.7 550.24 L323.48 547.82 L324.25 545.46 L325.03 543.17 L325.8 540.93 L326.58 538.74 L327.35 536.62 L328.12 534.55 L328.9 532.53 L329.67 530.55 L330.45 528.57 L331.22 526.61 L332 524.66 L332.77 522.76 L333.55 520.91 L334.32 519.13 L335.09 517.42 L335.87 515.81 L336.64 514.3 L337.42 512.91 L338.19 511.65 L338.97 510.51 L339.74 509.43 L340.52 508.38 L341.29 507.38 L342.06 506.42 L342.84 505.52 L343.61 504.66 L344.39 503.86 L345.16 503.11 L345.94 502.42 L346.71 501.79 L347.49 501.22 L348.26 500.7 L349.03 500.18 L349.81 499.7 L350.58 499.27 L351.36 498.91 L352.13 498.65 L352.91 498.51 L353.68 498.42 L354.46 498.34 L355.23 498.29 L356 498.27 L357.21 598.9 L360.24 598.9 L361.02 595.3 L361.79 591.77 L362.56 588.3 L363.34 584.9 L364.11 581.57 L364.89 578.32 L365.66 575.14 L366.44 572.05 L367.21 569.03 L367.99 566.11 L368.76 563.27 L369.53 560.52 L370.31 557.86 L371.08 555.26 L371.86 552.72 L372.63 550.24 L373.41 547.82 L374.18 545.46 L374.96 543.17 L375.73 540.93 L376.5 538.74 L377.28 536.62 L378.05 534.55 L378.83 532.53 L379.6 530.55 L380.38 528.57 L381.15 526.61 L381.93 524.66 L382.7 522.76 L383.47 520.91 L384.25 519.13 L385.02 517.42 L385.8 515.81 L386.57 514.3 L387.35 512.91 L388.12 511.65 L388.9 510.51 L389.67 509.43 L390.44 508.38 L391.22 507.38 L391.99 506.42 L392.77 505.52 L393.54 504.66 L394.32 503.86 L395.09 503.11 L395.87 502.42 L396.64 501.79 L397.41 501.22 L398.19 500.7 L398.96 500.18 L399.74 499.7 L400.51 499.27 L401.29 498.91 L402.06 498.65 L402.84 498.51 L403.61 498.42 L404.38 498.34 L405.16 498.29 L405.93 498.27 L407.14 598.9" fill="none" stroke="#666666" stroke-width="4" stroke-linejoin="round" stroke-linecap="round"/>
<path d="M210.45 542.64 L211.38 540.79 L212.3 539.35 L213.22 538.16 L214.15 537.22 L215.07 536.99 L215.99 537.71 L216.92 538.98 L217.84 540.33 L218.76 541.95 L219.69 543.89 L220.61 546.06 L221.53 548.35 L222.46 550.66 L223.38 552.89 L224.3 554.93 L225.23 556.84 L226.15 558.74 L227.07 560.64 L228 562.52 L228.92 564.37 L229.84 566.17 L230.77 567.92 L231.69 569.6 L232.61 571.2 L233.53 572.71 L234.46 574.12 L235.38 575.49 L236.3 576.83 L237.23 578.13 L238.15 579.39 L239.07 580.61 L240 581.76 L240.92 582.84 L241.84 583.86 L242.77 584.78 L243.69 585.62 L244.61 586.39 L245.54 587.16 L246.46 587.94 L247.38 588.7 L248.31 589.43 L249.23 590.1 L250.15 590.71 L251.08 591.24 L252 591.66 L252.92 591.96 L253.85 592.12 L254.77 592.14 L255.69 592.14 L258.26 592.14 L259.23 580.43 L260.2 570.23 L261.16 560.97 L262.13 554.99 L263.1 550.79 L264.06 547.97 L265.03 546.43 L266 545.3 L266.96 544.8 L267.93 545.15 L268.9 546.1 L269.86 547.27 L270.83 548.49 L271.8 550 L272.76 551.73 L273.73 553.61 L274.69 555.54 L275.66 557.45 L276.63 559.25 L277.59 560.92 L278.56 562.62 L279.53 564.33 L280.49 566.03 L281.46 567.71 L282.43 569.36 L283.39 570.97 L284.36 572.51 L285.33 573.97 L286.29 575.35 L287.26 576.63 L288.23 577.88 L289.19 579.1 L290.16 580.28 L291.12 581.42 L292.09 582.51 L293.06 583.55 L294.02 584.52 L294.99 585.43 L295.96 586.26 L296.92 587.02 L297.89 587.74 L298.86 588.44 L299.82 589.1 L300.79 589.72 L301.76 590.31 L302.72 590.84 L303.69 591.33 L304.66 591.76 L305.62 592.14 L308.19 592.14 L309.16 580.43 L310.13 570.23 L311.09 560.97 L312.06 554.99 L313.03 550.79 L313.99 547.97 L314.96 546.43 L315.93 545.3 L316.89 544.8 L317.86 545.15 L318.82 546.1 L319.79 547.27 L320.76 548.49 L321.72 550 L322.69 551.73 L323.66 553.61 L324.62 555.54 L325.59 557.45 L326.56 559.25 L327.52 560.92 L328.49 562.62 L329.46 564.33 L330.42 566.03 L331.39 567.71 L332.36 569.36 L333.32 570.97 L334.29 572.51 L335.25 573.97 L336.22 575.35 L337.19 576.63 L338.15 577.88 L339.12 579.1 L340.09 580.28 L341.05 581.42 L342.02 582.51 L342.99 583.55 L343.95 584.52 L344.92 585.43 L345.89 586.26 L346.85 587.02 L347.82 587.74 L348.79 588.44 L349.75 589.1 L350.72 589.72 L351.68 590.31 L352.65 590.84 L353.62 591.33 L354.58 591.76 L355.55 592.14 L358.12 592.14 L359.09 580.43 L360.06 570.23 L361.02 560.97 L361.99 554.99 L362.96 550.79 L363.92 547.97 L364.89 546.43 L365.85 545.3 L366.82 544.8 L367.79 545.15 L368.75 546.1 L369.72 547.27 L370.69 548.49 L371.65 550 L372.62 551.73 L373.59 553.61 L374.55 555.54 L375.52 557.45 L376.49 559.25 L377.45 560.92 L378.42 562.62 L379.38 564.33 L380.35 566.03 L381.32 567.71 L382.28 569.36 L383.25 570.97 L384.22 572.51 L385.18 573.97 L386.15 575.35 L387.12 576.63 L388.08 577.88 L389.05 579.1 L390.02 580.28 L390.98 581.42 L391.95 582.51 L392.92 583.55 L393.88 584.52 L394.85 585.43 L395.81 586.26 L396.78 587.02 L397.75 587.74 L398.71 588.44 L399.68 589.1 L400.65 589.72 L401.61 590.31 L402.58 590.84 L403.55 591.33 L404.51 591.76 L405.48 592.14" fill="none" stroke="#0a6a90" stroke-width="4" stroke-linejoin="round" stroke-linecap="round"/>
<path d="M210.3 548.86 L211.23 553.34 L212.16 557.81 L213.09 562.41 L214.02 566.94 L214.95 570.72 L215.88 574.05 L216.81 577.06 L217.74 579.77 L218.67 582.2 L219.6 584.53 L220.53 586.72 L221.46 588.65 L222.38 590.19 L223.31 591.28 L224.24 592.22 L225.17 593.08 L226.1 593.84 L227.03 594.52 L227.96 595.1 L228.89 595.59 L229.82 595.99 L230.75 596.29 L231.68 596.56 L232.61 596.81 L233.54 597.04 L234.47 597.24 L235.4 597.43 L236.33 597.59 L237.26 597.74 L238.19 597.87 L239.11 597.98 L240.04 598.07 L240.97 598.15 L241.9 598.23 L242.83 598.3 L243.76 598.37 L244.69 598.44 L245.62 598.51 L246.55 598.57 L247.48 598.63 L248.41 598.68 L249.34 598.73 L250.27 598.77 L251.2 598.81 L252.13 598.84 L253.06 598.87 L253.99 598.88 L254.91 598.9 L255.84 598.9 L256.9 598.9 L257.51 528.57 L257.96 520.45 L258.93 523.41 L259.91 530.39 L260.88 541.12 L261.85 548.83 L262.83 555.06 L263.8 560.45 L264.77 565.13 L265.74 569.42 L266.72 573.3 L267.69 576.67 L268.66 579.43 L269.63 581.78 L270.61 583.9 L271.58 585.77 L272.55 587.4 L273.52 588.77 L274.5 589.91 L275.47 590.96 L276.44 591.92 L277.41 592.8 L278.39 593.59 L279.36 594.27 L280.33 594.86 L281.31 595.34 L282.28 595.74 L283.25 596.12 L284.22 596.47 L285.2 596.79 L286.17 597.09 L287.14 597.35 L288.11 597.58 L289.09 597.78 L290.06 597.94 L291.03 598.07 L292 598.16 L292.98 598.25 L293.95 598.34 L294.92 598.42 L295.9 598.5 L296.87 598.57 L297.84 598.63 L298.81 598.69 L299.79 598.74 L300.76 598.79 L301.73 598.83 L302.7 598.86 L303.68 598.88 L304.65 598.9 L305.62 598.9 L306.83 598.9 L307.44 528.57 L307.89 520.45 L308.86 523.41 L309.84 530.39 L310.81 541.12 L311.78 548.83 L312.75 555.06 L313.73 560.45 L314.7 565.13 L315.67 569.42 L316.64 573.3 L317.62 576.67 L318.59 579.43 L319.56 581.78 L320.54 583.9 L321.51 585.77 L322.48 587.4 L323.45 588.77 L324.43 589.91 L325.4 590.96 L326.37 591.92 L327.34 592.8 L328.32 593.59 L329.29 594.27 L330.26 594.86 L331.23 595.34 L332.21 595.74 L333.18 596.12 L334.15 596.47 L335.13 596.79 L336.1 597.09 L337.07 597.35 L338.04 597.58 L339.02 597.78 L339.99 597.94 L340.96 598.07 L341.93 598.16 L342.91 598.25 L343.88 598.34 L344.85 598.42 L345.82 598.5 L346.8 598.57 L347.77 598.63 L348.74 598.69 L349.71 598.74 L350.69 598.79 L351.66 598.83 L352.63 598.86 L353.61 598.88 L354.58 598.9 L355.55 598.9 L356.76 598.9 L357.37 528.57 L357.82 520.45 L358.79 523.41 L359.77 530.39 L360.74 541.12 L361.71 548.83 L362.68 555.06 L363.66 560.45 L364.63 565.13 L365.6 569.42 L366.57 573.3 L367.55 576.67 L368.52 579.43 L369.49 581.78 L370.46 583.9 L371.44 585.77 L372.41 587.4 L373.38 588.77 L374.36 589.91 L375.33 590.96 L376.3 591.92 L377.27 592.8 L378.25 593.59 L379.22 594.27 L380.19 594.86 L381.16 595.34 L382.14 595.74 L383.11 596.12 L384.08 596.47 L385.05 596.79 L386.03 597.09 L387 597.35 L387.97 597.58 L388.94 597.78 L389.92 597.94 L390.89 598.07 L391.86 598.16 L392.84 598.25 L393.81 598.34 L394.78 598.42 L395.75 598.5 L396.73 598.57 L397.7 598.63 L398.67 598.69 L399.64 598.74 L400.62 598.79 L401.59 598.83 L402.56 598.86 L403.53 598.88 L404.51 598.9 L405.48 598.9" fill="none" stroke="#a1a01c" stroke-width="4" stroke-linejoin="round" stroke-linecap="round"/>
<path d="M210 548.86 L210 598.9 L256.15 598.9 L256.6 542.64 L257.21 565.14 L257.81 598.9 L306.08 598.9 L306.53 544.8 L307.13 566.44 L307.74 598.9 L356 598.9 L356.46 544.8 L357.06 566.44 L357.67 598.9 L363.57 598.9" fill="none" stroke="#b00037" stroke-width="4" stroke-linejoin="round" stroke-linecap="round"/>
</g>
<rect x="202.5" y="485" width="167.4" height="118.9" fill="none" stroke="#a8a8a8" stroke-width="0.9"/>
<path d="M210 603.9 v3" stroke="#8a8a8a" stroke-width="0.9"/>
<text x="210" y="616.5" font-family='"Liberation Sans", Arial, Helvetica, sans-serif' font-size="11" font-weight="normal" fill="#1a1a1a" text-anchor="middle" >0</text>
<path d="M247.82 603.9 v3" stroke="#8a8a8a" stroke-width="0.9"/>
<text x="247.82" y="616.5" font-family='"Liberation Sans", Arial, Helvetica, sans-serif' font-size="11" font-weight="normal" fill="#1a1a1a" text-anchor="middle" >25</text>
<path d="M285.65 603.9 v3" stroke="#8a8a8a" stroke-width="0.9"/>
<text x="285.65" y="616.5" font-family='"Liberation Sans", Arial, Helvetica, sans-serif' font-size="11" font-weight="normal" fill="#1a1a1a" text-anchor="middle" >50</text>
<path d="M323.48 603.9 v3" stroke="#8a8a8a" stroke-width="0.9"/>
<text x="323.48" y="616.5" font-family='"Liberation Sans", Arial, Helvetica, sans-serif' font-size="11" font-weight="normal" fill="#1a1a1a" text-anchor="middle" >75</text>
<path d="M361.3 603.9 v3" stroke="#8a8a8a" stroke-width="0.9"/>
<text x="361.3" y="616.5" font-family='"Liberation Sans", Arial, Helvetica, sans-serif' font-size="11" font-weight="normal" fill="#1a1a1a" text-anchor="middle" >100</text>
<path d="M32.6 598.9 h-3" stroke="#8a8a8a" stroke-width="0.9"/>
<text x="27.8" y="602.9" font-family='"Liberation Sans", Arial, Helvetica, sans-serif' font-size="11" font-weight="normal" fill="#1a1a1a" text-anchor="end" >0</text>
<path d="M32.6 571.85 h-3" stroke="#8a8a8a" stroke-width="0.9"/>
<text x="27.8" y="575.85" font-family='"Liberation Sans", Arial, Helvetica, sans-serif' font-size="11" font-weight="normal" fill="#1a1a1a" text-anchor="end" >1</text>
<path d="M32.6 544.8 h-3" stroke="#8a8a8a" stroke-width="0.9"/>
<text x="27.8" y="548.8" font-family='"Liberation Sans", Arial, Helvetica, sans-serif' font-size="11" font-weight="normal" fill="#1a1a1a" text-anchor="end" >2</text>
<path d="M32.6 517.75 h-3" stroke="#8a8a8a" stroke-width="0.9"/>
<text x="27.8" y="521.75" font-family='"Liberation Sans", Arial, Helvetica, sans-serif' font-size="11" font-weight="normal" fill="#1a1a1a" text-anchor="end" >3</text>
<path d="M32.6 490.7 h-3" stroke="#8a8a8a" stroke-width="0.9"/>
<text x="27.8" y="494.7" font-family='"Liberation Sans", Arial, Helvetica, sans-serif' font-size="11" font-weight="normal" fill="#1a1a1a" text-anchor="end" >4</text>
<text transform="translate(18.7 544.9) rotate(-90)" font-family='"Liberation Sans", Arial, Helvetica, sans-serif' font-size="13.4" fill="#1a1a1a" text-anchor="middle" textLength="114.8" lengthAdjust="spacingAndGlyphs">Concentration (AU)</text>
<text x="172.4" y="628.7" font-family='"Liberation Sans", Arial, Helvetica, sans-serif' font-size="13.2" font-weight="normal" fill="#1a1a1a" text-anchor="start" textLength="59.9" lengthAdjust="spacingAndGlyphs" >Time (AU)</text>
<text x="379.9" y="515.6" font-family='"Liberation Sans", Arial, Helvetica, sans-serif' font-size="13.5" font-weight="bold" fill="#000" text-anchor="start" textLength="32.5" lengthAdjust="spacingAndGlyphs" >Form</text>
<rect x="379.4" y="518.7" width="13.7" height="13.4" fill="#fdfdfd" stroke="#d4d4d4" stroke-width="0.8"/>
<path d="M381.2 525.6 H391.9" stroke="#b00037" stroke-width="4.7"/>
<text x="395.1" y="529.5" font-family='"Liberation Sans", Arial, Helvetica, sans-serif' font-size="12.8" font-weight="normal" fill="#111" text-anchor="start" >OO</text>
<rect x="379.4" y="532.1" width="13.7" height="13.4" fill="#fdfdfd" stroke="#d4d4d4" stroke-width="0.8"/>
<path d="M381.2 539 H391.9" stroke="#666666" stroke-width="4.7"/>
<text x="395.1" y="542.9" font-family='"Liberation Sans", Arial, Helvetica, sans-serif' font-size="12.8" font-weight="normal" fill="#111" text-anchor="start" >PO</text>
<rect x="379.4" y="545.5" width="13.7" height="13.4" fill="#fdfdfd" stroke="#d4d4d4" stroke-width="0.8"/>
<path d="M381.2 552.4 H391.9" stroke="#0a6a90" stroke-width="4.7"/>
<text x="395.1" y="556.3" font-family='"Liberation Sans", Arial, Helvetica, sans-serif' font-size="12.8" font-weight="normal" fill="#111" text-anchor="start" >PP</text>
<rect x="379.4" y="558.9" width="13.7" height="13.4" fill="#fdfdfd" stroke="#d4d4d4" stroke-width="0.8"/>
<path d="M381.2 565.8 H391.9" stroke="#a1a01c" stroke-width="4.7"/>
<text x="395.1" y="569.7" font-family='"Liberation Sans", Arial, Helvetica, sans-serif' font-size="12.8" font-weight="normal" fill="#111" text-anchor="start" >OP</text>
<text x="459.2" y="258.6" font-family='"Liberation Sans", Arial, Helvetica, sans-serif' font-size="19" font-weight="bold" fill="#000" text-anchor="start" >e</text>
<rect x="510.7" y="253.7" width="163.2" height="141.7" fill="#fff"/>
<path d="M517.6 253.7 V395.4" stroke="#fafafa" stroke-width="0.6"/>
<path d="M559.4 253.7 V395.4" stroke="#fafafa" stroke-width="0.6"/>
<path d="M601.2 253.7 V395.4" stroke="#fafafa" stroke-width="0.6"/>
<path d="M643 253.7 V395.4" stroke="#fafafa" stroke-width="0.6"/>
<path d="M510.7 381.25 H673.9" stroke="#fafafa" stroke-width="0.6"/>
<path d="M510.7 331.55 H673.9" stroke="#fafafa" stroke-width="0.6"/>
<path d="M510.7 281.85 H673.9" stroke="#fafafa" stroke-width="0.6"/>
<path d="M538.5 253.7 V395.4" stroke="#efefef" stroke-width="0.7"/>
<path d="M580.3 253.7 V395.4" stroke="#efefef" stroke-width="0.7"/>
<path d="M622.1 253.7 V395.4" stroke="#efefef" stroke-width="0.7"/>
<path d="M663.9 253.7 V395.4" stroke="#efefef" stroke-width="0.7"/>
<path d="M510.7 356.4 H673.9" stroke="#efefef" stroke-width="0.7"/>
<path d="M510.7 306.7 H673.9" stroke="#efefef" stroke-width="0.7"/>
<path d="M510.7 257 H673.9" stroke="#efefef" stroke-width="0.7"/>
<path d="M517.6 388.7 L518.52 386.76 L519.44 384.85 L520.36 383 L521.28 381.19 L522.2 379.43 L523.12 377.72 L524.04 376.02 L524.96 374.35 L525.88 372.74 L526.8 371.2 L527.72 369.79 L528.64 368.5 L529.56 367.27 L530.48 366.09 L531.4 364.95 L532.32 363.86 L533.24 362.81 L534.16 361.79 L535.08 360.8 L536 359.85 L536.92 358.92 L537.84 358.02 L538.76 357.14 L539.68 356.28 L540.6 355.43 L541.52 354.59 L542.44 353.77 L543.36 352.95 L544.28 352.15 L545.2 351.37 L546.12 350.6 L547.04 349.84 L547.96 349.09 L548.88 348.36 L549.8 347.64 L550.72 346.94 L551.64 346.25 L552.56 345.57 L553.48 344.91 L554.41 344.26 L555.33 343.62 L556.25 343.01 L557.17 342.4 L558.09 341.81 L559.01 341.24 L559.93 340.67 L560.85 340.13 L561.77 339.59 L562.69 339.06 L563.61 338.55 L564.53 338.04 L565.45 337.55 L566.37 337.07 L567.29 336.59 L568.21 336.12 L569.13 335.66 L570.05 335.21 L570.97 334.77 L571.89 334.33 L572.81 333.9 L573.73 333.47 L574.65 333.05 L575.57 332.64 L576.49 332.22 L577.41 331.82 L578.33 331.41 L579.25 331.01 L580.17 330.61 L581.09 330.22 L582.01 329.83 L582.93 329.44 L583.85 329.06 L584.77 328.68 L585.69 328.31 L586.61 327.94 L587.53 327.58 L588.45 327.22 L589.37 326.87 L590.29 326.52 L591.21 326.17 L592.13 325.83 L593.05 325.49 L593.97 325.15 L594.89 324.82 L595.81 324.48 L596.73 324.16 L597.65 323.83 L598.57 323.51 L599.49 323.19 L600.41 322.87 L601.33 322.56 L602.25 322.25 L603.17 321.93 L604.09 321.62 L605.01 321.31 L605.93 321 L606.85 320.7 L607.77 320.39 L608.69 320.09 L609.61 319.79 L610.53 319.5 L611.45 319.21 L612.37 318.92 L613.29 318.63 L614.21 318.35 L615.13 318.07 L616.05 317.8 L616.97 317.53 L617.89 317.27 L618.81 317.01 L619.73 316.76 L620.65 316.52 L621.57 316.28 L622.49 316.04 L623.41 315.82 L624.33 315.6 L625.25 315.38 L626.17 315.17 L627.09 314.96 L628.02 314.76 L628.94 314.56 L629.86 314.36 L630.78 314.17 L631.7 313.98 L632.62 313.79 L633.54 313.6 L634.46 313.42 L635.38 313.23 L636.3 313.05 L637.22 312.86 L638.14 312.68 L639.06 312.49 L639.98 312.3 L640.9 312.11 L641.82 311.92 L642.74 311.73 L643.66 311.53 L644.58 311.33 L645.5 311.14 L646.42 310.94 L647.34 310.74 L648.26 310.54 L649.18 310.35 L650.1 310.15 L651.02 309.95 L651.94 309.76 L652.86 309.56 L653.78 309.36 L654.7 309.17 L655.62 308.97 L656.54 308.77 L657.46 308.58 L658.38 308.38 L659.3 308.18 L660.22 307.98 L661.14 307.79 L662.06 307.59 L662.98 307.39 L663.9 307.2" fill="none" stroke="#000" stroke-width="2.6" stroke-dasharray="2.5 7.3 10.5 7.3"/>
<path d="M517.6 345.47 L518.52 340.85 L519.44 336.45 L520.36 332.34 L521.28 328.64 L522.2 325.41 L523.12 322.65 L524.04 320.17 L524.96 317.92 L525.88 315.83 L526.8 313.83 L527.72 311.88 L528.64 309.89 L529.56 307.82 L530.48 305.64 L531.4 303.38 L532.32 301.1 L533.24 298.83 L534.16 296.61 L535.08 294.5 L536 292.53 L536.92 290.74 L537.84 289.16 L538.76 287.73 L539.68 286.4 L540.6 285.16 L541.52 283.99 L542.44 282.87 L543.36 281.78 L544.28 280.7 L545.2 279.64 L546.12 278.61 L547.04 277.62 L547.96 276.69 L548.88 275.82 L549.8 275.04 L550.72 274.33 L551.64 273.65 L552.56 272.99 L553.48 272.35 L554.41 271.74 L555.33 271.16 L556.25 270.6 L557.17 270.06 L558.09 269.55 L559.01 269.06 L559.93 268.6 L560.85 268.17 L561.77 267.76 L562.69 267.38 L563.61 267.01 L564.53 266.65 L565.45 266.3 L566.37 265.97 L567.29 265.66 L568.21 265.36 L569.13 265.1 L570.05 264.85 L570.97 264.64 L571.89 264.46 L572.81 264.31 L573.73 264.16 L574.65 264.02 L575.57 263.88 L576.49 263.75 L577.41 263.63 L578.33 263.51 L579.25 263.4 L580.17 263.3 L581.09 263.2 L582.01 263.1 L582.93 263.01 L583.85 262.93 L584.77 262.84 L585.69 262.77 L586.61 262.69 L587.53 262.62 L588.45 262.55 L589.37 262.49 L590.29 262.43 L591.21 262.37 L592.13 262.31 L593.05 262.25 L593.97 262.2 L594.89 262.14 L595.81 262.09 L596.73 262.04 L597.65 261.99 L598.57 261.95 L599.49 261.9 L600.41 261.86 L601.33 261.81 L602.25 261.77 L603.17 261.73 L604.09 261.69 L605.01 261.65 L605.93 261.61 L606.85 261.57 L607.77 261.53 L608.69 261.5 L609.61 261.46 L610.53 261.42 L611.45 261.39 L612.37 261.35 L613.29 261.32 L614.21 261.28 L615.13 261.25 L616.05 261.21 L616.97 261.18 L617.89 261.14 L618.81 261.11 L619.73 261.07 L620.65 261.03 L621.57 261 L622.49 260.96 L623.41 260.92 L624.33 260.89 L625.25 260.85 L626.17 260.81 L627.09 260.78 L628.02 260.74 L628.94 260.7 L629.86 260.67 L630.78 260.63 L631.7 260.6 L632.62 260.56 L633.54 260.53 L634.46 260.49 L635.38 260.46 L636.3 260.42 L637.22 260.39 L638.14 260.35 L639.06 260.32 L639.98 260.29 L640.9 260.25 L641.82 260.22 L642.74 260.18 L643.66 260.15 L644.58 260.12 L645.5 260.09 L646.42 260.05 L647.34 260.02 L648.26 259.99 L649.18 259.96 L650.1 259.93 L651.02 259.9 L651.94 259.86 L652.86 259.83 L653.78 259.8 L654.7 259.77 L655.62 259.74 L656.54 259.71 L657.46 259.68 L658.38 259.65 L659.3 259.63 L660.22 259.6 L661.14 259.57 L662.06 259.54 L662.98 259.51 L663.9 259.48" fill="none" stroke="#000" stroke-width="2.6" stroke-dasharray="2.6 6.9"/>
<path d="M517.6 346.46 L518.34 344.72 L519.08 343.19 L519.82 341.87 L520.57 340.73 L521.31 339.76 L522.05 338.95 L522.79 338.28 L523.53 337.72 L524.27 337.27 L525.01 336.91 L525.76 336.63 L526.5 336.4 L527.24 336.2 L527.98 336.04 L528.72 335.88 L529.46 335.73 L530.21 335.59 L530.95 335.45 L531.69 335.32 L532.43 335.2 L533.17 335.09 L533.91 334.98 L534.65 334.88 L535.4 334.8 L536.14 334.72 L536.88 334.65 L537.62 334.59 L538.36 334.54 L539.1 334.5 L539.84 334.47 L540.59 334.45 L541.33 334.44 L542.07 334.44 L542.81 334.45 L543.55 334.46 L544.29 334.49 L545.03 334.52 L545.78 334.55 L546.52 334.6 L547.26 334.65 L548 334.7 L548.74 334.76 L549.48 334.83 L550.23 334.9 L550.97 334.97 L551.71 335.05 L552.45 335.13 L553.19 335.22 L553.93 335.31 L554.67 335.4 L555.42 335.49 L556.16 335.59 L556.9 335.69 L557.64 335.79 L558.38 335.88 L559.12 335.99 L559.86 336.09 L560.61 336.19 L561.35 336.29 L562.09 336.39 L562.83 336.49 L563.57 336.6 L564.31 336.7 L565.05 336.81 L565.8 336.92 L566.54 337.03 L567.28 337.14 L568.02 337.25 L568.76 337.36 L569.5 337.48 L570.24 337.6 L570.99 337.72 L571.73 337.84 L572.47 337.97 L573.21 338.1 L573.95 338.23 L574.69 338.37 L575.44 338.5 L576.18 338.65 L576.92 338.79 L577.66 338.94 L578.4 339.09 L579.14 339.25 L579.88 339.41 L580.63 339.57 L581.37 339.74 L582.11 339.92 L582.85 340.1 L583.59 340.28 L584.33 340.46 L585.07 340.65 L585.82 340.85 L586.56 341.05 L587.3 341.25 L588.04 341.45 L588.78 341.66 L589.52 341.88 L590.26 342.09 L591.01 342.32 L591.75 342.54 L592.49 342.77 L593.23 343 L593.97 343.24 L594.71 343.48 L595.46 343.72 L596.2 343.97 L596.94 344.21 L597.68 344.47 L598.42 344.72 L599.16 344.98 L599.9 345.25 L600.65 345.51 L601.39 345.78 L602.13 346.06 L602.87 346.33 L603.61 346.61 L604.35 346.89 L605.09 347.18 L605.84 347.46 L606.58 347.75 L607.32 348.05 L608.06 348.34 L608.8 348.64 L609.54 348.94 L610.28 349.25 L611.03 349.55 L611.77 349.86 L612.51 350.17 L613.25 350.49 L613.99 350.8 L614.73 351.12 L615.48 351.44 L616.22 351.77 L616.96 352.09 L617.7 352.42 L618.44 352.75 L619.18 353.08 L619.92 353.42 L620.67 353.76 L621.41 354.09 L622.15 354.43 L622.89 354.78 L623.63 355.12 L624.37 355.47 L625.11 355.81 L625.86 356.16 L626.6 356.52 L627.34 356.87 L628.08 357.22 L628.82 357.58 L629.56 357.94 L630.3 358.29 L631.05 358.65 L631.79 359.02 L632.53 359.38 L633.27 359.74 L634.01 360.11 L634.75 360.47 L635.49 360.84 L636.24 361.21 L636.98 361.58 L637.72 361.95 L638.46 362.32 L639.2 362.69 L639.94 363.06 L640.69 363.43 L641.43 363.81 L642.17 364.18 L642.91 364.55 L643.65 364.93 L644.39 365.31 L645.13 365.68 L645.88 366.06 L646.62 366.43 L647.36 366.81 L648.1 367.19 L648.84 367.56 L649.58 367.94 L650.32 368.32 L651.07 368.7 L651.81 369.07 L652.55 369.45 L653.29 369.83 L654.03 370.2 L654.77 370.58 L655.51 370.95 L656.26 371.33 L657 371.7 L657.74 372.08 L658.48 372.45 L659.22 372.83 L659.96 373.2 L660.71 373.57 L661.45 373.94 L662.19 374.31 L662.93 374.68 L663.67 375.05 L664.41 375.42 L665.15 375.78" fill="none" stroke="#000" stroke-width="2.6" stroke-linecap="round"/>
<rect x="510.7" y="253.7" width="163.2" height="141.7" fill="none" stroke="#a8a8a8" stroke-width="0.9"/>
<path d="M538.5 395.4 v3" stroke="#8a8a8a" stroke-width="0.9"/>
<text x="538.5" y="408.8" font-family='"Liberation Sans", Arial, Helvetica, sans-serif' font-size="11.3" font-weight="normal" fill="#1a1a1a" text-anchor="middle" >4</text>
<path d="M580.3 395.4 v3" stroke="#8a8a8a" stroke-width="0.9"/>
<text x="580.3" y="408.8" font-family='"Liberation Sans", Arial, Helvetica, sans-serif' font-size="11.3" font-weight="normal" fill="#1a1a1a" text-anchor="middle" >8</text>
<path d="M622.1 395.4 v3" stroke="#8a8a8a" stroke-width="0.9"/>
<text x="622.1" y="408.8" font-family='"Liberation Sans", Arial, Helvetica, sans-serif' font-size="11.3" font-weight="normal" fill="#1a1a1a" text-anchor="middle" >12</text>
<path d="M663.9 395.4 v3" stroke="#8a8a8a" stroke-width="0.9"/>
<text x="663.9" y="408.8" font-family='"Liberation Sans", Arial, Helvetica, sans-serif' font-size="11.3" font-weight="normal" fill="#1a1a1a" text-anchor="middle" >16</text>
<path d="M510.7 356.4 h-3" stroke="#8a8a8a" stroke-width="0.9"/>
<text x="505.3" y="360.4" font-family='"Liberation Sans", Arial, Helvetica, sans-serif' font-size="11.3" font-weight="normal" fill="#1a1a1a" text-anchor="end" >2</text>
<path d="M510.7 306.7 h-3" stroke="#8a8a8a" stroke-width="0.9"/>
<text x="505.3" y="310.7" font-family='"Liberation Sans", Arial, Helvetica, sans-serif' font-size="11.3" font-weight="normal" fill="#1a1a1a" text-anchor="end" >3</text>
<path d="M510.7 257 h-3" stroke="#8a8a8a" stroke-width="0.9"/>
<text x="505.3" y="261" font-family='"Liberation Sans", Arial, Helvetica, sans-serif' font-size="11.3" font-weight="normal" fill="#1a1a1a" text-anchor="end" >4</text>
<text transform="translate(494.2 324.2) rotate(-90)" font-family='"Liberation Sans", Arial, Helvetica, sans-serif' font-size="14" fill="#1a1a1a" text-anchor="middle" textLength="164" lengthAdjust="spacingAndGlyphs">Max Amplitude of PP (AU)</text>
<text x="510.3" y="421.9" font-family='"Liberation Sans", Arial, Helvetica, sans-serif' font-size="14.1" font-weight="normal" fill="#1a1a1a" text-anchor="start" textLength="165" lengthAdjust="spacingAndGlyphs" >Phosphate Donor (nt)(AU)</text>
<text x="685.1" y="302.4" font-family='"Liberation Sans", Arial, Helvetica, sans-serif' font-size="15.2" font-weight="bold" fill="#000" text-anchor="start" textLength="59.8" lengthAdjust="spacingAndGlyphs" >Network</text>
<rect x="684.4" y="306.9" width="17.1" height="16.7" fill="#fdfdfd" stroke="#d4d4d4" stroke-width="0.8"/>
<path d="M686.4 315.2 h13.8" stroke="#000" stroke-width="3"/>
<text x="703" y="320.5" font-family='"Liberation Sans", Arial, Helvetica, sans-serif' font-size="15.1" font-weight="normal" fill="#111" text-anchor="start" >BD1</text>
<rect x="684.4" y="323.6" width="17.1" height="16.7" fill="#fdfdfd" stroke="#d4d4d4" stroke-width="0.8"/>
<path d="M686.4 331.9 h2.6 m3 0 h2.9 m2.8 0 h2.6" stroke="#000" stroke-width="3"/>
<text x="703" y="337.2" font-family='"Liberation Sans", Arial, Helvetica, sans-serif' font-size="15.1" font-weight="normal" fill="#111" text-anchor="start" >CO</text>
<rect x="684.4" y="340.3" width="17.1" height="16.7" fill="#fdfdfd" stroke="#d4d4d4" stroke-width="0.8"/>
<path d="M686.4 348.6 h8 m2.5 0 h2.1" stroke="#000" stroke-width="3"/>
<text x="703" y="353.9" font-family='"Liberation Sans", Arial, Helvetica, sans-serif' font-size="15.1" font-weight="normal" fill="#111" text-anchor="start" >SO</text>
<text x="459.8" y="471" font-family='"Liberation Sans", Arial, Helvetica, sans-serif' font-size="19" font-weight="bold" fill="#000" text-anchor="start" >f</text>
<rect x="517.4" y="462.2" width="159" height="144" fill="#fff"/>
<path d="M524 462.2 V606.2" stroke="#fafafa" stroke-width="0.6"/>
<path d="M564.8 462.2 V606.2" stroke="#fafafa" stroke-width="0.6"/>
<path d="M605.6 462.2 V606.2" stroke="#fafafa" stroke-width="0.6"/>
<path d="M646.4 462.2 V606.2" stroke="#fafafa" stroke-width="0.6"/>
<path d="M517.4 582.8 H676.4" stroke="#fafafa" stroke-width="0.6"/>
<path d="M517.4 547.8 H676.4" stroke="#fafafa" stroke-width="0.6"/>
<path d="M517.4 512.8 H676.4" stroke="#fafafa" stroke-width="0.6"/>
<path d="M517.4 477.8 H676.4" stroke="#fafafa" stroke-width="0.6"/>
<path d="M544.4 462.2 V606.2" stroke="#efefef" stroke-width="0.7"/>
<path d="M585.2 462.2 V606.2" stroke="#efefef" stroke-width="0.7"/>
<path d="M626 462.2 V606.2" stroke="#efefef" stroke-width="0.7"/>
<path d="M666.8 462.2 V606.2" stroke="#efefef" stroke-width="0.7"/>
<path d="M517.4 600.3 H676.4" stroke="#efefef" stroke-width="0.7"/>
<path d="M517.4 565.3 H676.4" stroke="#efefef" stroke-width="0.7"/>
<path d="M517.4 530.3 H676.4" stroke="#efefef" stroke-width="0.7"/>
<path d="M517.4 495.3 H676.4" stroke="#efefef" stroke-width="0.7"/>
<path d="M526.24 593.44 L526.95 585.74 L527.66 579.16 L528.36 575.3 L529.07 572.76 L529.78 570.79 L530.48 569.25 L531.19 568.02 L531.89 567.03 L532.6 566.2 L533.31 565.49 L534.01 564.85 L534.72 564.21 L535.43 563.52 L536.13 562.75 L536.84 561.92 L537.54 561.07 L538.25 560.2 L538.96 559.34 L539.66 558.5 L540.37 557.7 L541.08 556.94 L541.78 556.26 L542.49 555.64 L543.2 555.07 L543.9 554.54 L544.61 554.02 L545.31 553.53 L546.02 553.05 L546.73 552.56 L547.43 552.07 L548.14 551.56 L548.85 551.02 L549.55 550.47 L550.26 549.91 L550.96 549.35 L551.67 548.78 L552.38 548.21 L553.08 547.65 L553.79 547.09 L554.5 546.54 L555.2 546.01 L555.91 545.49 L556.62 544.99 L557.32 544.49 L558.03 544.01 L558.73 543.53 L559.44 543.05 L560.15 542.58 L560.85 542.1 L561.56 541.62 L562.27 541.14 L562.97 540.66 L563.68 540.18 L564.38 539.7 L565.09 539.22 L565.8 538.74 L566.5 538.26 L567.21 537.78 L567.92 537.31 L568.62 536.83 L569.33 536.36 L570.04 535.89 L570.74 535.42 L571.45 534.95 L572.15 534.48 L572.86 534.02 L573.57 533.56 L574.27 533.1 L574.98 532.64 L575.69 532.19 L576.39 531.75 L577.1 531.31 L577.8 530.89 L578.51 530.47 L579.22 530.06 L579.92 529.64 L580.63 529.22 L581.34 528.79 L582.04 528.36 L582.75 527.91 L583.46 527.44 L584.16 526.96 L584.87 526.45 L585.57 525.93 L586.28 525.41 L586.99 524.88 L587.69 524.35 L588.4 523.82 L589.11 523.3 L589.81 522.8 L590.52 522.31 L591.22 521.84 L591.93 521.38 L592.64 520.92 L593.34 520.47 L594.05 520.03 L594.76 519.58 L595.46 519.13 L596.17 518.68 L596.88 518.22 L597.58 517.74 L598.29 517.26 L598.99 516.77 L599.7 516.26 L600.41 515.76 L601.11 515.25 L601.82 514.74 L602.53 514.23 L603.23 513.73 L603.94 513.23 L604.64 512.74 L605.35 512.26 L606.06 511.8 L606.76 511.34 L607.47 510.89 L608.18 510.45 L608.88 510.01 L609.59 509.57 L610.3 509.14 L611 508.71 L611.71 508.29 L612.41 507.87 L613.12 507.45 L613.83 507.03 L614.53 506.62 L615.24 506.21 L615.95 505.79 L616.65 505.38 L617.36 504.97 L618.06 504.56 L618.77 504.15 L619.48 503.73 L620.18 503.32 L620.89 502.9 L621.6 502.48 L622.3 502.06 L623.01 501.63 L623.71 501.2 L624.42 500.77 L625.13 500.33 L625.83 499.89 L626.54 499.44 L627.25 498.99 L627.95 498.53 L628.66 498.08 L629.37 497.62 L630.07 497.16 L630.78 496.7 L631.48 496.24 L632.19 495.77 L632.9 495.31 L633.6 494.84 L634.31 494.37 L635.02 493.9 L635.72 493.43 L636.43 492.95 L637.13 492.48 L637.84 492 L638.55 491.53 L639.25 491.05 L639.96 490.57 L640.67 490.09 L641.37 489.62 L642.08 489.14 L642.79 488.66 L643.49 488.18 L644.2 487.7 L644.9 487.22 L645.61 486.74 L646.32 486.26 L647.02 485.78 L647.73 485.3 L648.44 484.81 L649.14 484.33 L649.85 483.85 L650.55 483.37 L651.26 482.88 L651.97 482.4 L652.67 481.91 L653.38 481.43 L654.09 480.94 L654.79 480.45 L655.5 479.96 L656.21 479.47 L656.91 478.98 L657.62 478.49 L658.32 478 L659.03 477.51 L659.74 477.02 L660.44 476.53 L661.15 476.03 L661.86 475.54 L662.56 475.04 L663.27 474.55 L663.97 474.05 L664.68 473.55 L665.39 473.06 L666.09 472.56 L666.8 472.06" fill="none" stroke="#000" stroke-width="2.6" stroke-dasharray="10.5 7.3 2.5 7.3" stroke-dashoffset="5.3"/>
<path d="M525.43 600.3 L526.13 595.32 L526.84 591.36 L527.54 589 L528.25 587.21 L528.95 585.77 L529.66 584.51 L530.37 583.29 L531.07 582.08 L531.78 580.95 L532.48 579.89 L533.19 578.87 L533.89 577.91 L534.6 576.97 L535.3 576.06 L536.01 575.17 L536.71 574.32 L537.42 573.5 L538.12 572.71 L538.83 571.94 L539.53 571.18 L540.24 570.43 L540.94 569.66 L541.65 568.89 L542.35 568.09 L543.06 567.27 L543.77 566.45 L544.47 565.63 L545.18 564.81 L545.88 564 L546.59 563.2 L547.29 562.42 L548 561.66 L548.7 560.93 L549.41 560.2 L550.11 559.49 L550.82 558.78 L551.52 558.09 L552.23 557.41 L552.93 556.74 L553.64 556.07 L554.34 555.41 L555.05 554.76 L555.76 554.12 L556.46 553.49 L557.17 552.87 L557.87 552.25 L558.58 551.64 L559.28 551.03 L559.99 550.42 L560.69 549.81 L561.4 549.19 L562.1 548.58 L562.81 547.96 L563.51 547.34 L564.22 546.72 L564.92 546.11 L565.63 545.49 L566.33 544.88 L567.04 544.28 L567.75 543.68 L568.45 543.08 L569.16 542.49 L569.86 541.91 L570.57 541.33 L571.27 540.75 L571.98 540.17 L572.68 539.6 L573.39 539.03 L574.09 538.46 L574.8 537.88 L575.5 537.31 L576.21 536.74 L576.91 536.17 L577.62 535.6 L578.32 535.03 L579.03 534.46 L579.74 533.89 L580.44 533.33 L581.15 532.77 L581.85 532.21 L582.56 531.65 L583.26 531.1 L583.97 530.54 L584.67 529.99 L585.38 529.44 L586.08 528.89 L586.79 528.35 L587.49 527.81 L588.2 527.27 L588.9 526.75 L589.61 526.23 L590.31 525.73 L591.02 525.24 L591.72 524.77 L592.43 524.31 L593.14 523.85 L593.84 523.39 L594.55 522.92 L595.25 522.44 L595.96 521.93 L596.66 521.41 L597.37 520.85 L598.07 520.24 L598.78 519.6 L599.48 518.94 L600.19 518.26 L600.89 517.56 L601.6 516.87 L602.3 516.2 L603.01 515.54 L603.71 514.91 L604.42 514.33 L605.13 513.78 L605.83 513.24 L606.54 512.71 L607.24 512.2 L607.95 511.69 L608.65 511.2 L609.36 510.71 L610.06 510.23 L610.77 509.76 L611.47 509.3 L612.18 508.84 L612.88 508.39 L613.59 507.94 L614.29 507.5 L615 507.06 L615.7 506.62 L616.41 506.19 L617.12 505.76 L617.82 505.33 L618.53 504.89 L619.23 504.46 L619.94 504.03 L620.64 503.6 L621.35 503.17 L622.05 502.73 L622.76 502.29 L623.46 501.84 L624.17 501.39 L624.87 500.94 L625.58 500.48 L626.28 500.01 L626.99 499.55 L627.69 499.08 L628.4 498.62 L629.11 498.15 L629.81 497.69 L630.52 497.23 L631.22 496.76 L631.93 496.3 L632.63 495.84 L633.34 495.37 L634.04 494.91 L634.75 494.45 L635.45 493.98 L636.16 493.51 L636.86 493.04 L637.57 492.57 L638.27 492.1 L638.98 491.63 L639.68 491.15 L640.39 490.68 L641.09 490.19 L641.8 489.71 L642.51 489.23 L643.21 488.74 L643.92 488.24 L644.62 487.75 L645.33 487.25 L646.03 486.74 L646.74 486.24 L647.44 485.73 L648.15 485.21 L648.85 484.7 L649.56 484.18 L650.26 483.66 L650.97 483.13 L651.67 482.6 L652.38 482.07 L653.08 481.54 L653.79 481 L654.5 480.47 L655.2 479.92 L655.91 479.38 L656.61 478.83 L657.32 478.28 L658.02 477.73 L658.73 477.18 L659.43 476.62 L660.14 476.06 L660.84 475.5 L661.55 474.94 L662.25 474.37 L662.96 473.8 L663.66 473.23 L664.37 472.65 L665.07 472.08 L665.78 471.5" fill="none" stroke="#000" stroke-width="2.6" stroke-dasharray="2.6 7.2"/>
<path d="M524.51 564.32 L525.24 563.93 L525.96 563.52 L526.69 563.09 L527.41 562.64 L528.14 562.17 L528.86 561.68 L529.59 561.18 L530.31 560.66 L531.04 560.13 L531.76 559.58 L532.49 559.02 L533.21 558.44 L533.94 557.85 L534.66 557.25 L535.39 556.65 L536.11 556.03 L536.84 555.4 L537.56 554.76 L538.29 554.12 L539.02 553.47 L539.74 552.81 L540.47 552.15 L541.19 551.48 L541.92 550.81 L542.64 550.14 L543.37 549.46 L544.09 548.79 L544.82 548.11 L545.54 547.43 L546.27 546.76 L546.99 546.08 L547.72 545.4 L548.44 544.73 L549.17 544.05 L549.89 543.37 L550.62 542.7 L551.35 542.02 L552.07 541.35 L552.8 540.68 L553.52 540.01 L554.25 539.33 L554.97 538.66 L555.7 537.99 L556.42 537.33 L557.15 536.66 L557.87 536 L558.6 535.33 L559.32 534.67 L560.05 534.01 L560.77 533.35 L561.5 532.7 L562.22 532.04 L562.95 531.39 L563.67 530.74 L564.4 530.1 L565.13 529.45 L565.85 528.81 L566.58 528.17 L567.3 527.53 L568.03 526.9 L568.75 526.26 L569.48 525.63 L570.2 525 L570.93 524.37 L571.65 523.75 L572.38 523.12 L573.1 522.5 L573.83 521.88 L574.55 521.26 L575.28 520.64 L576 520.02 L576.73 519.4 L577.46 518.79 L578.18 518.17 L578.91 517.56 L579.63 516.94 L580.36 516.33 L581.08 515.72 L581.81 515.1 L582.53 514.49 L583.26 513.88 L583.98 513.27 L584.71 512.66 L585.43 512.04 L586.16 511.43 L586.88 510.82 L587.61 510.21 L588.33 509.6 L589.06 508.99 L589.78 508.38 L590.51 507.77 L591.24 507.17 L591.96 506.57 L592.69 505.97 L593.41 505.37 L594.14 504.77 L594.86 504.18 L595.59 503.59 L596.31 503.01 L597.04 502.43 L597.76 501.86 L598.49 501.29 L599.21 500.72 L599.94 500.16 L600.66 499.61 L601.39 499.06 L602.11 498.51 L602.84 497.98 L603.57 497.45 L604.29 496.93 L605.02 496.41 L605.74 495.9 L606.47 495.4 L607.19 494.91 L607.92 494.42 L608.64 493.95 L609.37 493.47 L610.09 493.01 L610.82 492.55 L611.54 492.1 L612.27 491.66 L612.99 491.23 L613.72 490.8 L614.44 490.37 L615.17 489.95 L615.89 489.54 L616.62 489.14 L617.35 488.74 L618.07 488.34 L618.8 487.96 L619.52 487.57 L620.25 487.2 L620.97 486.82 L621.7 486.46 L622.42 486.1 L623.15 485.74 L623.87 485.39 L624.6 485.04 L625.32 484.7 L626.05 484.36 L626.77 484.02 L627.5 483.69 L628.22 483.37 L628.95 483.05 L629.68 482.73 L630.4 482.42 L631.13 482.11 L631.85 481.81 L632.58 481.52 L633.3 481.23 L634.03 480.94 L634.75 480.67 L635.48 480.39 L636.2 480.13 L636.93 479.87 L637.65 479.61 L638.38 479.37 L639.1 479.13 L639.83 478.89 L640.55 478.66 L641.28 478.44 L642 478.23 L642.73 478.03 L643.46 477.83 L644.18 477.64 L644.91 477.45 L645.63 477.28 L646.36 477.11 L647.08 476.95 L647.81 476.8 L648.53 476.65 L649.26 476.52 L649.98 476.39 L650.71 476.27 L651.43 476.15 L652.16 476.05 L652.88 475.94 L653.61 475.85 L654.33 475.76 L655.06 475.68 L655.79 475.6 L656.51 475.53 L657.24 475.46 L657.96 475.4 L658.69 475.35 L659.41 475.3 L660.14 475.25 L660.86 475.21 L661.59 475.17 L662.31 475.14 L663.04 475.11 L663.76 475.09 L664.49 475.06 L665.21 475.05 L665.94 475.03 L666.66 475.02 L667.39 475.01 L668.11 475 L668.84 475" fill="none" stroke="#000" stroke-width="2.6" stroke-linecap="round"/>
<rect x="517.4" y="462.2" width="159" height="144" fill="none" stroke="#a8a8a8" stroke-width="0.9"/>
<path d="M544.4 606.2 v3" stroke="#8a8a8a" stroke-width="0.9"/>
<text x="544.4" y="619.6" font-family='"Liberation Sans", Arial, Helvetica, sans-serif' font-size="11.3" font-weight="normal" fill="#1a1a1a" text-anchor="middle" >4</text>
<path d="M585.2 606.2 v3" stroke="#8a8a8a" stroke-width="0.9"/>
<text x="585.2" y="619.6" font-family='"Liberation Sans", Arial, Helvetica, sans-serif' font-size="11.3" font-weight="normal" fill="#1a1a1a" text-anchor="middle" >8</text>
<path d="M626 606.2 v3" stroke="#8a8a8a" stroke-width="0.9"/>
<text x="626" y="619.6" font-family='"Liberation Sans", Arial, Helvetica, sans-serif' font-size="11.3" font-weight="normal" fill="#1a1a1a" text-anchor="middle" >12</text>
<path d="M666.8 606.2 v3" stroke="#8a8a8a" stroke-width="0.9"/>
<text x="666.8" y="619.6" font-family='"Liberation Sans", Arial, Helvetica, sans-serif' font-size="11.3" font-weight="normal" fill="#1a1a1a" text-anchor="middle" >16</text>
<path d="M517.4 600.3 h-3" stroke="#8a8a8a" stroke-width="0.9"/>
<text x="513.8" y="604.9" font-family='"Liberation Sans", Arial, Helvetica, sans-serif' font-size="11.3" font-weight="normal" fill="#1a1a1a" text-anchor="end" >0</text>
<path d="M517.4 565.3 h-3" stroke="#8a8a8a" stroke-width="0.9"/>
<text x="513.8" y="569.9" font-family='"Liberation Sans", Arial, Helvetica, sans-serif' font-size="11.3" font-weight="normal" fill="#1a1a1a" text-anchor="end" >25</text>
<path d="M517.4 530.3 h-3" stroke="#8a8a8a" stroke-width="0.9"/>
<text x="513.8" y="534.9" font-family='"Liberation Sans", Arial, Helvetica, sans-serif' font-size="11.3" font-weight="normal" fill="#1a1a1a" text-anchor="end" >50</text>
<path d="M517.4 495.3 h-3" stroke="#8a8a8a" stroke-width="0.9"/>
<text x="513.8" y="499.9" font-family='"Liberation Sans", Arial, Helvetica, sans-serif' font-size="11.3" font-weight="normal" fill="#1a1a1a" text-anchor="end" >75</text>
<text transform="translate(496.5 534.2) rotate(-90)" font-family='"Liberation Sans", Arial, Helvetica, sans-serif' font-size="14.5" fill="#1a1a1a" text-anchor="middle" textLength="76" lengthAdjust="spacingAndGlyphs">Period (AU)</text>
<text x="512.9" y="632.8" font-family='"Liberation Sans", Arial, Helvetica, sans-serif' font-size="14.3" font-weight="normal" fill="#1a1a1a" text-anchor="start" textLength="168" lengthAdjust="spacingAndGlyphs" >Phosphate Donor (nt)(AU)</text>
<text x="687.8" y="503.7" font-family='"Liberation Sans", Arial, Helvetica, sans-serif' font-size="15.2" font-weight="bold" fill="#000" text-anchor="start" textLength="59.8" lengthAdjust="spacingAndGlyphs" >Network</text>
<rect x="687.1" y="507.9" width="17.1" height="16.7" fill="#fdfdfd" stroke="#d4d4d4" stroke-width="0.8"/>
<path d="M689.1 516.2 h13.8" stroke="#000" stroke-width="3"/>
<text x="705.7" y="521.5" font-family='"Liberation Sans", Arial, Helvetica, sans-serif' font-size="15.1" font-weight="normal" fill="#111" text-anchor="start" >BD1</text>
<rect x="687.1" y="524.6" width="17.1" height="16.7" fill="#fdfdfd" stroke="#d4d4d4" stroke-width="0.8"/>
<path d="M689.1 532.9 h2.8" stroke="#000" stroke-width="3"/>
<path d="M701.7 532.9 h1.2" stroke="#999" stroke-width="3"/>
<text x="705.7" y="538.2" font-family='"Liberation Sans", Arial, Helvetica, sans-serif' font-size="15.1" font-weight="normal" fill="#111" text-anchor="start" >CO</text>
<rect x="687.1" y="541.3" width="17.1" height="16.7" fill="#fdfdfd" stroke="#d4d4d4" stroke-width="0.8"/>
<path d="M689.1 549.6 h2.8" stroke="#000" stroke-width="3"/>
<path d="M701.7 549.6 h1.2" stroke="#999" stroke-width="3"/>
<text x="705.7" y="554.9" font-family='"Liberation Sans", Arial, Helvetica, sans-serif' font-size="15.1" font-weight="normal" fill="#111" text-anchor="start" >SO</text>
</svg>
</body></html>
